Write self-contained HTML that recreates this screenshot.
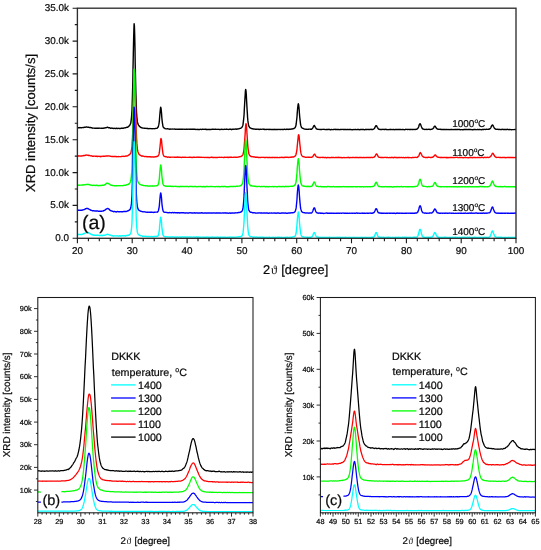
<!DOCTYPE html>
<html lang="en"><head><meta charset="utf-8"><title>XRD patterns</title>
<style>html,body{margin:0;padding:0;background:#fff}body{width:541px;height:550px;overflow:hidden}svg text{white-space:pre;text-rendering:geometricPrecision;stroke:#0a0a0a;stroke-width:0.22px}</style>
</head><body>
<svg width="541" height="550" viewBox="0 0 541 550" style="display:block">
<rect width="541" height="550" fill="#fff"/>
<clipPath id="ca"><rect x="77.4" y="8.2" width="438.6" height="230.90000000000003"/></clipPath>
<g fill="none" stroke-width="1.4" stroke-linejoin="round" clip-path="url(#ca)">
<path d="M77.4 127.6L77.7 127.7L77.9 127.8L78.2 127.7L78.5 127.7L78.8 127.8L79 127.8L79.3 127.9L79.6 127.6L79.9 127.6L80.1 127.5L80.4 127.7L80.7 127.8L81 127.8L81.2 127.8L81.5 127.7L81.8 127.7L82.1 127.6L82.3 127.6L82.6 127.6L82.9 127.5L83.2 127.5L83.4 127.5L83.7 127.5L84 127.5L84.3 127.3L84.5 127.3L84.8 127.3L85.1 127.3L85.3 127.2L85.6 127.2L85.9 127.1L86.2 127L86.4 127L86.7 127L87 127.1L87.3 127.1L87.5 127.2L87.8 127.2L88.1 127.2L88.4 127.2L88.6 127.2L88.9 127.3L89.2 127.4L89.5 127.5L89.7 127.4L90 127.4L90.3 127.5L90.6 127.5L90.8 127.7L91.1 127.8L91.4 127.8L91.7 127.8L91.9 127.8L92.2 128L92.5 128L92.8 128.2L93 128.1L93.3 128.1L93.6 128.1L93.8 128.1L94.1 128.2L94.4 128.1L94.7 128.2L94.9 128.3L95.2 128.3L95.5 128.1L95.8 128.2L96 128.3L96.3 128.3L96.6 128.2L96.9 128.1L97.1 128.2L97.4 128.2L97.7 128.3L98 128.2L98.2 128.2L98.5 128.2L98.8 128.4L99.1 128.3L99.3 128.2L99.6 128.1L99.9 128.1L100.2 128.1L100.4 128.2L100.7 128.3L101 128.4L101.2 128.3L101.5 128.3L101.8 128.3L102.1 128.4L102.3 128.3L102.6 128.2L102.9 128.2L103.2 128.3L103.4 128.3L103.7 128.2L104 128L104.3 127.9L104.5 128L104.8 128L105.1 127.9L105.4 127.8L105.6 127.8L105.9 127.7L106.2 127.7L106.5 127.5L106.7 127.5L107 127.3L107.3 127.2L107.6 127.1L107.8 127.4L108.1 127.5L108.4 127.7L108.7 127.6L108.9 127.8L109.2 127.8L109.5 127.8L109.7 127.8L110 128L110.3 128.2L110.6 128.2L110.8 128.2L111.1 128L111.4 128.1L111.7 128.1L111.9 128.3L112.2 128.2L112.5 128.2L112.8 128.2L113 128.3L113.3 128.4L113.6 128.5L113.9 128.4L114.1 128.3L114.4 128.3L114.7 128.4L115 128.4L115.2 128.5L115.5 128.5L115.8 128.5L116.1 128.3L116.3 128.3L116.6 128.3L116.9 128.5L117.1 128.6L117.4 128.5L117.7 128.4L118 128.3L118.2 128.3L118.5 128.4L118.8 128.4L119.1 128.5L119.3 128.5L119.6 128.5L119.9 128.4L120.2 128.4L120.4 128.5L120.7 128.4L121 128.3L121.3 128.3L121.5 128.3L121.8 128.3L122.1 128.2L122.4 128.1L122.6 128.2L122.9 128.2L123.2 128.3L123.5 128.1L123.7 128.1L124 128L124.3 127.9L124.5 127.9L124.8 127.8L125.1 127.8L125.4 127.8L125.6 127.8L125.9 127.7L126.2 127.5L126.5 127.4L126.7 127.2L127 127.2L127.3 127.2L127.6 127.2L127.8 127L128.1 126.8L128.4 126.6L128.7 126.5L128.9 126.1L129.2 125.9L129.5 125.5L129.8 125.2L130 124.7L130.3 124.2L130.6 123.5L130.9 122.3L131.1 120.7L131.4 118.3L131.7 114.9L132 110L132.2 103.2L132.5 94.1L132.8 82.7L133 69.3L133.3 54.5L133.6 40.3L133.9 28.9L134.1 23.7L134.4 25.8L134.7 35.1L135 48.5L135.2 63.4L135.5 77.6L135.8 90L136.1 100.1L136.3 107.7L136.6 113.3L136.9 117.3L137.2 120L137.4 121.9L137.7 123.1L138 124.1L138.3 124.6L138.5 125L138.8 125.5L139.1 125.9L139.4 126.3L139.6 126.5L139.9 126.7L140.2 127L140.4 127.2L140.7 127.4L141 127.5L141.3 127.5L141.5 127.7L141.8 127.7L142.1 127.8L142.4 127.9L142.6 128L142.9 128.1L143.2 128.1L143.5 128.1L143.7 128.1L144 128.2L144.3 128.4L144.6 128.4L144.8 128.3L145.1 128.3L145.4 128.3L145.7 128.4L145.9 128.4L146.2 128.3L146.5 128.4L146.8 128.4L147 128.5L147.3 128.5L147.6 128.6L147.9 128.5L148.1 128.6L148.4 128.6L148.7 128.7L148.9 128.8L149.2 128.7L149.5 128.6L149.8 128.6L150 128.5L150.3 128.6L150.6 128.6L150.9 128.6L151.1 128.6L151.4 128.7L151.7 128.7L152 128.6L152.2 128.6L152.5 128.7L152.8 128.7L153.1 128.6L153.3 128.6L153.6 128.6L153.9 128.7L154.2 128.6L154.4 128.7L154.7 128.6L155 128.6L155.3 128.5L155.5 128.4L155.8 128.4L156.1 128.4L156.3 128.4L156.6 128.4L156.9 128.3L157.2 128.1L157.4 127.9L157.7 127.5L158 127.3L158.3 126.6L158.5 125.9L158.8 124.7L159.1 123L159.4 120.6L159.6 117.5L159.9 114.1L160.2 110.8L160.5 108.2L160.7 107.2L161 108.2L161.3 110.8L161.6 114.1L161.8 117.4L162.1 120.4L162.4 122.8L162.7 124.7L162.9 126.1L163.2 127L163.5 127.4L163.7 127.7L164 127.9L164.3 128.2L164.6 128.3L164.8 128.5L165.1 128.5L165.4 128.7L165.7 128.8L165.9 128.9L166.2 128.9L166.5 128.9L166.8 128.9L167 128.9L167.3 128.7L167.6 128.7L167.9 128.8L168.1 128.9L168.4 128.9L168.7 129L169 129L169.2 129L169.5 129.2L169.8 129.2L170.1 129.2L170.3 129L170.6 129.1L170.9 129.1L171.2 129.1L171.4 129.1L171.7 129.1L172 129.1L172.2 129L172.5 129.1L172.8 129.1L173.1 129.1L173.3 129.1L173.6 129.1L173.9 129.1L174.2 129L174.4 129L174.7 129.1L175 129.2L175.3 129.2L175.5 129.2L175.8 129.2L176.1 129.1L176.4 129.2L176.6 129.2L176.9 129.4L177.2 129.4L177.5 129.3L177.7 129.2L178 129.2L178.3 129.4L178.6 129.3L178.8 129.3L179.1 129.3L179.4 129.3L179.6 129.3L179.9 129.2L180.2 129.2L180.5 129.2L180.7 129.2L181 129.1L181.3 129.3L181.6 129.3L181.8 129.3L182.1 129.2L182.4 129.2L182.7 129.2L182.9 129.1L183.2 129.1L183.5 129.2L183.8 129.3L184 129.4L184.3 129.3L184.6 129.2L184.9 129.2L185.1 129.3L185.4 129.3L185.7 129.4L186 129.3L186.2 129.3L186.5 129.2L186.8 129.4L187.1 129.4L187.3 129.3L187.6 129.2L187.9 129.2L188.1 129.2L188.4 129.2L188.7 129.1L189 129.1L189.2 129.2L189.5 129.2L189.8 129.2L190.1 129.3L190.3 129.2L190.6 129.3L190.9 129.1L191.2 129.3L191.4 129.3L191.7 129.3L192 129.3L192.3 129.3L192.5 129.3L192.8 129.2L193.1 129.3L193.4 129.3L193.6 129.3L193.9 129.2L194.2 129.2L194.5 129.3L194.7 129.3L195 129.3L195.3 129.3L195.5 129.4L195.8 129.5L196.1 129.5L196.4 129.4L196.6 129.4L196.9 129.4L197.2 129.4L197.5 129.3L197.7 129.5L198 129.4L198.3 129.5L198.6 129.5L198.8 129.5L199.1 129.4L199.4 129.4L199.7 129.5L199.9 129.4L200.2 129.4L200.5 129.3L200.8 129.3L201 129.3L201.3 129.4L201.6 129.5L201.9 129.4L202.1 129.3L202.4 129.2L202.7 129.2L202.9 129.3L203.2 129.3L203.5 129.4L203.8 129.3L204 129.3L204.3 129.3L204.6 129.4L204.9 129.4L205.1 129.3L205.4 129.1L205.7 129.1L206 129.2L206.2 129.5L206.5 129.5L206.8 129.5L207.1 129.4L207.3 129.4L207.6 129.5L207.9 129.4L208.2 129.5L208.4 129.5L208.7 129.4L209 129.3L209.3 129.4L209.5 129.5L209.8 129.5L210.1 129.4L210.4 129.4L210.6 129.5L210.9 129.5L211.2 129.4L211.4 129.4L211.7 129.3L212 129.2L212.3 129.2L212.5 129.2L212.8 129.2L213.1 129.2L213.4 129.2L213.6 129.3L213.9 129.4L214.2 129.4L214.5 129.3L214.7 129.3L215 129.3L215.3 129.3L215.6 129.3L215.8 129.3L216.1 129.3L216.4 129.4L216.7 129.4L216.9 129.4L217.2 129.4L217.5 129.4L217.8 129.3L218 129.3L218.3 129.3L218.6 129.4L218.8 129.4L219.1 129.4L219.4 129.5L219.7 129.5L219.9 129.4L220.2 129.4L220.5 129.4L220.8 129.5L221 129.4L221.3 129.3L221.6 129.3L221.9 129.3L222.1 129.3L222.4 129.4L222.7 129.4L223 129.5L223.2 129.4L223.5 129.4L223.8 129.4L224.1 129.4L224.3 129.3L224.6 129.2L224.9 129.3L225.2 129.4L225.4 129.3L225.7 129.4L226 129.3L226.2 129.4L226.5 129.2L226.8 129.3L227.1 129.3L227.3 129.4L227.6 129.3L227.9 129.4L228.2 129.4L228.4 129.4L228.7 129.5L229 129.4L229.3 129.3L229.5 129.2L229.8 129.2L230.1 129.3L230.4 129.3L230.6 129.3L230.9 129.2L231.2 129.3L231.5 129.6L231.7 129.7L232 129.5L232.3 129.3L232.6 129.3L232.8 129.3L233.1 129.3L233.4 129.3L233.7 129.2L233.9 129.1L234.2 129.1L234.5 129.2L234.7 129.2L235 129.2L235.3 129.1L235.6 129L235.8 129L236.1 129.1L236.4 129.3L236.7 129.2L236.9 129L237.2 128.9L237.5 128.9L237.8 129L238 128.9L238.3 128.9L238.6 128.8L238.9 128.8L239.1 128.6L239.4 128.6L239.7 128.5L240 128.4L240.2 128.4L240.5 128.3L240.8 128.2L241.1 128L241.3 127.8L241.6 127.6L241.9 127.3L242.1 127.1L242.4 126.5L242.7 125.7L243 124.6L243.2 122.9L243.5 120.7L243.8 117.7L244.1 114.2L244.3 109.7L244.6 104.6L244.9 99.3L245.2 94.5L245.4 90.9L245.7 89.5L246 90.9L246.3 94.3L246.5 99.1L246.8 104.4L247.1 109.6L247.4 114.1L247.6 117.8L247.9 120.9L248.2 123L248.5 124.7L248.7 125.6L249 126.5L249.3 126.9L249.6 127.3L249.8 127.7L250.1 127.9L250.4 128L250.6 128.1L250.9 128.2L251.2 128.4L251.5 128.5L251.7 128.5L252 128.7L252.3 128.7L252.6 128.8L252.8 128.8L253.1 129L253.4 129L253.7 129L253.9 129L254.2 129L254.5 129.1L254.8 129.1L255 129.2L255.3 129.2L255.6 129.3L255.9 129.3L256.1 129.3L256.4 129.3L256.7 129.3L257 129.3L257.2 129.2L257.5 129.1L257.8 129.1L258 129.2L258.3 129.2L258.6 129.4L258.9 129.4L259.1 129.5L259.4 129.5L259.7 129.4L260 129.2L260.2 129.2L260.5 129.2L260.8 129.3L261.1 129.4L261.3 129.3L261.6 129.4L261.9 129.3L262.2 129.2L262.4 129.1L262.7 129.1L263 129.2L263.3 129.3L263.5 129.3L263.8 129.2L264.1 129.3L264.4 129.3L264.6 129.5L264.9 129.5L265.2 129.4L265.4 129.4L265.7 129.4L266 129.5L266.3 129.5L266.5 129.4L266.8 129.3L267.1 129.3L267.4 129.4L267.6 129.4L267.9 129.4L268.2 129.3L268.5 129.4L268.7 129.5L269 129.5L269.3 129.6L269.6 129.4L269.8 129.3L270.1 129.3L270.4 129.4L270.7 129.5L270.9 129.5L271.2 129.4L271.5 129.5L271.8 129.6L272 129.6L272.3 129.5L272.6 129.4L272.9 129.5L273.1 129.4L273.4 129.6L273.7 129.5L273.9 129.5L274.2 129.4L274.5 129.3L274.8 129.5L275 129.4L275.3 129.5L275.6 129.4L275.9 129.5L276.1 129.5L276.4 129.4L276.7 129.5L277 129.5L277.2 129.6L277.5 129.5L277.8 129.4L278.1 129.4L278.3 129.4L278.6 129.4L278.9 129.5L279.2 129.5L279.4 129.4L279.7 129.4L280 129.4L280.3 129.4L280.5 129.5L280.8 129.4L281.1 129.5L281.3 129.4L281.6 129.4L281.9 129.4L282.2 129.4L282.4 129.6L282.7 129.5L283 129.6L283.3 129.5L283.5 129.5L283.8 129.4L284.1 129.3L284.4 129.3L284.6 129.3L284.9 129.3L285.2 129.4L285.5 129.4L285.7 129.5L286 129.5L286.3 129.4L286.6 129.2L286.8 129.3L287.1 129.3L287.4 129.3L287.7 129.3L287.9 129.4L288.2 129.5L288.5 129.4L288.8 129.2L289 129.2L289.3 129.2L289.6 129.3L289.8 129.3L290.1 129.3L290.4 129.3L290.7 129.2L290.9 129.1L291.2 129L291.5 129.1L291.8 129.2L292 129.1L292.3 128.9L292.6 128.8L292.9 128.8L293.1 128.8L293.4 128.6L293.7 128.5L294 128.5L294.2 128.3L294.5 128.2L294.8 127.9L295.1 127.6L295.3 127.3L295.6 126.6L295.9 125.6L296.2 124L296.4 122L296.7 119.5L297 116.7L297.2 113.4L297.5 110L297.8 106.9L298.1 104.6L298.3 103.8L298.6 104.6L298.9 106.8L299.2 110L299.4 113.3L299.7 116.7L300 119.6L300.3 122.1L300.5 124L300.8 125.4L301.1 126.3L301.4 127.2L301.6 127.5L301.9 127.8L302.2 128L302.5 128.1L302.7 128.3L303 128.3L303.3 128.5L303.6 128.7L303.8 128.8L304.1 128.9L304.4 128.9L304.6 129.1L304.9 129.2L305.2 129.2L305.5 129.2L305.7 129.1L306 129.1L306.3 129.1L306.6 129.3L306.8 129.4L307.1 129.4L307.4 129.4L307.7 129.3L307.9 129.3L308.2 129.3L308.5 129.3L308.8 129.2L309 129.1L309.3 129.1L309.6 129.1L309.9 129.2L310.1 129.2L310.4 129.3L310.7 129.2L311 129.2L311.2 129.2L311.5 129.2L311.8 128.9L312.1 128.8L312.3 128.6L312.6 128.3L312.9 127.7L313.1 127.2L313.4 126.6L313.7 126.1L314 125.6L314.2 125.4L314.5 125.6L314.8 126.2L315.1 126.8L315.3 127.3L315.6 127.7L315.9 128.1L316.2 128.5L316.4 128.9L316.7 129L317 129.1L317.3 129.1L317.5 129.3L317.8 129.3L318.1 129.4L318.4 129.3L318.6 129.4L318.9 129.4L319.2 129.5L319.5 129.4L319.7 129.4L320 129.4L320.3 129.5L320.5 129.6L320.8 129.5L321.1 129.5L321.4 129.5L321.6 129.6L321.9 129.4L322.2 129.4L322.5 129.4L322.7 129.4L323 129.3L323.3 129.4L323.6 129.3L323.8 129.4L324.1 129.3L324.4 129.4L324.7 129.4L324.9 129.6L325.2 129.6L325.5 129.6L325.8 129.6L326 129.5L326.3 129.6L326.6 129.4L326.9 129.5L327.1 129.5L327.4 129.5L327.7 129.5L328 129.5L328.2 129.5L328.5 129.4L328.8 129.3L329 129.3L329.3 129.5L329.6 129.5L329.9 129.6L330.1 129.7L330.4 129.8L330.7 129.8L331 129.5L331.2 129.5L331.5 129.5L331.8 129.6L332.1 129.6L332.3 129.6L332.6 129.6L332.9 129.6L333.2 129.5L333.4 129.5L333.7 129.5L334 129.4L334.3 129.3L334.5 129.4L334.8 129.4L335.1 129.5L335.4 129.3L335.6 129.5L335.9 129.5L336.2 129.5L336.4 129.5L336.7 129.4L337 129.4L337.3 129.5L337.5 129.5L337.8 129.5L338.1 129.4L338.4 129.5L338.6 129.5L338.9 129.6L339.2 129.6L339.5 129.7L339.7 129.6L340 129.5L340.3 129.4L340.6 129.6L340.8 129.5L341.1 129.4L341.4 129.4L341.7 129.4L341.9 129.5L342.2 129.4L342.5 129.4L342.8 129.4L343 129.4L343.3 129.5L343.6 129.4L343.8 129.5L344.1 129.5L344.4 129.6L344.7 129.6L344.9 129.5L345.2 129.5L345.5 129.5L345.8 129.5L346 129.5L346.3 129.6L346.6 129.6L346.9 129.5L347.1 129.4L347.4 129.4L347.7 129.5L348 129.6L348.2 129.6L348.5 129.6L348.8 129.5L349.1 129.6L349.3 129.4L349.6 129.5L349.9 129.4L350.2 129.5L350.4 129.4L350.7 129.4L351 129.6L351.3 129.7L351.5 129.7L351.8 129.6L352.1 129.6L352.3 129.8L352.6 129.6L352.9 129.6L353.2 129.5L353.4 129.6L353.7 129.6L354 129.6L354.3 129.6L354.5 129.6L354.8 129.5L355.1 129.4L355.4 129.4L355.6 129.5L355.9 129.5L356.2 129.6L356.5 129.6L356.7 129.6L357 129.6L357.3 129.5L357.6 129.5L357.8 129.5L358.1 129.5L358.4 129.5L358.7 129.5L358.9 129.5L359.2 129.6L359.5 129.7L359.7 129.7L360 129.7L360.3 129.5L360.6 129.5L360.8 129.5L361.1 129.5L361.4 129.5L361.7 129.4L361.9 129.4L362.2 129.4L362.5 129.5L362.8 129.5L363 129.5L363.3 129.5L363.6 129.5L363.9 129.6L364.1 129.7L364.4 129.8L364.7 129.7L365 129.6L365.2 129.4L365.5 129.4L365.8 129.6L366.1 129.6L366.3 129.5L366.6 129.5L366.9 129.5L367.2 129.5L367.4 129.4L367.7 129.4L368 129.4L368.2 129.4L368.5 129.5L368.8 129.5L369.1 129.6L369.3 129.5L369.6 129.5L369.9 129.6L370.2 129.6L370.4 129.4L370.7 129.3L371 129.2L371.3 129.4L371.5 129.5L371.8 129.6L372.1 129.5L372.4 129.5L372.6 129.5L372.9 129.4L373.2 129.3L373.5 129.2L373.7 129L374 128.8L374.3 128.5L374.6 128.2L374.8 127.7L375.1 127.2L375.4 126.7L375.6 126.1L375.9 125.7L376.2 125.6L376.5 125.8L376.7 126.2L377 126.7L377.3 127.3L377.6 127.7L377.8 128.2L378.1 128.6L378.4 128.8L378.7 129L378.9 129.3L379.2 129.3L379.5 129.3L379.8 129.4L380 129.5L380.3 129.6L380.6 129.5L380.9 129.5L381.1 129.5L381.4 129.4L381.7 129.5L382 129.5L382.2 129.4L382.5 129.4L382.8 129.3L383 129.4L383.3 129.3L383.6 129.4L383.9 129.5L384.1 129.6L384.4 129.6L384.7 129.5L385 129.3L385.2 129.3L385.5 129.3L385.8 129.4L386.1 129.6L386.3 129.6L386.6 129.5L386.9 129.5L387.2 129.6L387.4 129.6L387.7 129.7L388 129.6L388.3 129.7L388.5 129.6L388.8 129.6L389.1 129.5L389.4 129.4L389.6 129.5L389.9 129.6L390.2 129.7L390.5 129.5L390.7 129.3L391 129.4L391.3 129.4L391.5 129.5L391.8 129.6L392.1 129.6L392.4 129.6L392.6 129.6L392.9 129.4L393.2 129.5L393.5 129.5L393.7 129.6L394 129.5L394.3 129.6L394.6 129.7L394.8 129.7L395.1 129.6L395.4 129.5L395.7 129.4L395.9 129.5L396.2 129.5L396.5 129.5L396.8 129.5L397 129.6L397.3 129.6L397.6 129.5L397.9 129.5L398.1 129.4L398.4 129.4L398.7 129.4L398.9 129.5L399.2 129.6L399.5 129.5L399.8 129.5L400 129.5L400.3 129.5L400.6 129.5L400.9 129.5L401.1 129.5L401.4 129.6L401.7 129.6L402 129.6L402.2 129.6L402.5 129.5L402.8 129.5L403.1 129.5L403.3 129.5L403.6 129.6L403.9 129.6L404.2 129.7L404.4 129.7L404.7 129.7L405 129.6L405.3 129.5L405.5 129.4L405.8 129.3L406.1 129.3L406.4 129.4L406.6 129.4L406.9 129.4L407.2 129.4L407.4 129.5L407.7 129.5L408 129.4L408.3 129.4L408.5 129.4L408.8 129.4L409.1 129.5L409.4 129.5L409.6 129.5L409.9 129.5L410.2 129.6L410.5 129.5L410.7 129.5L411 129.4L411.3 129.4L411.6 129.4L411.8 129.5L412.1 129.5L412.4 129.6L412.7 129.5L412.9 129.4L413.2 129.4L413.5 129.4L413.8 129.5L414 129.5L414.3 129.5L414.6 129.4L414.8 129.4L415.1 129.4L415.4 129.5L415.7 129.4L415.9 129.3L416.2 129.4L416.5 129.4L416.8 129.2L417 129L417.3 128.9L417.6 128.6L417.9 128.3L418.1 127.8L418.4 127.4L418.7 126.7L419 125.8L419.2 124.9L419.5 124.2L419.8 123.8L420.1 123.7L420.3 123.9L420.6 124.4L420.9 125.2L421.2 125.9L421.4 126.7L421.7 127.3L422 127.9L422.2 128.4L422.5 128.8L422.8 129L423.1 129L423.3 129.1L423.6 129.2L423.9 129.2L424.2 129.3L424.4 129.4L424.7 129.5L425 129.5L425.3 129.4L425.5 129.4L425.8 129.4L426.1 129.3L426.4 129.3L426.6 129.4L426.9 129.5L427.2 129.5L427.5 129.4L427.7 129.4L428 129.4L428.3 129.4L428.6 129.3L428.8 129.2L429.1 129.2L429.4 129.3L429.7 129.4L429.9 129.5L430.2 129.5L430.5 129.5L430.7 129.4L431 129.4L431.3 129.3L431.6 129.3L431.8 129.3L432.1 129.2L432.4 129L432.7 128.8L432.9 128.6L433.2 128.4L433.5 128.1L433.8 127.5L434 126.9L434.3 126.5L434.6 126.2L434.9 126.1L435.1 126.3L435.4 126.6L435.7 127.1L436 127.6L436.2 128L436.5 128.4L436.8 128.6L437.1 128.9L437.3 128.9L437.6 129.1L437.9 129.2L438.1 129.3L438.4 129.2L438.7 129.3L439 129.4L439.2 129.4L439.5 129.3L439.8 129.3L440.1 129.3L440.3 129.3L440.6 129.3L440.9 129.5L441.2 129.6L441.4 129.5L441.7 129.4L442 129.5L442.3 129.6L442.5 129.6L442.8 129.5L443.1 129.5L443.4 129.5L443.6 129.5L443.9 129.5L444.2 129.5L444.5 129.4L444.7 129.5L445 129.5L445.3 129.5L445.5 129.6L445.8 129.6L446.1 129.6L446.4 129.4L446.6 129.4L446.9 129.5L447.2 129.5L447.5 129.6L447.7 129.6L448 129.6L448.3 129.5L448.6 129.6L448.8 129.6L449.1 129.7L449.4 129.6L449.7 129.6L449.9 129.5L450.2 129.6L450.5 129.6L450.8 129.6L451 129.5L451.3 129.5L451.6 129.5L451.9 129.6L452.1 129.5L452.4 129.6L452.7 129.6L453 129.6L453.2 129.6L453.5 129.6L453.8 129.6L454 129.5L454.3 129.6L454.6 129.6L454.9 129.6L455.1 129.5L455.4 129.5L455.7 129.4L456 129.5L456.2 129.5L456.5 129.6L456.8 129.6L457.1 129.5L457.3 129.5L457.6 129.5L457.9 129.5L458.2 129.4L458.4 129.4L458.7 129.4L459 129.5L459.3 129.5L459.5 129.5L459.8 129.5L460.1 129.7L460.4 129.6L460.6 129.7L460.9 129.6L461.2 129.6L461.4 129.6L461.7 129.6L462 129.6L462.3 129.7L462.5 129.6L462.8 129.7L463.1 129.7L463.4 129.7L463.6 129.6L463.9 129.5L464.2 129.5L464.5 129.5L464.7 129.5L465 129.6L465.3 129.5L465.6 129.5L465.8 129.4L466.1 129.5L466.4 129.5L466.7 129.5L466.9 129.5L467.2 129.5L467.5 129.6L467.8 129.6L468 129.6L468.3 129.5L468.6 129.4L468.9 129.5L469.1 129.5L469.4 129.6L469.7 129.5L469.9 129.6L470.2 129.6L470.5 129.6L470.8 129.4L471 129.5L471.3 129.6L471.6 129.6L471.9 129.7L472.1 129.6L472.4 129.7L472.7 129.7L473 129.8L473.2 129.7L473.5 129.6L473.8 129.5L474.1 129.4L474.3 129.5L474.6 129.5L474.9 129.5L475.2 129.4L475.4 129.5L475.7 129.6L476 129.7L476.3 129.6L476.5 129.6L476.8 129.6L477.1 129.6L477.3 129.5L477.6 129.4L477.9 129.4L478.2 129.5L478.4 129.6L478.7 129.7L479 129.6L479.3 129.5L479.5 129.4L479.8 129.4L480.1 129.6L480.4 129.6L480.6 129.6L480.9 129.6L481.2 129.7L481.5 129.7L481.7 129.7L482 129.5L482.3 129.5L482.6 129.5L482.8 129.6L483.1 129.5L483.4 129.5L483.7 129.4L483.9 129.5L484.2 129.3L484.5 129.4L484.7 129.4L485 129.4L485.3 129.5L485.6 129.4L485.8 129.4L486.1 129.3L486.4 129.3L486.7 129.3L486.9 129.4L487.2 129.4L487.5 129.4L487.8 129.4L488 129.3L488.3 129.3L488.6 129.3L488.9 129.3L489.1 129.2L489.4 129.1L489.7 128.9L490 128.7L490.2 128.5L490.5 128.2L490.8 127.8L491.1 127.1L491.3 126.5L491.6 125.9L491.9 125.5L492.2 125.1L492.4 125L492.7 125.1L493 125.4L493.2 125.9L493.5 126.5L493.8 127L494.1 127.6L494.3 128.1L494.6 128.4L494.9 128.6L495.2 128.8L495.4 129L495.7 129.1L496 129.3L496.3 129.3L496.5 129.3L496.8 129.4L497.1 129.4L497.4 129.3L497.6 129.3L497.9 129.3L498.2 129.3L498.5 129.4L498.7 129.5L499 129.5L499.3 129.4L499.6 129.3L499.8 129.4L500.1 129.5L500.4 129.6L500.6 129.6L500.9 129.6L501.2 129.5L501.5 129.6L501.7 129.5L502 129.4L502.3 129.3L502.6 129.3L502.8 129.4L503.1 129.5L503.4 129.5L503.7 129.6L503.9 129.5L504.2 129.5L504.5 129.5L504.8 129.5L505 129.6L505.3 129.6L505.6 129.5L505.9 129.5L506.1 129.4L506.4 129.5L506.7 129.5L507 129.5L507.2 129.4L507.5 129.3L507.8 129.3L508.1 129.4L508.3 129.5L508.6 129.6L508.9 129.7L509.1 129.7L509.4 129.6L509.7 129.4L510 129.4L510.2 129.5L510.5 129.6L510.8 129.6L511.1 129.7L511.3 129.7L511.6 129.7L511.9 129.6L512.2 129.6L512.4 129.6L512.7 129.6L513 129.6L513.3 129.6L513.5 129.6L513.8 129.6L514.1 129.6L514.4 129.6L514.6 129.4L514.9 129.4L515.2 129.4L515.5 129.5L515.7 129.7L516 129.8" stroke="#000000"/>
<path d="M77.4 155.8L77.7 155.7L77.9 155.8L78.2 156L78.5 156.1L78.8 156L79 156L79.3 155.9L79.6 155.9L79.9 155.9L80.1 156L80.4 156.1L80.7 156.1L81 156L81.2 156L81.5 156L81.8 156L82.1 155.9L82.3 155.8L82.6 155.9L82.9 155.8L83.2 155.8L83.4 155.6L83.7 155.5L84 155.5L84.3 155.6L84.5 155.5L84.8 155.5L85.1 155.4L85.3 155.3L85.6 155.3L85.9 155.1L86.2 155L86.4 155.1L86.7 155.1L87 155.1L87.3 155.1L87.5 155.2L87.8 155.2L88.1 155.3L88.4 155.3L88.6 155.5L88.9 155.4L89.2 155.4L89.5 155.4L89.7 155.5L90 155.6L90.3 155.8L90.6 155.9L90.8 155.9L91.1 155.8L91.4 155.8L91.7 155.9L91.9 156L92.2 156.2L92.5 156.2L92.8 156.2L93 156.2L93.3 156.2L93.6 156.3L93.8 156.3L94.1 156.2L94.4 156.1L94.7 156.1L94.9 156.1L95.2 156.2L95.5 156.2L95.8 156.1L96 156.2L96.3 156.2L96.6 156.3L96.9 156.3L97.1 156.5L97.4 156.6L97.7 156.5L98 156.3L98.2 156.2L98.5 156.3L98.8 156.4L99.1 156.4L99.3 156.3L99.6 156.4L99.9 156.4L100.2 156.7L100.4 156.5L100.7 156.5L101 156.2L101.2 156.4L101.5 156.4L101.8 156.5L102.1 156.4L102.3 156.3L102.6 156.2L102.9 156.1L103.2 156.2L103.4 156.3L103.7 156.3L104 156.2L104.3 156.2L104.5 156.2L104.8 156.2L105.1 156.2L105.4 156.1L105.6 156.1L105.9 156L106.2 156L106.5 156L106.7 155.9L107 156L107.3 155.9L107.6 156L107.8 155.9L108.1 155.9L108.4 155.9L108.7 155.9L108.9 156.1L109.2 156L109.5 156.1L109.7 156.1L110 156.2L110.3 156.3L110.6 156.3L110.8 156.4L111.1 156.4L111.4 156.4L111.7 156.5L111.9 156.4L112.2 156.5L112.5 156.5L112.8 156.4L113 156.5L113.3 156.5L113.6 156.6L113.9 156.6L114.1 156.5L114.4 156.6L114.7 156.4L115 156.4L115.2 156.4L115.5 156.6L115.8 156.5L116.1 156.5L116.3 156.6L116.6 156.7L116.9 156.7L117.1 156.6L117.4 156.6L117.7 156.7L118 156.7L118.2 156.5L118.5 156.6L118.8 156.6L119.1 156.6L119.3 156.6L119.6 156.6L119.9 156.6L120.2 156.7L120.4 156.6L120.7 156.6L121 156.6L121.3 156.6L121.5 156.5L121.8 156.4L122.1 156.3L122.4 156.4L122.6 156.3L122.9 156.4L123.2 156.3L123.5 156.4L123.7 156.3L124 156.5L124.3 156.4L124.5 156.4L124.8 156.3L125.1 156.3L125.4 156.2L125.6 156.1L125.9 156L126.2 155.9L126.5 156L126.7 156L127 156L127.3 155.9L127.6 155.8L127.8 155.7L128.1 155.6L128.4 155.3L128.7 155L128.9 154.9L129.2 154.8L129.5 154.7L129.8 154.3L130 154.1L130.3 153.8L130.6 153.4L130.9 152.8L131.1 151.8L131.4 150.5L131.7 148.8L132 146.5L132.2 142.8L132.5 137.6L132.8 130.5L133 121.6L133.3 110.9L133.6 99.1L133.9 87.3L134.1 77.6L134.4 72.3L134.7 72.9L135 79.3L135.2 89.6L135.5 101.5L135.8 113.2L136.1 123.6L136.3 132.1L136.6 138.6L136.9 143.4L137.2 146.9L137.4 149.3L137.7 150.8L138 151.9L138.3 152.8L138.5 153.4L138.8 154L139.1 154.3L139.4 154.5L139.6 154.7L139.9 155L140.2 155.2L140.4 155.4L140.7 155.5L141 155.7L141.3 155.9L141.5 156L141.8 156.1L142.1 155.9L142.4 155.9L142.6 156L142.9 156.2L143.2 156.2L143.5 156.1L143.7 156.2L144 156.3L144.3 156.5L144.6 156.6L144.8 156.6L145.1 156.6L145.4 156.5L145.7 156.6L145.9 156.6L146.2 156.7L146.5 156.6L146.8 156.5L147 156.7L147.3 156.7L147.6 156.8L147.9 156.8L148.1 156.8L148.4 156.8L148.7 156.8L148.9 156.8L149.2 156.8L149.5 156.8L149.8 156.7L150 156.6L150.3 156.7L150.6 156.9L150.9 157L151.1 157L151.4 157L151.7 156.9L152 156.8L152.2 156.8L152.5 156.9L152.8 157L153.1 156.9L153.3 157L153.6 156.9L153.9 157L154.2 156.9L154.4 157L154.7 156.9L155 156.8L155.3 156.6L155.5 156.6L155.8 156.7L156.1 156.8L156.3 156.6L156.6 156.5L156.9 156.6L157.2 156.5L157.4 156.3L157.7 156.1L158 156L158.3 155.7L158.5 155.3L158.8 154.7L159.1 153.7L159.4 152.2L159.6 150.2L159.9 147.8L160.2 144.9L160.5 142L160.7 139.6L161 138.5L161.3 139L161.6 141L161.8 143.7L162.1 146.6L162.4 149.2L162.7 151.5L162.9 153.3L163.2 154.5L163.5 155.3L163.7 155.8L164 156.2L164.3 156.4L164.6 156.4L164.8 156.6L165.1 156.5L165.4 156.7L165.7 156.7L165.9 156.8L166.2 156.8L166.5 156.8L166.8 156.9L167 157.1L167.3 157.2L167.6 157.2L167.9 157.2L168.1 157.1L168.4 157L168.7 157.1L169 157.2L169.2 157.2L169.5 157.2L169.8 157.2L170.1 157.2L170.3 157.3L170.6 157.2L170.9 157.2L171.2 157.1L171.4 157.1L171.7 157.1L172 157.2L172.2 157.2L172.5 157.1L172.8 157.1L173.1 157.1L173.3 157.1L173.6 157.1L173.9 157.2L174.2 157.2L174.4 157.3L174.7 157.2L175 157.2L175.3 157.2L175.5 157.3L175.8 157.3L176.1 157.3L176.4 157.1L176.6 157.2L176.9 157.3L177.2 157.1L177.5 157L177.7 157L178 157.2L178.3 157.4L178.6 157.3L178.8 157.3L179.1 157.3L179.4 157.3L179.6 157.3L179.9 157.3L180.2 157.4L180.5 157.3L180.7 157.3L181 157.3L181.3 157.4L181.6 157.5L181.8 157.4L182.1 157.3L182.4 157.2L182.7 157.2L182.9 157.3L183.2 157.3L183.5 157.4L183.8 157.3L184 157.3L184.3 157.2L184.6 157.3L184.9 157.4L185.1 157.3L185.4 157.3L185.7 157.3L186 157.4L186.2 157.4L186.5 157.4L186.8 157.4L187.1 157.4L187.3 157.4L187.6 157.4L187.9 157.4L188.1 157.4L188.4 157.3L188.7 157.4L189 157.4L189.2 157.2L189.5 157.3L189.8 157.3L190.1 157.4L190.3 157.3L190.6 157.3L190.9 157.3L191.2 157.3L191.4 157.4L191.7 157.5L192 157.5L192.3 157.5L192.5 157.4L192.8 157.3L193.1 157.3L193.4 157.3L193.6 157.3L193.9 157.3L194.2 157.3L194.5 157.3L194.7 157.3L195 157.3L195.3 157.4L195.5 157.4L195.8 157.4L196.1 157.4L196.4 157.3L196.6 157.3L196.9 157.2L197.2 157.1L197.5 157.2L197.7 157.2L198 157.3L198.3 157.2L198.6 157.3L198.8 157.3L199.1 157.3L199.4 157.3L199.7 157.3L199.9 157.4L200.2 157.4L200.5 157.3L200.8 157.3L201 157.3L201.3 157.2L201.6 157.3L201.9 157.4L202.1 157.4L202.4 157.4L202.7 157.4L202.9 157.4L203.2 157.4L203.5 157.4L203.8 157.3L204 157.4L204.3 157.4L204.6 157.5L204.9 157.4L205.1 157.4L205.4 157.4L205.7 157.4L206 157.5L206.2 157.5L206.5 157.4L206.8 157.4L207.1 157.3L207.3 157.4L207.6 157.5L207.9 157.5L208.2 157.4L208.4 157.4L208.7 157.5L209 157.6L209.3 157.7L209.5 157.6L209.8 157.5L210.1 157.5L210.4 157.4L210.6 157.4L210.9 157.3L211.2 157.3L211.4 157.2L211.7 157.3L212 157.3L212.3 157.3L212.5 157.4L212.8 157.5L213.1 157.6L213.4 157.5L213.6 157.6L213.9 157.5L214.2 157.6L214.5 157.4L214.7 157.4L215 157.4L215.3 157.4L215.6 157.6L215.8 157.5L216.1 157.5L216.4 157.5L216.7 157.4L216.9 157.5L217.2 157.4L217.5 157.5L217.8 157.4L218 157.4L218.3 157.3L218.6 157.4L218.8 157.4L219.1 157.4L219.4 157.3L219.7 157.3L219.9 157.4L220.2 157.4L220.5 157.4L220.8 157.4L221 157.2L221.3 157.2L221.6 157.3L221.9 157.4L222.1 157.4L222.4 157.4L222.7 157.4L223 157.4L223.2 157.4L223.5 157.5L223.8 157.5L224.1 157.5L224.3 157.3L224.6 157.3L224.9 157.3L225.2 157.4L225.4 157.4L225.7 157.3L226 157.2L226.2 157.3L226.5 157.3L226.8 157.4L227.1 157.3L227.3 157.3L227.6 157.3L227.9 157.5L228.2 157.6L228.4 157.5L228.7 157.4L229 157.2L229.3 157.1L229.5 157.2L229.8 157.3L230.1 157.3L230.4 157.2L230.6 157.3L230.9 157.3L231.2 157.3L231.5 157.2L231.7 157.2L232 157.3L232.3 157.4L232.6 157.4L232.8 157.4L233.1 157.4L233.4 157.3L233.7 157.3L233.9 157.2L234.2 157.1L234.5 157.1L234.7 157.2L235 157.2L235.3 157.2L235.6 157.2L235.8 157.3L236.1 157.4L236.4 157.3L236.7 157.3L236.9 157.3L237.2 157.2L237.5 157.2L237.8 157.1L238 157.1L238.3 157.1L238.6 157L238.9 156.9L239.1 156.8L239.4 156.8L239.7 156.8L240 156.7L240.2 156.6L240.5 156.7L240.8 156.6L241.1 156.4L241.3 156.2L241.6 156.1L241.9 155.9L242.1 155.7L242.4 155.5L242.7 155L243 154.4L243.2 153.5L243.5 152.3L243.8 150.5L244.1 148L244.3 145L244.6 141.4L244.9 137.3L245.2 132.9L245.4 128.7L245.7 125.2L246 123.7L246.3 124.4L246.5 127L246.8 130.8L247.1 135.2L247.4 139.6L247.6 143.6L247.9 146.9L248.2 149.6L248.5 151.5L248.7 153L249 154L249.3 154.9L249.6 155.3L249.8 155.6L250.1 155.8L250.4 155.9L250.6 156.3L250.9 156.4L251.2 156.6L251.5 156.7L251.7 156.7L252 156.6L252.3 156.6L252.6 156.6L252.8 156.8L253.1 156.8L253.4 156.9L253.7 156.8L253.9 157L254.2 157L254.5 157.1L254.8 157L255 157L255.3 157.2L255.6 157.2L255.9 157.2L256.1 157.2L256.4 157.2L256.7 157.3L257 157.3L257.2 157.3L257.5 157.3L257.8 157.3L258 157.3L258.3 157.5L258.6 157.6L258.9 157.6L259.1 157.5L259.4 157.5L259.7 157.4L260 157.4L260.2 157.4L260.5 157.5L260.8 157.4L261.1 157.4L261.3 157.3L261.6 157.4L261.9 157.4L262.2 157.4L262.4 157.4L262.7 157.3L263 157.4L263.3 157.3L263.5 157.4L263.8 157.4L264.1 157.5L264.4 157.4L264.6 157.4L264.9 157.6L265.2 157.5L265.4 157.6L265.7 157.4L266 157.5L266.3 157.4L266.5 157.3L266.8 157.4L267.1 157.4L267.4 157.5L267.6 157.6L267.9 157.5L268.2 157.5L268.5 157.4L268.7 157.5L269 157.5L269.3 157.6L269.6 157.5L269.8 157.6L270.1 157.5L270.4 157.5L270.7 157.6L270.9 157.6L271.2 157.6L271.5 157.5L271.8 157.4L272 157.4L272.3 157.4L272.6 157.6L272.9 157.6L273.1 157.5L273.4 157.4L273.7 157.4L273.9 157.4L274.2 157.5L274.5 157.5L274.8 157.5L275 157.5L275.3 157.5L275.6 157.4L275.9 157.5L276.1 157.6L276.4 157.6L276.7 157.5L277 157.5L277.2 157.4L277.5 157.5L277.8 157.5L278.1 157.6L278.3 157.6L278.6 157.6L278.9 157.6L279.2 157.6L279.4 157.5L279.7 157.5L280 157.4L280.3 157.4L280.5 157.4L280.8 157.5L281.1 157.5L281.3 157.5L281.6 157.3L281.9 157.3L282.2 157.3L282.4 157.4L282.7 157.5L283 157.5L283.3 157.6L283.5 157.5L283.8 157.5L284.1 157.5L284.4 157.5L284.6 157.3L284.9 157.3L285.2 157.3L285.5 157.4L285.7 157.3L286 157.3L286.3 157.3L286.6 157.3L286.8 157.3L287.1 157.4L287.4 157.3L287.7 157.3L287.9 157.2L288.2 157.3L288.5 157.4L288.8 157.5L289 157.5L289.3 157.3L289.6 157.2L289.8 157.1L290.1 157.2L290.4 157.3L290.7 157.3L290.9 157.3L291.2 157.3L291.5 157.2L291.8 157.1L292 156.8L292.3 156.9L292.6 157L292.9 157L293.1 157L293.4 157L293.7 157L294 156.8L294.2 156.6L294.5 156.4L294.8 156.3L295.1 156.2L295.3 155.9L295.6 155.5L295.9 154.7L296.2 153.8L296.4 152.7L296.7 151.1L297 149.1L297.2 146.6L297.5 143.7L297.8 140.6L298.1 137.7L298.3 135.6L298.6 134.7L298.9 135.1L299.2 136.9L299.4 139.6L299.7 142.5L300 145.4L300.3 148L300.5 150.5L300.8 152.2L301.1 153.7L301.4 154.6L301.6 155.3L301.9 155.7L302.2 156L302.5 156.3L302.7 156.5L303 156.6L303.3 156.7L303.6 156.8L303.8 156.8L304.1 156.8L304.4 156.9L304.6 157L304.9 157.1L305.2 157.2L305.5 157.2L305.7 157.4L306 157.4L306.3 157.4L306.6 157.3L306.8 157.3L307.1 157.2L307.4 157.1L307.7 157.1L307.9 157.3L308.2 157.3L308.5 157.3L308.8 157.2L309 157.3L309.3 157.1L309.6 157.2L309.9 157.2L310.1 157.4L310.4 157.4L310.7 157.3L311 157.2L311.2 157.3L311.5 157.2L311.8 157.2L312.1 157L312.3 157L312.6 156.8L312.9 156.6L313.1 156.1L313.4 155.7L313.7 155.1L314 154.6L314.2 154.4L314.5 154.2L314.8 154.2L315.1 154.5L315.3 155L315.6 155.6L315.9 156.1L316.2 156.5L316.4 156.7L316.7 156.8L317 157L317.3 157.1L317.5 157.3L317.8 157.3L318.1 157.4L318.4 157.3L318.6 157.4L318.9 157.5L319.2 157.4L319.5 157.5L319.7 157.5L320 157.6L320.3 157.6L320.5 157.5L320.8 157.4L321.1 157.4L321.4 157.4L321.6 157.4L321.9 157.4L322.2 157.4L322.5 157.5L322.7 157.3L323 157.2L323.3 157.3L323.6 157.4L323.8 157.5L324.1 157.5L324.4 157.6L324.7 157.7L324.9 157.6L325.2 157.5L325.5 157.5L325.8 157.5L326 157.6L326.3 157.6L326.6 157.8L326.9 157.7L327.1 157.6L327.4 157.5L327.7 157.5L328 157.6L328.2 157.6L328.5 157.6L328.8 157.5L329 157.5L329.3 157.6L329.6 157.7L329.9 157.7L330.1 157.7L330.4 157.6L330.7 157.6L331 157.5L331.2 157.5L331.5 157.6L331.8 157.5L332.1 157.5L332.3 157.5L332.6 157.6L332.9 157.4L333.2 157.4L333.4 157.4L333.7 157.5L334 157.6L334.3 157.6L334.5 157.6L334.8 157.6L335.1 157.5L335.4 157.4L335.6 157.4L335.9 157.5L336.2 157.5L336.4 157.5L336.7 157.5L337 157.5L337.3 157.5L337.5 157.4L337.8 157.5L338.1 157.3L338.4 157.3L338.6 157.5L338.9 157.6L339.2 157.6L339.5 157.5L339.7 157.5L340 157.4L340.3 157.4L340.6 157.4L340.8 157.6L341.1 157.8L341.4 157.6L341.7 157.6L341.9 157.5L342.2 157.7L342.5 157.7L342.8 157.6L343 157.6L343.3 157.6L343.6 157.6L343.8 157.5L344.1 157.5L344.4 157.6L344.7 157.7L344.9 157.7L345.2 157.6L345.5 157.6L345.8 157.6L346 157.7L346.3 157.6L346.6 157.6L346.9 157.5L347.1 157.4L347.4 157.5L347.7 157.6L348 157.6L348.2 157.5L348.5 157.3L348.8 157.5L349.1 157.6L349.3 157.8L349.6 157.6L349.9 157.6L350.2 157.6L350.4 157.6L350.7 157.5L351 157.6L351.3 157.6L351.5 157.6L351.8 157.6L352.1 157.5L352.3 157.5L352.6 157.4L352.9 157.5L353.2 157.4L353.4 157.4L353.7 157.4L354 157.5L354.3 157.6L354.5 157.6L354.8 157.6L355.1 157.5L355.4 157.5L355.6 157.6L355.9 157.6L356.2 157.5L356.5 157.6L356.7 157.5L357 157.6L357.3 157.5L357.6 157.5L357.8 157.4L358.1 157.6L358.4 157.6L358.7 157.7L358.9 157.6L359.2 157.5L359.5 157.5L359.7 157.5L360 157.5L360.3 157.5L360.6 157.4L360.8 157.5L361.1 157.5L361.4 157.6L361.7 157.4L361.9 157.6L362.2 157.6L362.5 157.7L362.8 157.6L363 157.5L363.3 157.4L363.6 157.5L363.9 157.5L364.1 157.6L364.4 157.6L364.7 157.7L365 157.6L365.2 157.5L365.5 157.6L365.8 157.6L366.1 157.6L366.3 157.4L366.6 157.5L366.9 157.5L367.2 157.4L367.4 157.4L367.7 157.4L368 157.5L368.2 157.5L368.5 157.5L368.8 157.6L369.1 157.6L369.3 157.5L369.6 157.5L369.9 157.5L370.2 157.6L370.4 157.6L370.7 157.5L371 157.4L371.3 157.3L371.5 157.4L371.8 157.4L372.1 157.6L372.4 157.5L372.6 157.5L372.9 157.4L373.2 157.4L373.5 157.4L373.7 157.4L374 157.2L374.3 156.9L374.6 156.7L374.8 156.3L375.1 156.1L375.4 155.6L375.6 155.1L375.9 154.6L376.2 154.1L376.5 153.9L376.7 153.9L377 154.3L377.3 154.8L377.6 155.3L377.8 155.9L378.1 156.4L378.4 156.9L378.7 157.1L378.9 157.2L379.2 157.3L379.5 157.4L379.8 157.4L380 157.4L380.3 157.4L380.6 157.5L380.9 157.4L381.1 157.5L381.4 157.5L381.7 157.6L382 157.5L382.2 157.5L382.5 157.5L382.8 157.6L383 157.5L383.3 157.6L383.6 157.6L383.9 157.6L384.1 157.5L384.4 157.4L384.7 157.4L385 157.4L385.2 157.4L385.5 157.4L385.8 157.4L386.1 157.5L386.3 157.6L386.6 157.5L386.9 157.5L387.2 157.5L387.4 157.5L387.7 157.5L388 157.6L388.3 157.6L388.5 157.7L388.8 157.6L389.1 157.6L389.4 157.5L389.6 157.6L389.9 157.6L390.2 157.6L390.5 157.7L390.7 157.6L391 157.4L391.3 157.3L391.5 157.5L391.8 157.5L392.1 157.5L392.4 157.4L392.6 157.4L392.9 157.5L393.2 157.7L393.5 157.6L393.7 157.7L394 157.5L394.3 157.6L394.6 157.3L394.8 157.3L395.1 157.4L395.4 157.5L395.7 157.5L395.9 157.4L396.2 157.4L396.5 157.5L396.8 157.7L397 157.7L397.3 157.7L397.6 157.5L397.9 157.6L398.1 157.5L398.4 157.7L398.7 157.6L398.9 157.5L399.2 157.5L399.5 157.5L399.8 157.5L400 157.6L400.3 157.6L400.6 157.6L400.9 157.5L401.1 157.4L401.4 157.4L401.7 157.4L402 157.5L402.2 157.5L402.5 157.7L402.8 157.6L403.1 157.6L403.3 157.5L403.6 157.5L403.9 157.6L404.2 157.6L404.4 157.7L404.7 157.7L405 157.7L405.3 157.5L405.5 157.5L405.8 157.6L406.1 157.7L406.4 157.5L406.6 157.5L406.9 157.4L407.2 157.4L407.4 157.4L407.7 157.5L408 157.7L408.3 157.7L408.5 157.5L408.8 157.6L409.1 157.5L409.4 157.6L409.6 157.6L409.9 157.6L410.2 157.6L410.5 157.6L410.7 157.6L411 157.7L411.3 157.7L411.6 157.7L411.8 157.6L412.1 157.6L412.4 157.5L412.7 157.5L412.9 157.4L413.2 157.4L413.5 157.5L413.8 157.5L414 157.5L414.3 157.4L414.6 157.4L414.8 157.4L415.1 157.4L415.4 157.4L415.7 157.3L415.9 157.3L416.2 157.4L416.5 157.4L416.8 157.5L417 157.4L417.3 157.4L417.6 157.1L417.9 156.9L418.1 156.6L418.4 156.3L418.7 156L419 155.5L419.2 154.9L419.5 154.1L419.8 153.3L420.1 152.8L420.3 152.6L420.6 152.9L420.9 153.3L421.2 153.8L421.4 154.3L421.7 154.9L422 155.5L422.2 155.9L422.5 156.3L422.8 156.5L423.1 156.8L423.3 156.9L423.6 157.1L423.9 157.2L424.2 157.4L424.4 157.4L424.7 157.4L425 157.4L425.3 157.5L425.5 157.6L425.8 157.4L426.1 157.4L426.4 157.4L426.6 157.5L426.9 157.6L427.2 157.5L427.5 157.5L427.7 157.4L428 157.4L428.3 157.2L428.6 157.2L428.8 157.3L429.1 157.4L429.4 157.4L429.7 157.3L429.9 157.4L430.2 157.4L430.5 157.6L430.7 157.6L431 157.6L431.3 157.4L431.6 157.3L431.8 157.3L432.1 157.4L432.4 157.3L432.7 157.3L432.9 157L433.2 156.7L433.5 156.5L433.8 156.3L434 156.1L434.3 155.7L434.6 155.4L434.9 155.1L435.1 155L435.4 155L435.7 155.1L436 155.6L436.2 156L436.5 156.3L436.8 156.6L437.1 156.8L437.3 157L437.6 157L437.9 157.1L438.1 157.2L438.4 157.4L438.7 157.4L439 157.3L439.2 157.4L439.5 157.4L439.8 157.5L440.1 157.5L440.3 157.6L440.6 157.6L440.9 157.4L441.2 157.3L441.4 157.4L441.7 157.5L442 157.5L442.3 157.5L442.5 157.6L442.8 157.6L443.1 157.6L443.4 157.5L443.6 157.5L443.9 157.4L444.2 157.4L444.5 157.4L444.7 157.5L445 157.6L445.3 157.6L445.5 157.5L445.8 157.5L446.1 157.7L446.4 157.7L446.6 157.5L446.9 157.3L447.2 157.4L447.5 157.5L447.7 157.7L448 157.7L448.3 157.7L448.6 157.5L448.8 157.6L449.1 157.6L449.4 157.6L449.7 157.4L449.9 157.5L450.2 157.5L450.5 157.6L450.8 157.6L451 157.5L451.3 157.5L451.6 157.5L451.9 157.6L452.1 157.5L452.4 157.5L452.7 157.6L453 157.6L453.2 157.6L453.5 157.5L453.8 157.5L454 157.6L454.3 157.6L454.6 157.6L454.9 157.5L455.1 157.4L455.4 157.4L455.7 157.4L456 157.3L456.2 157.4L456.5 157.4L456.8 157.4L457.1 157.3L457.3 157.3L457.6 157.5L457.9 157.6L458.2 157.6L458.4 157.6L458.7 157.6L459 157.6L459.3 157.6L459.5 157.5L459.8 157.5L460.1 157.4L460.4 157.4L460.6 157.5L460.9 157.6L461.2 157.6L461.4 157.5L461.7 157.5L462 157.5L462.3 157.6L462.5 157.6L462.8 157.7L463.1 157.6L463.4 157.7L463.6 157.7L463.9 157.7L464.2 157.6L464.5 157.6L464.7 157.6L465 157.5L465.3 157.4L465.6 157.5L465.8 157.6L466.1 157.6L466.4 157.6L466.7 157.6L466.9 157.6L467.2 157.6L467.5 157.7L467.8 157.8L468 157.7L468.3 157.7L468.6 157.8L468.9 157.7L469.1 157.6L469.4 157.5L469.7 157.6L469.9 157.6L470.2 157.5L470.5 157.5L470.8 157.5L471 157.6L471.3 157.6L471.6 157.6L471.9 157.7L472.1 157.7L472.4 157.7L472.7 157.5L473 157.6L473.2 157.5L473.5 157.5L473.8 157.4L474.1 157.5L474.3 157.4L474.6 157.5L474.9 157.5L475.2 157.5L475.4 157.6L475.7 157.7L476 157.6L476.3 157.6L476.5 157.6L476.8 157.6L477.1 157.5L477.3 157.5L477.6 157.5L477.9 157.6L478.2 157.6L478.4 157.6L478.7 157.5L479 157.5L479.3 157.5L479.5 157.5L479.8 157.5L480.1 157.6L480.4 157.6L480.6 157.6L480.9 157.6L481.2 157.5L481.5 157.4L481.7 157.3L482 157.2L482.3 157.4L482.6 157.4L482.8 157.6L483.1 157.6L483.4 157.7L483.7 157.7L483.9 157.6L484.2 157.5L484.5 157.4L484.7 157.3L485 157.3L485.3 157.4L485.6 157.5L485.8 157.5L486.1 157.4L486.4 157.4L486.7 157.4L486.9 157.5L487.2 157.4L487.5 157.3L487.8 157.3L488 157.4L488.3 157.4L488.6 157.5L488.9 157.4L489.1 157.4L489.4 157.3L489.7 157.2L490 157L490.2 156.6L490.5 156.4L490.8 156.1L491.1 155.9L491.3 155.5L491.6 155L491.9 154.3L492.2 153.7L492.4 153.4L492.7 153.3L493 153.3L493.2 153.7L493.5 154.2L493.8 154.8L494.1 155.1L494.3 155.7L494.6 156.1L494.9 156.4L495.2 156.7L495.4 156.9L495.7 157.1L496 157.2L496.3 157.4L496.5 157.4L496.8 157.5L497.1 157.4L497.4 157.4L497.6 157.4L497.9 157.4L498.2 157.4L498.5 157.3L498.7 157.4L499 157.4L499.3 157.4L499.6 157.5L499.8 157.5L500.1 157.5L500.4 157.5L500.6 157.4L500.9 157.5L501.2 157.5L501.5 157.6L501.7 157.6L502 157.6L502.3 157.5L502.6 157.5L502.8 157.5L503.1 157.5L503.4 157.4L503.7 157.4L503.9 157.4L504.2 157.5L504.5 157.6L504.8 157.5L505 157.5L505.3 157.5L505.6 157.7L505.9 157.7L506.1 157.7L506.4 157.6L506.7 157.6L507 157.4L507.2 157.5L507.5 157.4L507.8 157.4L508.1 157.4L508.3 157.5L508.6 157.5L508.9 157.5L509.1 157.4L509.4 157.4L509.7 157.5L510 157.5L510.2 157.5L510.5 157.4L510.8 157.4L511.1 157.5L511.3 157.6L511.6 157.6L511.9 157.5L512.2 157.4L512.4 157.4L512.7 157.6L513 157.7L513.3 157.5L513.5 157.5L513.8 157.4L514.1 157.6L514.4 157.6L514.6 157.6L514.9 157.6L515.2 157.5L515.5 157.5L515.7 157.5L516 157.5" stroke="#ff0000"/>
<path d="M77.4 185L77.7 185.1L77.9 185L78.2 185.1L78.5 185.2L78.8 185.3L79 185.3L79.3 185.3L79.6 185.2L79.9 185.1L80.1 185.1L80.4 185.1L80.7 185.1L81 185.1L81.2 185.2L81.5 185.1L81.8 185.1L82.1 185L82.3 185L82.6 185L82.9 185.1L83.2 185L83.4 185L83.7 184.8L84 184.8L84.3 184.8L84.5 184.9L84.8 184.8L85.1 184.7L85.3 184.6L85.6 184.6L85.9 184.5L86.2 184.4L86.4 184.5L86.7 184.4L87 184.6L87.3 184.4L87.5 184.4L87.8 184.3L88.1 184.4L88.4 184.5L88.6 184.5L88.9 184.6L89.2 184.6L89.5 184.7L89.7 184.8L90 184.9L90.3 184.9L90.6 185.1L90.8 185.2L91.1 185.2L91.4 185.1L91.7 185.1L91.9 185.3L92.2 185.3L92.5 185.4L92.8 185.5L93 185.5L93.3 185.3L93.6 185.3L93.8 185.2L94.1 185.3L94.4 185.3L94.7 185.4L94.9 185.4L95.2 185.5L95.5 185.5L95.8 185.5L96 185.5L96.3 185.3L96.6 185.2L96.9 185.4L97.1 185.5L97.4 185.6L97.7 185.5L98 185.5L98.2 185.6L98.5 185.7L98.8 185.7L99.1 185.6L99.3 185.5L99.6 185.6L99.9 185.6L100.2 185.5L100.4 185.5L100.7 185.5L101 185.6L101.2 185.5L101.5 185.4L101.8 185.3L102.1 185.3L102.3 185.3L102.6 185.2L102.9 185.2L103.2 185.2L103.4 185.2L103.7 185.2L104 185.1L104.3 185L104.5 184.9L104.8 184.7L105.1 184.6L105.4 184.4L105.6 184.1L105.9 183.9L106.2 183.6L106.5 183.4L106.7 183.2L107 183.1L107.3 183.3L107.6 183.3L107.8 183.3L108.1 183.4L108.4 183.6L108.7 183.8L108.9 183.9L109.2 183.9L109.5 183.9L109.7 184.2L110 184.5L110.3 184.8L110.6 185L110.8 185.1L111.1 185.2L111.4 185.2L111.7 185.3L111.9 185.4L112.2 185.4L112.5 185.5L112.8 185.5L113 185.6L113.3 185.6L113.6 185.6L113.9 185.7L114.1 185.8L114.4 185.8L114.7 185.8L115 185.7L115.2 185.8L115.5 185.8L115.8 185.9L116.1 185.8L116.3 185.8L116.6 185.7L116.9 185.7L117.1 185.6L117.4 185.6L117.7 185.7L118 185.6L118.2 185.7L118.5 185.6L118.8 185.7L119.1 185.6L119.3 185.6L119.6 185.7L119.9 185.7L120.2 185.7L120.4 185.6L120.7 185.6L121 185.6L121.3 185.6L121.5 185.6L121.8 185.6L122.1 185.6L122.4 185.7L122.6 185.7L122.9 185.6L123.2 185.5L123.5 185.5L123.7 185.4L124 185.4L124.3 185.4L124.5 185.4L124.8 185.2L125.1 185.2L125.4 185.2L125.6 185.3L125.9 185.2L126.2 185L126.5 184.9L126.7 184.9L127 184.7L127.3 184.6L127.6 184.5L127.8 184.5L128.1 184.5L128.4 184.3L128.7 184L128.9 183.8L129.2 183.6L129.5 183.4L129.8 183.1L130 182.6L130.3 182.1L130.6 181.3L130.9 180.3L131.1 178.5L131.4 176L131.7 172.3L132 166.9L132.2 159.1L132.5 148.6L132.8 135.2L133 119.7L133.3 102.8L133.6 86.9L133.9 74.8L134.1 69.1L134.4 71.6L134.7 81.5L135 96.3L135.2 113L135.5 129.2L135.8 143.5L136.1 155L136.3 163.8L136.6 170.3L136.9 174.8L137.2 177.7L137.4 179.8L137.7 181.1L138 182L138.3 182.3L138.5 182.8L138.8 183.2L139.1 183.7L139.4 183.9L139.6 184.1L139.9 184.3L140.2 184.5L140.4 184.6L140.7 184.7L141 184.8L141.3 185L141.5 185.1L141.8 185.1L142.1 185.2L142.4 185.2L142.6 185.3L142.9 185.3L143.2 185.5L143.5 185.5L143.7 185.6L144 185.6L144.3 185.6L144.6 185.6L144.8 185.7L145.1 185.8L145.4 185.7L145.7 185.7L145.9 185.7L146.2 185.8L146.5 185.9L146.8 185.8L147 185.8L147.3 185.8L147.6 186L147.9 186.1L148.1 186.2L148.4 186L148.7 186L148.9 185.9L149.2 186L149.5 186L149.8 186L150 186L150.3 186L150.6 186L150.9 185.9L151.1 185.9L151.4 186L151.7 186.1L152 186.2L152.2 186.1L152.5 186L152.8 185.8L153.1 185.9L153.3 186.1L153.6 186.1L153.9 186L154.2 186L154.4 185.9L154.7 185.9L155 185.9L155.3 185.9L155.5 185.8L155.8 185.9L156.1 185.9L156.3 185.9L156.6 185.7L156.9 185.6L157.2 185.6L157.4 185.6L157.7 185.3L158 185L158.3 184.3L158.5 183.5L158.8 182.2L159.1 180.4L159.4 178L159.6 174.9L159.9 171.6L160.2 168.3L160.5 165.9L160.7 164.9L161 165.8L161.3 168.3L161.6 171.6L161.8 175.1L162.1 178L162.4 180.3L162.7 182.3L162.9 183.6L163.2 184.6L163.5 185L163.7 185.4L164 185.6L164.3 185.7L164.6 185.8L164.8 185.9L165.1 186L165.4 186.1L165.7 186.2L165.9 186.3L166.2 186.2L166.5 186.2L166.8 186.2L167 186.2L167.3 186.2L167.6 186.2L167.9 186.1L168.1 186.2L168.4 186.2L168.7 186.2L169 186.3L169.2 186.3L169.5 186.3L169.8 186.2L170.1 186.3L170.3 186.2L170.6 186.3L170.9 186.2L171.2 186.4L171.4 186.4L171.7 186.5L172 186.4L172.2 186.3L172.5 186.3L172.8 186.4L173.1 186.6L173.3 186.5L173.6 186.4L173.9 186.3L174.2 186.4L174.4 186.4L174.7 186.4L175 186.3L175.3 186.2L175.5 186.3L175.8 186.4L176.1 186.5L176.4 186.4L176.6 186.4L176.9 186.4L177.2 186.5L177.5 186.6L177.7 186.6L178 186.7L178.3 186.6L178.6 186.5L178.8 186.4L179.1 186.4L179.4 186.5L179.6 186.7L179.9 186.7L180.2 186.6L180.5 186.4L180.7 186.3L181 186.4L181.3 186.5L181.6 186.5L181.8 186.5L182.1 186.5L182.4 186.5L182.7 186.5L182.9 186.5L183.2 186.5L183.5 186.5L183.8 186.5L184 186.5L184.3 186.6L184.6 186.6L184.9 186.6L185.1 186.5L185.4 186.5L185.7 186.5L186 186.4L186.2 186.5L186.5 186.5L186.8 186.5L187.1 186.4L187.3 186.4L187.6 186.4L187.9 186.5L188.1 186.6L188.4 186.7L188.7 186.7L189 186.6L189.2 186.6L189.5 186.5L189.8 186.5L190.1 186.4L190.3 186.4L190.6 186.3L190.9 186.5L191.2 186.6L191.4 186.6L191.7 186.5L192 186.4L192.3 186.5L192.5 186.6L192.8 186.7L193.1 186.6L193.4 186.7L193.6 186.6L193.9 186.6L194.2 186.4L194.5 186.5L194.7 186.6L195 186.7L195.3 186.6L195.5 186.5L195.8 186.5L196.1 186.5L196.4 186.7L196.6 186.7L196.9 186.6L197.2 186.6L197.5 186.7L197.7 186.8L198 186.7L198.3 186.6L198.6 186.6L198.8 186.5L199.1 186.5L199.4 186.6L199.7 186.6L199.9 186.6L200.2 186.6L200.5 186.5L200.8 186.6L201 186.6L201.3 186.6L201.6 186.7L201.9 186.7L202.1 186.7L202.4 186.6L202.7 186.8L202.9 186.7L203.2 186.6L203.5 186.5L203.8 186.5L204 186.7L204.3 186.7L204.6 186.8L204.9 186.5L205.1 186.7L205.4 186.7L205.7 186.9L206 186.7L206.2 186.6L206.5 186.5L206.8 186.6L207.1 186.5L207.3 186.5L207.6 186.5L207.9 186.5L208.2 186.6L208.4 186.6L208.7 186.7L209 186.6L209.3 186.6L209.5 186.7L209.8 186.6L210.1 186.5L210.4 186.5L210.6 186.6L210.9 186.6L211.2 186.6L211.4 186.5L211.7 186.4L212 186.5L212.3 186.6L212.5 186.6L212.8 186.6L213.1 186.6L213.4 186.6L213.6 186.6L213.9 186.6L214.2 186.6L214.5 186.7L214.7 186.7L215 186.7L215.3 186.8L215.6 186.7L215.8 186.6L216.1 186.6L216.4 186.6L216.7 186.6L216.9 186.5L217.2 186.6L217.5 186.6L217.8 186.7L218 186.7L218.3 186.6L218.6 186.5L218.8 186.5L219.1 186.6L219.4 186.8L219.7 186.8L219.9 186.8L220.2 186.7L220.5 186.7L220.8 186.6L221 186.6L221.3 186.5L221.6 186.5L221.9 186.6L222.1 186.5L222.4 186.5L222.7 186.4L223 186.4L223.2 186.5L223.5 186.7L223.8 186.7L224.1 186.6L224.3 186.5L224.6 186.5L224.9 186.6L225.2 186.5L225.4 186.6L225.7 186.7L226 186.7L226.2 186.8L226.5 186.8L226.8 186.7L227.1 186.7L227.3 186.7L227.6 186.8L227.9 186.7L228.2 186.7L228.4 186.7L228.7 186.8L229 186.8L229.3 186.7L229.5 186.6L229.8 186.5L230.1 186.6L230.4 186.5L230.6 186.4L230.9 186.4L231.2 186.4L231.5 186.5L231.7 186.5L232 186.5L232.3 186.5L232.6 186.5L232.8 186.5L233.1 186.5L233.4 186.6L233.7 186.5L233.9 186.4L234.2 186.4L234.5 186.4L234.7 186.4L235 186.5L235.3 186.5L235.6 186.5L235.8 186.4L236.1 186.3L236.4 186.2L236.7 186.2L236.9 186.2L237.2 186.2L237.5 186.2L237.8 186.2L238 186.1L238.3 186.1L238.6 186.1L238.9 186.1L239.1 186.1L239.4 186.1L239.7 185.9L240 185.9L240.2 185.8L240.5 185.8L240.8 185.6L241.1 185.4L241.3 185.1L241.6 184.9L241.9 184.6L242.1 184.2L242.4 183.6L242.7 182.7L243 181.5L243.2 179.5L243.5 176.8L243.8 173.2L244.1 168.6L244.3 163.2L244.6 157.1L244.9 150.7L245.2 145.1L245.4 141.2L245.7 139.8L246 141.2L246.3 145.2L246.5 150.7L246.8 157.1L247.1 163.1L247.4 168.7L247.6 173.3L247.9 176.9L248.2 179.6L248.5 181.5L248.7 182.8L249 183.7L249.3 184.2L249.6 184.5L249.8 184.8L250.1 185.1L250.4 185.5L250.6 185.7L250.9 185.7L251.2 185.7L251.5 185.8L251.7 185.8L252 186L252.3 186.1L252.6 186.1L252.8 186.1L253.1 186L253.4 186.1L253.7 186.1L253.9 186.2L254.2 186.3L254.5 186.3L254.8 186.3L255 186.3L255.3 186.2L255.6 186.4L255.9 186.5L256.1 186.6L256.4 186.4L256.7 186.4L257 186.4L257.2 186.5L257.5 186.6L257.8 186.6L258 186.5L258.3 186.4L258.6 186.4L258.9 186.4L259.1 186.4L259.4 186.4L259.7 186.4L260 186.6L260.2 186.6L260.5 186.7L260.8 186.7L261.1 186.6L261.3 186.6L261.6 186.5L261.9 186.6L262.2 186.5L262.4 186.6L262.7 186.6L263 186.6L263.3 186.5L263.5 186.4L263.8 186.4L264.1 186.4L264.4 186.5L264.6 186.6L264.9 186.7L265.2 186.7L265.4 186.7L265.7 186.7L266 186.8L266.3 186.8L266.5 186.6L266.8 186.5L267.1 186.6L267.4 186.7L267.6 186.8L267.9 186.8L268.2 186.8L268.5 186.8L268.7 186.6L269 186.5L269.3 186.6L269.6 186.6L269.8 186.7L270.1 186.6L270.4 186.6L270.7 186.6L270.9 186.6L271.2 186.6L271.5 186.7L271.8 186.7L272 186.6L272.3 186.5L272.6 186.6L272.9 186.6L273.1 186.7L273.4 186.7L273.7 186.7L273.9 186.7L274.2 186.7L274.5 186.6L274.8 186.6L275 186.5L275.3 186.6L275.6 186.6L275.9 186.6L276.1 186.6L276.4 186.7L276.7 186.7L277 186.8L277.2 186.6L277.5 186.7L277.8 186.7L278.1 186.6L278.3 186.6L278.6 186.5L278.9 186.5L279.2 186.5L279.4 186.6L279.7 186.7L280 186.8L280.3 186.7L280.5 186.6L280.8 186.5L281.1 186.5L281.3 186.5L281.6 186.7L281.9 186.7L282.2 186.6L282.4 186.5L282.7 186.6L283 186.7L283.3 186.6L283.5 186.5L283.8 186.6L284.1 186.7L284.4 186.7L284.6 186.6L284.9 186.5L285.2 186.4L285.5 186.3L285.7 186.3L286 186.5L286.3 186.6L286.6 186.6L286.8 186.5L287.1 186.4L287.4 186.4L287.7 186.5L287.9 186.5L288.2 186.5L288.5 186.5L288.8 186.5L289 186.5L289.3 186.4L289.6 186.4L289.8 186.4L290.1 186.4L290.4 186.3L290.7 186.2L290.9 186.3L291.2 186.3L291.5 186.3L291.8 186.3L292 186.3L292.3 186.3L292.6 186.3L292.9 186.3L293.1 186.1L293.4 186L293.7 185.9L294 185.9L294.2 185.6L294.5 185.4L294.8 185.1L295.1 184.8L295.3 184.3L295.6 183.6L295.9 182.6L296.2 181L296.4 178.7L296.7 175.9L297 172.5L297.2 168.9L297.5 165.2L297.8 161.8L298.1 159.4L298.3 158.6L298.6 159.5L298.9 161.9L299.2 165.2L299.4 168.9L299.7 172.6L300 176.1L300.3 178.9L300.5 181L300.8 182.6L301.1 183.6L301.4 184.4L301.6 184.9L301.9 185.3L302.2 185.6L302.5 185.8L302.7 185.9L303 185.9L303.3 186L303.6 186.1L303.8 186.2L304.1 186.2L304.4 186.2L304.6 186.3L304.9 186.3L305.2 186.3L305.5 186.4L305.7 186.4L306 186.5L306.3 186.5L306.6 186.5L306.8 186.3L307.1 186.4L307.4 186.5L307.7 186.4L307.9 186.2L308.2 186.4L308.5 186.6L308.8 186.6L309 186.5L309.3 186.4L309.6 186.4L309.9 186.5L310.1 186.6L310.4 186.6L310.7 186.4L311 186.3L311.2 186.4L311.5 186.4L311.8 186.2L312.1 186L312.3 185.6L312.6 185.2L312.9 184.6L313.1 184L313.4 183.2L313.7 182.6L314 182L314.2 181.9L314.5 182.2L314.8 182.7L315.1 183.3L315.3 184L315.6 184.7L315.9 185.3L316.2 185.7L316.4 186.2L316.7 186.4L317 186.4L317.3 186.3L317.5 186.3L317.8 186.4L318.1 186.5L318.4 186.6L318.6 186.6L318.9 186.6L319.2 186.6L319.5 186.6L319.7 186.6L320 186.6L320.3 186.5L320.5 186.5L320.8 186.5L321.1 186.6L321.4 186.7L321.6 186.9L321.9 186.9L322.2 186.8L322.5 186.7L322.7 186.8L323 186.7L323.3 186.8L323.6 186.8L323.8 186.8L324.1 186.8L324.4 186.7L324.7 186.7L324.9 186.7L325.2 186.7L325.5 186.7L325.8 186.7L326 186.8L326.3 186.8L326.6 186.8L326.9 186.8L327.1 186.6L327.4 186.5L327.7 186.5L328 186.6L328.2 186.6L328.5 186.6L328.8 186.5L329 186.6L329.3 186.6L329.6 186.7L329.9 186.6L330.1 186.8L330.4 186.8L330.7 186.9L331 186.8L331.2 186.6L331.5 186.6L331.8 186.7L332.1 186.7L332.3 186.7L332.6 186.7L332.9 186.6L333.2 186.5L333.4 186.5L333.7 186.6L334 186.7L334.3 186.8L334.5 186.9L334.8 186.8L335.1 186.9L335.4 186.8L335.6 186.8L335.9 186.8L336.2 186.8L336.4 186.8L336.7 186.8L337 186.7L337.3 186.7L337.5 186.7L337.8 186.7L338.1 186.8L338.4 186.7L338.6 186.8L338.9 186.7L339.2 186.8L339.5 186.8L339.7 186.8L340 186.8L340.3 186.8L340.6 186.8L340.8 186.8L341.1 186.7L341.4 186.7L341.7 186.8L341.9 186.9L342.2 186.8L342.5 186.7L342.8 186.6L343 186.6L343.3 186.6L343.6 186.6L343.8 186.5L344.1 186.6L344.4 186.7L344.7 186.8L344.9 186.7L345.2 186.7L345.5 186.6L345.8 186.7L346 186.7L346.3 186.7L346.6 186.6L346.9 186.8L347.1 186.8L347.4 186.9L347.7 186.7L348 186.8L348.2 186.7L348.5 186.8L348.8 186.7L349.1 186.8L349.3 186.7L349.6 186.7L349.9 186.6L350.2 186.6L350.4 186.6L350.7 186.8L351 186.9L351.3 186.8L351.5 186.7L351.8 186.7L352.1 186.8L352.3 186.7L352.6 186.8L352.9 186.7L353.2 186.7L353.4 186.6L353.7 186.7L354 186.6L354.3 186.6L354.5 186.6L354.8 186.7L355.1 186.7L355.4 186.8L355.6 186.8L355.9 186.7L356.2 186.7L356.5 186.8L356.7 186.8L357 186.8L357.3 186.8L357.6 186.8L357.8 186.7L358.1 186.7L358.4 186.6L358.7 186.6L358.9 186.6L359.2 186.7L359.5 186.8L359.7 186.7L360 186.8L360.3 186.7L360.6 186.7L360.8 186.7L361.1 186.8L361.4 186.7L361.7 186.7L361.9 186.7L362.2 186.6L362.5 186.6L362.8 186.7L363 186.8L363.3 186.9L363.6 187L363.9 186.9L364.1 186.9L364.4 186.8L364.7 186.9L365 186.8L365.2 186.7L365.5 186.7L365.8 186.6L366.1 186.7L366.3 186.7L366.6 186.6L366.9 186.7L367.2 186.7L367.4 186.8L367.7 186.7L368 186.7L368.2 186.7L368.5 186.7L368.8 186.6L369.1 186.6L369.3 186.7L369.6 186.7L369.9 186.6L370.2 186.6L370.4 186.8L370.7 186.9L371 186.7L371.3 186.6L371.5 186.6L371.8 186.6L372.1 186.6L372.4 186.5L372.6 186.6L372.9 186.4L373.2 186.4L373.5 186.3L373.7 186.2L374 186L374.3 185.7L374.6 185.4L374.8 184.8L375.1 184.1L375.4 183.4L375.6 182.7L375.9 182.3L376.2 182.2L376.5 182.3L376.7 182.7L377 183.4L377.3 184.1L377.6 184.7L377.8 185.3L378.1 185.7L378.4 186.2L378.7 186.4L378.9 186.5L379.2 186.5L379.5 186.5L379.8 186.6L380 186.6L380.3 186.6L380.6 186.7L380.9 186.8L381.1 186.8L381.4 186.7L381.7 186.7L382 186.7L382.2 186.9L382.5 186.8L382.8 186.9L383 186.8L383.3 186.8L383.6 186.7L383.9 186.7L384.1 186.8L384.4 186.9L384.7 186.9L385 186.7L385.2 186.7L385.5 186.5L385.8 186.6L386.1 186.6L386.3 186.8L386.6 186.9L386.9 186.8L387.2 186.7L387.4 186.7L387.7 186.7L388 186.8L388.3 186.8L388.5 186.8L388.8 186.8L389.1 186.7L389.4 186.8L389.6 186.8L389.9 186.8L390.2 186.7L390.5 186.7L390.7 186.7L391 186.7L391.3 186.7L391.5 186.8L391.8 186.8L392.1 186.9L392.4 187L392.6 187L392.9 187L393.2 187L393.5 186.8L393.7 186.8L394 186.7L394.3 186.8L394.6 186.6L394.8 186.6L395.1 186.6L395.4 186.7L395.7 186.7L395.9 186.8L396.2 186.8L396.5 186.8L396.8 186.7L397 186.5L397.3 186.5L397.6 186.6L397.9 186.8L398.1 186.8L398.4 186.7L398.7 186.6L398.9 186.7L399.2 186.8L399.5 186.8L399.8 186.8L400 186.6L400.3 186.7L400.6 186.6L400.9 186.7L401.1 186.5L401.4 186.4L401.7 186.6L402 186.7L402.2 186.8L402.5 186.8L402.8 186.9L403.1 186.8L403.3 186.8L403.6 186.6L403.9 186.6L404.2 186.6L404.4 186.6L404.7 186.6L405 186.6L405.3 186.7L405.5 186.7L405.8 186.8L406.1 186.7L406.4 186.7L406.6 186.7L406.9 186.9L407.2 186.9L407.4 186.7L407.7 186.6L408 186.7L408.3 186.9L408.5 186.8L408.8 186.7L409.1 186.7L409.4 186.8L409.6 186.7L409.9 186.6L410.2 186.6L410.5 186.7L410.7 186.7L411 186.7L411.3 186.7L411.6 186.7L411.8 186.6L412.1 186.7L412.4 186.7L412.7 186.7L412.9 186.7L413.2 186.7L413.5 186.7L413.8 186.8L414 186.7L414.3 186.5L414.6 186.5L414.8 186.4L415.1 186.5L415.4 186.5L415.7 186.5L415.9 186.4L416.2 186.4L416.5 186.3L416.8 186.3L417 186.1L417.3 186L417.6 185.7L417.9 185.2L418.1 184.7L418.4 183.9L418.7 183.2L419 182.2L419.2 181.1L419.5 180.1L419.8 179.5L420.1 179.2L420.3 179.5L420.6 180.2L420.9 181.1L421.2 182L421.4 183L421.7 184L422 184.9L422.2 185.4L422.5 185.7L422.8 186L423.1 186.2L423.3 186.4L423.6 186.4L423.9 186.4L424.2 186.4L424.4 186.4L424.7 186.4L425 186.4L425.3 186.4L425.5 186.4L425.8 186.5L426.1 186.6L426.4 186.6L426.6 186.6L426.9 186.6L427.2 186.8L427.5 186.7L427.7 186.8L428 186.8L428.3 186.7L428.6 186.5L428.8 186.6L429.1 186.6L429.4 186.7L429.7 186.7L429.9 186.7L430.2 186.6L430.5 186.6L430.7 186.6L431 186.4L431.3 186.4L431.6 186.3L431.8 186.4L432.1 186.3L432.4 186.2L432.7 185.9L432.9 185.7L433.2 185.3L433.5 184.8L433.8 184.3L434 183.7L434.3 183.2L434.6 182.7L434.9 182.4L435.1 182.5L435.4 182.8L435.7 183.4L436 184.1L436.2 184.7L436.5 185.3L436.8 185.6L437.1 185.9L437.3 186.1L437.6 186.3L437.9 186.4L438.1 186.3L438.4 186.4L438.7 186.6L439 186.6L439.2 186.6L439.5 186.6L439.8 186.7L440.1 186.7L440.3 186.8L440.6 186.7L440.9 186.7L441.2 186.7L441.4 186.8L441.7 186.8L442 186.8L442.3 186.7L442.5 186.6L442.8 186.6L443.1 186.6L443.4 186.7L443.6 186.7L443.9 186.8L444.2 186.9L444.5 186.8L444.7 186.7L445 186.6L445.3 186.6L445.5 186.6L445.8 186.7L446.1 186.7L446.4 186.7L446.6 186.7L446.9 186.7L447.2 186.8L447.5 186.8L447.7 186.9L448 186.7L448.3 186.6L448.6 186.6L448.8 186.7L449.1 186.8L449.4 186.9L449.7 186.7L449.9 186.7L450.2 186.7L450.5 186.7L450.8 186.6L451 186.6L451.3 186.6L451.6 186.8L451.9 186.8L452.1 186.9L452.4 186.9L452.7 186.8L453 186.6L453.2 186.6L453.5 186.7L453.8 186.8L454 186.7L454.3 186.7L454.6 186.8L454.9 186.8L455.1 186.8L455.4 186.7L455.7 186.7L456 186.7L456.2 186.7L456.5 186.8L456.8 186.8L457.1 186.8L457.3 186.8L457.6 187L457.9 186.9L458.2 186.9L458.4 186.7L458.7 186.8L459 186.8L459.3 186.8L459.5 186.7L459.8 186.7L460.1 186.8L460.4 186.9L460.6 186.9L460.9 186.8L461.2 186.6L461.4 186.7L461.7 186.7L462 186.8L462.3 186.8L462.5 186.8L462.8 186.7L463.1 186.7L463.4 186.6L463.6 186.6L463.9 186.7L464.2 186.7L464.5 186.7L464.7 186.7L465 186.8L465.3 186.7L465.6 186.7L465.8 186.6L466.1 186.7L466.4 186.8L466.7 186.9L466.9 186.8L467.2 186.8L467.5 186.8L467.8 186.8L468 186.8L468.3 186.7L468.6 186.7L468.9 186.8L469.1 186.8L469.4 186.6L469.7 186.6L469.9 186.5L470.2 186.7L470.5 186.8L470.8 186.7L471 186.7L471.3 186.7L471.6 186.7L471.9 186.8L472.1 186.7L472.4 186.8L472.7 186.8L473 186.8L473.2 186.7L473.5 186.8L473.8 186.9L474.1 186.8L474.3 186.8L474.6 186.9L474.9 186.9L475.2 186.8L475.4 186.7L475.7 186.8L476 186.7L476.3 186.7L476.5 186.6L476.8 186.8L477.1 186.8L477.3 186.9L477.6 186.7L477.9 186.8L478.2 186.6L478.4 186.7L478.7 186.7L479 186.7L479.3 186.7L479.5 186.5L479.8 186.6L480.1 186.6L480.4 186.5L480.6 186.5L480.9 186.5L481.2 186.7L481.5 186.7L481.7 186.6L482 186.5L482.3 186.6L482.6 186.7L482.8 186.8L483.1 186.7L483.4 186.7L483.7 186.6L483.9 186.8L484.2 186.7L484.5 186.8L484.7 186.8L485 186.9L485.3 186.9L485.6 186.6L485.8 186.7L486.1 186.8L486.4 186.9L486.7 186.8L486.9 186.7L487.2 186.8L487.5 186.7L487.8 186.7L488 186.7L488.3 186.7L488.6 186.6L488.9 186.5L489.1 186.3L489.4 186.2L489.7 185.9L490 185.8L490.2 185.5L490.5 185.1L490.8 184.4L491.1 183.9L491.3 183.2L491.6 182.6L491.9 181.6L492.2 181.2L492.4 181L492.7 181.3L493 181.8L493.2 182.6L493.5 183.3L493.8 184.1L494.1 184.6L494.3 185.1L494.6 185.5L494.9 185.7L495.2 186L495.4 186.3L495.7 186.4L496 186.5L496.3 186.4L496.5 186.5L496.8 186.5L497.1 186.6L497.4 186.6L497.6 186.6L497.9 186.6L498.2 186.7L498.5 186.7L498.7 186.6L499 186.5L499.3 186.6L499.6 186.7L499.8 186.8L500.1 186.7L500.4 186.7L500.6 186.5L500.9 186.5L501.2 186.6L501.5 186.7L501.7 186.8L502 186.7L502.3 186.8L502.6 186.8L502.8 186.8L503.1 186.7L503.4 186.6L503.7 186.7L503.9 186.6L504.2 186.6L504.5 186.4L504.8 186.5L505 186.6L505.3 186.7L505.6 186.7L505.9 186.9L506.1 186.8L506.4 186.9L506.7 186.8L507 186.9L507.2 186.7L507.5 186.8L507.8 186.8L508.1 186.9L508.3 186.9L508.6 186.7L508.9 186.7L509.1 186.6L509.4 186.7L509.7 186.8L510 186.8L510.2 186.9L510.5 186.8L510.8 186.7L511.1 186.7L511.3 186.7L511.6 186.7L511.9 186.7L512.2 186.7L512.4 186.7L512.7 186.8L513 186.8L513.3 186.9L513.5 186.8L513.8 186.8L514.1 186.7L514.4 186.7L514.6 186.8L514.9 186.8L515.2 186.9L515.5 186.8L515.7 186.8L516 186.8" stroke="#00ff00"/>
<path d="M77.4 210.2L77.7 210.2L77.9 210.2L78.2 210.3L78.5 210.2L78.8 210.3L79 210.2L79.3 210.4L79.6 210.3L79.9 210.4L80.1 210.2L80.4 210.2L80.7 210.2L81 210.2L81.2 210.3L81.5 210.3L81.8 210.3L82.1 210.1L82.3 210L82.6 210L82.9 209.9L83.2 209.9L83.4 209.8L83.7 209.7L84 209.6L84.3 209.5L84.5 209.4L84.8 209.4L85.1 209.1L85.3 208.8L85.6 208.7L85.9 208.7L86.2 208.6L86.4 208.5L86.7 208.4L87 208.5L87.3 208.5L87.5 208.5L87.8 208.5L88.1 208.6L88.4 208.8L88.6 209L88.9 209.2L89.2 209.3L89.5 209.4L89.7 209.6L90 209.6L90.3 209.8L90.6 210L90.8 210.3L91.1 210.2L91.4 210.4L91.7 210.4L91.9 210.6L92.2 210.7L92.5 210.7L92.8 210.7L93 210.6L93.3 210.8L93.6 210.8L93.8 210.8L94.1 210.8L94.4 210.9L94.7 210.9L94.9 211L95.2 211L95.5 210.9L95.8 210.9L96 211L96.3 211L96.6 211.1L96.9 211L97.1 211.1L97.4 210.9L97.7 211.1L98 211.1L98.2 211.2L98.5 211.2L98.8 211.2L99.1 211.2L99.3 211.2L99.6 211.2L99.9 211.2L100.2 211.2L100.4 211.2L100.7 211.2L101 211.3L101.2 211.3L101.5 211.3L101.8 211.2L102.1 211.1L102.3 211.1L102.6 211.1L102.9 211L103.2 211L103.4 210.9L103.7 210.7L104 210.6L104.3 210.4L104.5 210.4L104.8 210.2L105.1 210L105.4 209.8L105.6 209.5L105.9 209.4L106.2 209.2L106.5 209L106.7 208.8L107 208.7L107.3 208.6L107.6 208.5L107.8 208.5L108.1 208.6L108.4 208.8L108.7 208.9L108.9 209.2L109.2 209.4L109.5 209.8L109.7 210L110 210.3L110.3 210.4L110.6 210.5L110.8 210.7L111.1 210.7L111.4 210.8L111.7 211L111.9 211.1L112.2 211.2L112.5 211.2L112.8 211.3L113 211.4L113.3 211.5L113.6 211.7L113.9 211.7L114.1 211.6L114.4 211.5L114.7 211.5L115 211.6L115.2 211.7L115.5 211.7L115.8 211.7L116.1 211.8L116.3 212L116.6 211.9L116.9 211.7L117.1 211.6L117.4 211.5L117.7 211.6L118 211.6L118.2 211.7L118.5 211.8L118.8 211.7L119.1 211.7L119.3 211.8L119.6 211.7L119.9 211.7L120.2 211.6L120.4 211.7L120.7 211.6L121 211.7L121.3 211.7L121.5 211.8L121.8 211.8L122.1 211.8L122.4 211.8L122.6 211.8L122.9 211.6L123.2 211.6L123.5 211.6L123.7 211.5L124 211.5L124.3 211.5L124.5 211.6L124.8 211.5L125.1 211.6L125.4 211.5L125.6 211.5L125.9 211.5L126.2 211.5L126.5 211.4L126.7 211.2L127 211.2L127.3 211L127.6 211L127.8 210.8L128.1 210.7L128.4 210.7L128.7 210.5L128.9 210.4L129.2 210.1L129.5 210L129.8 209.8L130 209.5L130.3 208.9L130.6 208.4L130.9 207.3L131.1 206L131.4 203.9L131.7 200.6L132 195.6L132.2 188.3L132.5 178.7L132.8 166.5L133 152.3L133.3 137.2L133.6 123L133.9 112.1L134.1 107.2L134.4 109.5L134.7 118.4L135 131.5L135.2 146.4L135.5 161.1L135.8 174.1L136.1 184.7L136.3 193L136.6 198.8L136.9 202.8L137.2 205.3L137.4 207L137.7 208.1L138 208.9L138.3 209.4L138.5 209.8L138.8 210.1L139.1 210.3L139.4 210.4L139.6 210.6L139.9 210.8L140.2 211L140.4 211L140.7 211.1L141 211.3L141.3 211.4L141.5 211.4L141.8 211.5L142.1 211.6L142.4 211.7L142.6 211.6L142.9 211.7L143.2 211.7L143.5 211.8L143.7 211.9L144 211.9L144.3 211.8L144.6 211.8L144.8 211.9L145.1 211.9L145.4 212L145.7 212.1L145.9 212.1L146.2 212.1L146.5 212.2L146.8 212.2L147 212.2L147.3 212.2L147.6 212.3L147.9 212.3L148.1 212.2L148.4 212.1L148.7 212.2L148.9 212.2L149.2 212.3L149.5 212.3L149.8 212.4L150 212.3L150.3 212.3L150.6 212.2L150.9 212.4L151.1 212.3L151.4 212.4L151.7 212.2L152 212.3L152.2 212.3L152.5 212.4L152.8 212.3L153.1 212.3L153.3 212.3L153.6 212.5L153.9 212.4L154.2 212.3L154.4 212.3L154.7 212.3L155 212.2L155.3 212.1L155.5 212.1L155.8 212.2L156.1 212.1L156.3 212.1L156.6 212.1L156.9 212.1L157.2 212.2L157.4 212L157.7 211.9L158 211.5L158.3 211L158.5 210.2L158.8 209L159.1 207.3L159.4 205L159.6 202.2L159.9 199L160.2 195.9L160.5 193.7L160.7 192.9L161 193.8L161.3 196.1L161.6 199L161.8 202.2L162.1 205.1L162.4 207.5L162.7 209.2L162.9 210.3L163.2 211.1L163.5 211.6L163.7 211.9L164 212.1L164.3 212.2L164.6 212.2L164.8 212.2L165.1 212.2L165.4 212.3L165.7 212.4L165.9 212.4L166.2 212.4L166.5 212.4L166.8 212.5L167 212.5L167.3 212.6L167.6 212.7L167.9 212.6L168.1 212.7L168.4 212.7L168.7 212.7L169 212.6L169.2 212.6L169.5 212.5L169.8 212.7L170.1 212.7L170.3 212.7L170.6 212.6L170.9 212.6L171.2 212.7L171.4 212.8L171.7 212.8L172 212.7L172.2 212.6L172.5 212.5L172.8 212.6L173.1 212.6L173.3 212.8L173.6 212.9L173.9 212.9L174.2 212.7L174.4 212.6L174.7 212.5L175 212.6L175.3 212.7L175.5 212.8L175.8 212.8L176.1 212.8L176.4 212.7L176.6 212.7L176.9 212.8L177.2 213L177.5 212.8L177.7 212.6L178 212.6L178.3 212.8L178.6 212.8L178.8 212.8L179.1 212.7L179.4 212.9L179.6 213L179.9 213L180.2 212.9L180.5 212.8L180.7 212.7L181 212.7L181.3 212.7L181.6 212.8L181.8 212.8L182.1 212.8L182.4 212.7L182.7 212.8L182.9 212.8L183.2 212.8L183.5 212.7L183.8 212.8L184 212.9L184.3 213L184.6 212.9L184.9 212.8L185.1 212.9L185.4 213L185.7 213L186 212.9L186.2 212.8L186.5 212.9L186.8 212.9L187.1 213L187.3 212.9L187.6 213.1L187.9 213L188.1 213.1L188.4 212.9L188.7 213L189 212.9L189.2 212.9L189.5 212.8L189.8 212.8L190.1 212.8L190.3 212.8L190.6 212.8L190.9 212.9L191.2 212.8L191.4 212.9L191.7 213L192 213.1L192.3 213.1L192.5 213L192.8 213L193.1 213L193.4 213L193.6 212.9L193.9 212.9L194.2 212.8L194.5 212.8L194.7 213L195 213L195.3 213.1L195.5 213.1L195.8 213L196.1 213L196.4 212.9L196.6 212.9L196.9 212.8L197.2 213L197.5 213L197.7 213L198 212.9L198.3 213L198.6 213.1L198.8 213.1L199.1 213L199.4 213.1L199.7 213.1L199.9 213L200.2 212.9L200.5 213L200.8 213L201 213L201.3 212.9L201.6 212.7L201.9 212.8L202.1 212.8L202.4 213.1L202.7 213L202.9 213.1L203.2 213.1L203.5 213.2L203.8 213.1L204 212.9L204.3 212.9L204.6 213L204.9 213L205.1 213L205.4 213L205.7 213L206 212.9L206.2 212.9L206.5 213.1L206.8 213.2L207.1 213.1L207.3 213L207.6 213L207.9 213.1L208.2 213.1L208.4 213L208.7 213L209 213L209.3 212.9L209.5 212.9L209.8 212.9L210.1 213.1L210.4 213.1L210.6 213.1L210.9 213L211.2 212.9L211.4 212.9L211.7 213L212 213L212.3 213L212.5 213L212.8 213.1L213.1 213.1L213.4 213L213.6 212.9L213.9 212.8L214.2 212.9L214.5 212.9L214.7 213L215 213.1L215.3 213.2L215.6 213.1L215.8 213L216.1 212.8L216.4 212.9L216.7 213L216.9 213.1L217.2 213.1L217.5 213L217.8 213L218 213L218.3 213L218.6 213L218.8 213L219.1 213L219.4 212.9L219.7 213L219.9 213L220.2 213L220.5 213L220.8 213.1L221 213.1L221.3 213.1L221.6 213.1L221.9 213L222.1 212.9L222.4 212.9L222.7 212.9L223 213L223.2 213L223.5 213L223.8 213L224.1 213.1L224.3 213L224.6 212.9L224.9 212.8L225.2 212.8L225.4 213L225.7 213.1L226 213.1L226.2 212.9L226.5 213L226.8 213.1L227.1 213.1L227.3 213L227.6 213.1L227.9 213.1L228.2 213.3L228.4 213.2L228.7 213.2L229 213.1L229.3 213.1L229.5 213L229.8 212.9L230.1 213L230.4 213L230.6 213.2L230.9 213.2L231.2 213.2L231.5 213.1L231.7 213L232 213L232.3 213L232.6 213L232.8 213L233.1 213.1L233.4 213.1L233.7 213.1L233.9 213L234.2 213L234.5 213L234.7 213.1L235 213L235.3 212.9L235.6 212.8L235.8 212.8L236.1 212.9L236.4 212.9L236.7 212.9L236.9 212.8L237.2 212.8L237.5 212.7L237.8 212.7L238 212.7L238.3 212.5L238.6 212.5L238.9 212.5L239.1 212.6L239.4 212.5L239.7 212.4L240 212.3L240.2 212.3L240.5 212.1L240.8 212L241.1 211.8L241.3 211.8L241.6 211.6L241.9 211.3L242.1 211L242.4 210.5L242.7 209.6L243 208.2L243.2 206.2L243.5 203.5L243.8 199.8L244.1 194.9L244.3 189.2L244.6 182.8L244.9 176.5L245.2 170.9L245.4 166.9L245.7 165.4L246 166.9L246.3 170.9L246.5 176.6L246.8 183L247.1 189.4L247.4 195L247.6 199.7L247.9 203.2L248.2 206.1L248.5 208.3L248.7 209.7L249 210.5L249.3 210.9L249.6 211.3L249.8 211.7L250.1 211.9L250.4 212.2L250.6 212.3L250.9 212.4L251.2 212.3L251.5 212.3L251.7 212.4L252 212.5L252.3 212.7L252.6 212.7L252.8 212.7L253.1 212.8L253.4 212.8L253.7 212.8L253.9 212.7L254.2 212.8L254.5 212.8L254.8 212.9L255 212.9L255.3 213L255.6 213L255.9 213.1L256.1 213.1L256.4 213.1L256.7 213.1L257 213L257.2 213.1L257.5 213.1L257.8 213.1L258 213L258.3 213L258.6 212.9L258.9 212.9L259.1 212.8L259.4 212.9L259.7 212.9L260 213L260.2 213L260.5 213L260.8 213L261.1 213L261.3 213L261.6 213L261.9 213.1L262.2 213L262.4 213.1L262.7 213.1L263 213.1L263.3 213.1L263.5 213L263.8 213L264.1 213L264.4 213L264.6 213L264.9 213L265.2 212.9L265.4 213L265.7 213.1L266 213.1L266.3 213.1L266.5 213L266.8 213.1L267.1 213L267.4 213L267.6 213L267.9 213.2L268.2 213.2L268.5 213.2L268.7 213.1L269 213.2L269.3 213.1L269.6 213L269.8 213L270.1 213.1L270.4 213.1L270.7 213.1L270.9 213.1L271.2 213L271.5 213.1L271.8 212.9L272 213L272.3 213.1L272.6 213.2L272.9 213.1L273.1 213.1L273.4 213.1L273.7 213L273.9 213.1L274.2 213L274.5 213L274.8 213L275 213.1L275.3 213L275.6 213.2L275.9 213.2L276.1 213.3L276.4 213.1L276.7 213.1L277 213L277.2 213L277.5 213L277.8 213.1L278.1 213.1L278.3 213L278.6 213L278.9 213L279.2 213.2L279.4 213.1L279.7 213.2L280 213.1L280.3 213.2L280.5 213.1L280.8 213.2L281.1 213.2L281.3 213.1L281.6 213L281.9 212.9L282.2 212.9L282.4 213L282.7 212.9L283 213L283.3 213.1L283.5 213.1L283.8 213L284.1 213L284.4 213.1L284.6 213.2L284.9 213.1L285.2 213L285.5 213L285.7 213.1L286 213.2L286.3 213.2L286.6 213.3L286.8 213.3L287.1 213.3L287.4 213.1L287.7 213.2L287.9 213.1L288.2 213.1L288.5 213L288.8 213L289 212.9L289.3 213L289.6 212.9L289.8 212.9L290.1 213L290.4 213L290.7 212.9L290.9 212.7L291.2 212.9L291.5 212.9L291.8 212.8L292 212.8L292.3 212.8L292.6 212.8L292.9 212.7L293.1 212.6L293.4 212.7L293.7 212.5L294 212.5L294.2 212.3L294.5 212.2L294.8 211.8L295.1 211.5L295.3 211L295.6 210.2L295.9 209L296.2 207.4L296.4 205.3L296.7 202.5L297 199L297.2 195.3L297.5 191.4L297.8 188L298.1 185.7L298.3 184.9L298.6 185.9L298.9 188.2L299.2 191.5L299.4 195.3L299.7 199.1L300 202.6L300.3 205.4L300.5 207.5L300.8 209L301.1 210L301.4 210.9L301.6 211.5L301.9 211.8L302.2 212L302.5 212.1L302.7 212.4L303 212.5L303.3 212.6L303.6 212.6L303.8 212.6L304.1 212.6L304.4 212.8L304.6 212.8L304.9 212.8L305.2 212.9L305.5 212.9L305.7 213L306 212.9L306.3 212.9L306.6 212.9L306.8 213L307.1 213L307.4 212.9L307.7 212.9L307.9 212.9L308.2 213L308.5 213.1L308.8 213.2L309 213.2L309.3 213.1L309.6 213L309.9 212.9L310.1 213L310.4 213L310.7 213L311 213L311.2 213L311.5 213L311.8 212.7L312.1 212.4L312.3 212L312.6 211.5L312.9 210.8L313.1 210.1L313.4 209.4L313.7 208.6L314 208L314.2 207.8L314.5 207.9L314.8 208.5L315.1 209.3L315.3 210.1L315.6 211L315.9 211.6L316.2 212.1L316.4 212.5L316.7 212.7L317 212.9L317.3 212.9L317.5 213L317.8 213.1L318.1 213L318.4 213.1L318.6 213.1L318.9 213.3L319.2 213.2L319.5 213.1L319.7 213L320 213L320.3 213L320.5 213.2L320.8 213.2L321.1 213.2L321.4 213.2L321.6 213.2L321.9 213.3L322.2 213.2L322.5 213.1L322.7 213.2L323 213.2L323.3 213.3L323.6 213.4L323.8 213.5L324.1 213.4L324.4 213.4L324.7 213.4L324.9 213.3L325.2 213.2L325.5 213.1L325.8 213.1L326 213.1L326.3 213L326.6 213L326.9 213L327.1 213.2L327.4 213.3L327.7 213.2L328 213.2L328.2 213.2L328.5 213.2L328.8 213.2L329 213.3L329.3 213.3L329.6 213.3L329.9 213.3L330.1 213.3L330.4 213.3L330.7 213.2L331 213.3L331.2 213.2L331.5 213.4L331.8 213.3L332.1 213.3L332.3 213.2L332.6 213.1L332.9 213.2L333.2 213.2L333.4 213.2L333.7 213.2L334 213.2L334.3 213.2L334.5 213.3L334.8 213.4L335.1 213.4L335.4 213.4L335.6 213.3L335.9 213.3L336.2 213.2L336.4 213.2L336.7 213.2L337 213.2L337.3 213.2L337.5 213.2L337.8 213.2L338.1 213.1L338.4 213.2L338.6 213.2L338.9 213.3L339.2 213.2L339.5 213.1L339.7 213.2L340 213.2L340.3 213.2L340.6 213.1L340.8 213.1L341.1 213.2L341.4 213.2L341.7 213.2L341.9 213.2L342.2 213.1L342.5 213.1L342.8 213.1L343 213L343.3 213.1L343.6 213.1L343.8 213.2L344.1 213.2L344.4 213.2L344.7 213.3L344.9 213.3L345.2 213.3L345.5 213.3L345.8 213.3L346 213.2L346.3 213.2L346.6 213.2L346.9 213.2L347.1 213.2L347.4 213.2L347.7 213.2L348 213.2L348.2 213.2L348.5 213.3L348.8 213.4L349.1 213.4L349.3 213.3L349.6 213.1L349.9 213.1L350.2 213.1L350.4 213.2L350.7 213.3L351 213.4L351.3 213.3L351.5 213.2L351.8 213.1L352.1 213.1L352.3 213.2L352.6 213.2L352.9 213.2L353.2 213.1L353.4 213.1L353.7 213.2L354 213.2L354.3 213.2L354.5 213.1L354.8 213.3L355.1 213.3L355.4 213.4L355.6 213.2L355.9 213.2L356.2 213.1L356.5 213L356.7 213.1L357 213L357.3 213L357.6 213.2L357.8 213.4L358.1 213.3L358.4 213.2L358.7 213.1L358.9 213.1L359.2 213.2L359.5 213.4L359.7 213.4L360 213.4L360.3 213.3L360.6 213.4L360.8 213.3L361.1 213.2L361.4 213.1L361.7 213.2L361.9 213.2L362.2 213.3L362.5 213.2L362.8 213.3L363 213.3L363.3 213.2L363.6 213.2L363.9 213.1L364.1 213.3L364.4 213.2L364.7 213.3L365 213.2L365.2 213.3L365.5 213.4L365.8 213.3L366.1 213.3L366.3 213.2L366.6 213.1L366.9 213.1L367.2 213.2L367.4 213.2L367.7 213.3L368 213.2L368.2 213.3L368.5 213.2L368.8 213.2L369.1 213.1L369.3 213.1L369.6 213.2L369.9 213.1L370.2 213L370.4 213.1L370.7 213.2L371 213.2L371.3 213.2L371.5 213.2L371.8 213.3L372.1 213.2L372.4 213.2L372.6 213L372.9 213.1L373.2 212.9L373.5 212.8L373.7 212.6L374 212.5L374.3 212.1L374.6 211.7L374.8 211L375.1 210.5L375.4 209.9L375.6 209.4L375.9 208.9L376.2 208.7L376.5 208.7L376.7 209.1L377 209.7L377.3 210.5L377.6 211.2L377.8 211.8L378.1 212.4L378.4 212.8L378.7 212.8L378.9 212.8L379.2 212.8L379.5 212.9L379.8 213.1L380 213.2L380.3 213.2L380.6 213.1L380.9 213L381.1 213.2L381.4 213.3L381.7 213.3L382 213.2L382.2 213.2L382.5 213.3L382.8 213.3L383 213.3L383.3 213.2L383.6 213.3L383.9 213.2L384.1 213.1L384.4 213.2L384.7 213.2L385 213.3L385.2 213.4L385.5 213.3L385.8 213.3L386.1 213.1L386.3 213.2L386.6 213.2L386.9 213.3L387.2 213.3L387.4 213.3L387.7 213.2L388 213.2L388.3 213.1L388.5 213.1L388.8 213.2L389.1 213.3L389.4 213.3L389.6 213.3L389.9 213.2L390.2 213.2L390.5 213.2L390.7 213.2L391 213.2L391.3 213.1L391.5 213.2L391.8 213.3L392.1 213.3L392.4 213.3L392.6 213.3L392.9 213.3L393.2 213.3L393.5 213.3L393.7 213.3L394 213.2L394.3 213.3L394.6 213.2L394.8 213.3L395.1 213.4L395.4 213.5L395.7 213.4L395.9 213.3L396.2 213.3L396.5 213.3L396.8 213.2L397 213L397.3 213L397.6 213.1L397.9 213.3L398.1 213.3L398.4 213.1L398.7 213.2L398.9 213.2L399.2 213.3L399.5 213.2L399.8 213.2L400 213.1L400.3 213.1L400.6 213.2L400.9 213.1L401.1 213.2L401.4 213.2L401.7 213.3L402 213.3L402.2 213.4L402.5 213.4L402.8 213.2L403.1 213.2L403.3 213.2L403.6 213.3L403.9 213.4L404.2 213.4L404.4 213.3L404.7 213.3L405 213.3L405.3 213.3L405.5 213.3L405.8 213.2L406.1 213.2L406.4 213.2L406.6 213.3L406.9 213.2L407.2 213.1L407.4 213.1L407.7 213.2L408 213.2L408.3 213.3L408.5 213.2L408.8 213.1L409.1 213.1L409.4 213.1L409.6 213.2L409.9 213.3L410.2 213.3L410.5 213.2L410.7 213.2L411 213.3L411.3 213.2L411.6 213.3L411.8 213.3L412.1 213.3L412.4 213.2L412.7 213.2L412.9 213.3L413.2 213.3L413.5 213.4L413.8 213.2L414 213.2L414.3 213.2L414.6 213.3L414.8 213.1L415.1 213L415.4 213L415.7 213.1L415.9 213.2L416.2 213L416.5 213L416.8 212.9L417 212.7L417.3 212.4L417.6 212.2L417.9 211.9L418.1 211.3L418.4 210.6L418.7 209.6L419 208.6L419.2 207.5L419.5 206.6L419.8 206L420.1 205.7L420.3 205.9L420.6 206.5L420.9 207.4L421.2 208.5L421.4 209.6L421.7 210.7L422 211.3L422.2 211.9L422.5 212.3L422.8 212.6L423.1 212.8L423.3 212.9L423.6 212.9L423.9 212.8L424.2 212.9L424.4 213.1L424.7 213.2L425 213.2L425.3 213.1L425.5 213L425.8 213.1L426.1 213.2L426.4 213.3L426.6 213.2L426.9 213.3L427.2 213.3L427.5 213.2L427.7 213.1L428 213.1L428.3 213.1L428.6 213.2L428.8 213.2L429.1 213.2L429.4 212.9L429.7 213L429.9 212.9L430.2 213L430.5 212.9L430.7 212.9L431 212.9L431.3 213L431.6 213L431.8 213L432.1 212.7L432.4 212.6L432.7 212.3L432.9 212.1L433.2 211.8L433.5 211.2L433.8 210.7L434 210.1L434.3 209.6L434.6 209.1L434.9 208.9L435.1 209.1L435.4 209.5L435.7 209.9L436 210.5L436.2 211.1L436.5 211.7L436.8 212.1L437.1 212.5L437.3 212.8L437.6 212.8L437.9 212.9L438.1 212.8L438.4 213.1L438.7 213.1L439 213.2L439.2 213.1L439.5 213.2L439.8 213.1L440.1 213.3L440.3 213.3L440.6 213.3L440.9 213.2L441.2 213.1L441.4 213.1L441.7 213.2L442 213.2L442.3 213.2L442.5 213.3L442.8 213.3L443.1 213.2L443.4 213.1L443.6 213.1L443.9 213.2L444.2 213.2L444.5 213.2L444.7 213.1L445 213.2L445.3 213.2L445.5 213.2L445.8 213L446.1 213.1L446.4 213.1L446.6 213.2L446.9 213.3L447.2 213.1L447.5 213.2L447.7 213.1L448 213.3L448.3 213.3L448.6 213.2L448.8 213.1L449.1 213.1L449.4 213.2L449.7 213L449.9 213.1L450.2 213.1L450.5 213.1L450.8 213.2L451 213.2L451.3 213.3L451.6 213.3L451.9 213.3L452.1 213.3L452.4 213.2L452.7 213.1L453 213.1L453.2 213.3L453.5 213.3L453.8 213.3L454 213.3L454.3 213.4L454.6 213.4L454.9 213.4L455.1 213.4L455.4 213.3L455.7 213.3L456 213.1L456.2 213.2L456.5 213.3L456.8 213.4L457.1 213.4L457.3 213.3L457.6 213.2L457.9 213.1L458.2 213.2L458.4 213.2L458.7 213.2L459 213.2L459.3 213.2L459.5 213.1L459.8 213.1L460.1 213.2L460.4 213.3L460.6 213.2L460.9 213.2L461.2 213.3L461.4 213.3L461.7 213.3L462 213.3L462.3 213.4L462.5 213.4L462.8 213.3L463.1 213.3L463.4 213.3L463.6 213.3L463.9 213.3L464.2 213.3L464.5 213.3L464.7 213.3L465 213.1L465.3 213.1L465.6 213L465.8 213.2L466.1 213.3L466.4 213.4L466.7 213.4L466.9 213.4L467.2 213.3L467.5 213.3L467.8 213.2L468 213.2L468.3 213.3L468.6 213.3L468.9 213.2L469.1 213.3L469.4 213.2L469.7 213.1L469.9 213L470.2 213.1L470.5 213.2L470.8 213.4L471 213.3L471.3 213.1L471.6 213L471.9 213.1L472.1 213.2L472.4 213.3L472.7 213.2L473 213.1L473.2 213.1L473.5 213.2L473.8 213.3L474.1 213.3L474.3 213.2L474.6 213.1L474.9 213.2L475.2 213.1L475.4 213.1L475.7 213L476 213.1L476.3 213L476.5 213.1L476.8 213L477.1 213.2L477.3 213.1L477.6 213.2L477.9 213.2L478.2 213.2L478.4 213.2L478.7 213.2L479 213.2L479.3 213.2L479.5 213.1L479.8 213.1L480.1 213.2L480.4 213.3L480.6 213.3L480.9 213.2L481.2 213.2L481.5 213.1L481.7 213.2L482 213.2L482.3 213.3L482.6 213.2L482.8 213.2L483.1 213.1L483.4 213L483.7 213.1L483.9 213.2L484.2 213.4L484.5 213.3L484.7 213.3L485 213.2L485.3 213.3L485.6 213.2L485.8 213.1L486.1 213L486.4 213.2L486.7 213.3L486.9 213.3L487.2 213.2L487.5 213.1L487.8 213L488 212.9L488.3 212.9L488.6 212.9L488.9 212.9L489.1 212.9L489.4 212.8L489.7 212.6L490 212.4L490.2 212L490.5 211.4L490.8 210.7L491.1 210.1L491.3 209.3L491.6 208.5L491.9 207.6L492.2 207.1L492.4 207L492.7 207.2L493 207.7L493.2 208.4L493.5 209.2L493.8 210L494.1 210.7L494.3 211.4L494.6 211.9L494.9 212.4L495.2 212.6L495.4 212.8L495.7 212.9L496 212.9L496.3 213L496.5 213L496.8 213.2L497.1 213.2L497.4 213.2L497.6 213.2L497.9 213L498.2 213.1L498.5 213.1L498.7 213.3L499 213.3L499.3 213.3L499.6 213.2L499.8 213.3L500.1 213.2L500.4 213.3L500.6 213.2L500.9 213.2L501.2 213.3L501.5 213.3L501.7 213.3L502 213.2L502.3 213.3L502.6 213.2L502.8 213.2L503.1 213.1L503.4 213.2L503.7 213.2L503.9 213.2L504.2 213.2L504.5 213.2L504.8 213.2L505 213.2L505.3 213.3L505.6 213.3L505.9 213.2L506.1 213.1L506.4 213.2L506.7 213.1L507 213.2L507.2 213.2L507.5 213.3L507.8 213.2L508.1 213.2L508.3 213.3L508.6 213.2L508.9 213.2L509.1 213.2L509.4 213.3L509.7 213.4L510 213.3L510.2 213.2L510.5 213.2L510.8 213.2L511.1 213.4L511.3 213.3L511.6 213.2L511.9 213.2L512.2 213.2L512.4 213.3L512.7 213.3L513 213.3L513.3 213.2L513.5 213.2L513.8 213.2L514.1 213.2L514.4 213.2L514.6 213.1L514.9 213L515.2 213L515.5 213.1L515.7 213.2L516 213.2" stroke="#0000ff"/>
<path d="M77.4 234.3L77.7 234.4L77.9 234.4L78.2 234.5L78.5 234.6L78.8 234.5L79 234.4L79.3 234.5L79.6 234.5L79.9 234.5L80.1 234.5L80.4 234.5L80.7 234.5L81 234.4L81.2 234.5L81.5 234.5L81.8 234.4L82.1 234.4L82.3 234.3L82.6 234.1L82.9 234.1L83.2 233.9L83.4 233.8L83.7 233.6L84 233.5L84.3 233.5L84.5 233.5L84.8 233.4L85.1 233.1L85.3 232.9L85.6 232.8L85.9 232.8L86.2 232.7L86.4 232.4L86.7 232.3L87 232.3L87.3 232.4L87.5 232.5L87.8 232.5L88.1 232.5L88.4 232.6L88.6 232.6L88.9 232.9L89.2 233.2L89.5 233.5L89.7 233.6L90 233.7L90.3 233.9L90.6 234L90.8 234.2L91.1 234.3L91.4 234.4L91.7 234.6L91.9 234.7L92.2 234.8L92.5 234.8L92.8 234.8L93 235L93.3 235.1L93.6 235.2L93.8 235.3L94.1 235.2L94.4 235.2L94.7 235.3L94.9 235.3L95.2 235.3L95.5 235.1L95.8 235.2L96 235.2L96.3 235.4L96.6 235.3L96.9 235.3L97.1 235.2L97.4 235.4L97.7 235.3L98 235.3L98.2 235.2L98.5 235.3L98.8 235.4L99.1 235.5L99.3 235.5L99.6 235.4L99.9 235.3L100.2 235.5L100.4 235.6L100.7 235.6L101 235.5L101.2 235.3L101.5 235.2L101.8 235.4L102.1 235.6L102.3 235.7L102.6 235.6L102.9 235.3L103.2 235.4L103.4 235.3L103.7 235.3L104 235.2L104.3 235.2L104.5 235.2L104.8 235.2L105.1 235L105.4 235L105.6 234.9L105.9 234.8L106.2 234.7L106.5 234.6L106.7 234.5L107 234.4L107.3 234.3L107.6 234.3L107.8 234.2L108.1 234.5L108.4 234.5L108.7 234.7L108.9 234.8L109.2 234.9L109.5 235L109.7 235.1L110 235.1L110.3 235.1L110.6 235.1L110.8 235.3L111.1 235.4L111.4 235.5L111.7 235.5L111.9 235.7L112.2 235.7L112.5 235.7L112.8 235.7L113 235.9L113.3 236.1L113.6 236.1L113.9 236L114.1 235.9L114.4 235.9L114.7 235.9L115 235.9L115.2 235.8L115.5 235.9L115.8 235.9L116.1 236L116.3 236L116.6 235.9L116.9 235.9L117.1 235.9L117.4 235.8L117.7 235.8L118 235.9L118.2 236L118.5 236.1L118.8 236.1L119.1 235.9L119.3 235.9L119.6 235.8L119.9 235.8L120.2 235.8L120.4 236L120.7 236.1L121 236.2L121.3 236.1L121.5 236L121.8 235.8L122.1 235.8L122.4 235.7L122.6 235.8L122.9 235.9L123.2 235.9L123.5 235.9L123.7 236L124 235.9L124.3 235.7L124.5 235.8L124.8 235.8L125.1 236L125.4 236L125.6 236L125.9 235.9L126.2 235.7L126.5 235.6L126.7 235.5L127 235.6L127.3 235.5L127.6 235.5L127.8 235.3L128.1 235.3L128.4 235.3L128.7 235.3L128.9 235.1L129.2 234.9L129.5 234.7L129.8 234.5L130 234.3L130.3 234L130.6 233.5L130.9 232.8L131.1 231.6L131.4 229.7L131.7 226.6L132 222L132.2 215.4L132.5 206.3L132.8 195.1L133 182.1L133.3 168.5L133.6 155.9L133.9 146.2L134.1 141.7L134.4 143.5L134.7 151.3L135 163.2L135.2 176.8L135.5 190.1L135.8 202.3L136.1 212.3L136.3 219.8L136.6 225.1L136.9 228.7L137.2 231L137.4 232.4L137.7 233.3L138 233.9L138.3 234.3L138.5 234.6L138.8 234.8L139.1 235L139.4 235.2L139.6 235.2L139.9 235.4L140.2 235.5L140.4 235.6L140.7 235.7L141 235.7L141.3 235.8L141.5 235.8L141.8 235.9L142.1 236L142.4 236.2L142.6 236.4L142.9 236.4L143.2 236.3L143.5 236.3L143.7 236.3L144 236.3L144.3 236.4L144.6 236.4L144.8 236.4L145.1 236.2L145.4 236.3L145.7 236.3L145.9 236.4L146.2 236.5L146.5 236.4L146.8 236.5L147 236.4L147.3 236.5L147.6 236.5L147.9 236.5L148.1 236.4L148.4 236.4L148.7 236.5L148.9 236.5L149.2 236.5L149.5 236.4L149.8 236.4L150 236.5L150.3 236.6L150.6 236.6L150.9 236.7L151.1 236.6L151.4 236.5L151.7 236.5L152 236.5L152.2 236.6L152.5 236.6L152.8 236.8L153.1 236.7L153.3 236.7L153.6 236.5L153.9 236.4L154.2 236.4L154.4 236.4L154.7 236.5L155 236.5L155.3 236.6L155.5 236.5L155.8 236.4L156.1 236.5L156.3 236.5L156.6 236.5L156.9 236.3L157.2 236.3L157.4 236.2L157.7 236.2L158 235.9L158.3 235.4L158.5 234.5L158.8 233.4L159.1 231.6L159.4 229.4L159.6 226.3L159.9 223.2L160.2 220.1L160.5 217.9L160.7 217.1L161 217.9L161.3 220.2L161.6 223.2L161.8 226.4L162.1 229.1L162.4 231.5L162.7 233.3L162.9 234.6L163.2 235.4L163.5 235.9L163.7 236.2L164 236.4L164.3 236.4L164.6 236.5L164.8 236.6L165.1 236.6L165.4 236.8L165.7 236.8L165.9 236.9L166.2 236.9L166.5 236.8L166.8 236.7L167 236.8L167.3 236.8L167.6 236.9L167.9 236.9L168.1 236.9L168.4 236.9L168.7 236.9L169 237L169.2 236.9L169.5 237L169.8 237L170.1 237L170.3 237L170.6 237L170.9 237L171.2 237L171.4 237L171.7 237.1L172 237L172.2 236.9L172.5 236.8L172.8 236.9L173.1 236.8L173.3 236.9L173.6 236.9L173.9 237.1L174.2 237.2L174.4 237.1L174.7 237.2L175 237L175.3 236.9L175.5 236.9L175.8 236.9L176.1 237L176.4 237.1L176.6 237L176.9 237L177.2 236.9L177.5 237L177.7 237.1L178 237.1L178.3 237.2L178.6 237.2L178.8 237.1L179.1 237.1L179.4 237L179.6 237L179.9 236.9L180.2 236.9L180.5 237.1L180.7 237.1L181 237.2L181.3 237L181.6 237L181.8 237L182.1 237.1L182.4 237.1L182.7 236.9L182.9 237L183.2 237L183.5 237.1L183.8 237.1L184 237.1L184.3 237L184.6 237L184.9 237L185.1 236.9L185.4 236.9L185.7 237L186 237.1L186.2 237.1L186.5 237L186.8 237L187.1 237L187.3 237.1L187.6 237L187.9 236.9L188.1 237L188.4 237.1L188.7 237.1L189 237L189.2 237.1L189.5 237.1L189.8 237L190.1 236.9L190.3 237L190.6 237.1L190.9 237.1L191.2 237L191.4 237L191.7 237.1L192 237.2L192.3 237.1L192.5 237.1L192.8 237.1L193.1 237.1L193.4 237L193.6 237L193.9 237L194.2 237L194.5 237.1L194.7 237.2L195 237.3L195.3 237.2L195.5 237.2L195.8 237.1L196.1 237L196.4 236.8L196.6 237L196.9 237L197.2 237.2L197.5 237.2L197.7 237.2L198 237.2L198.3 237.1L198.6 237L198.8 237L199.1 237L199.4 237.2L199.7 237.3L199.9 237.3L200.2 237.3L200.5 237.2L200.8 237.2L201 237.2L201.3 237.1L201.6 237.1L201.9 237.1L202.1 237.2L202.4 237.2L202.7 237.1L202.9 237.1L203.2 237L203.5 237.2L203.8 237.2L204 237.4L204.3 237.2L204.6 237.3L204.9 237.2L205.1 237.3L205.4 237.1L205.7 237.2L206 237.3L206.2 237.4L206.5 237.2L206.8 237.1L207.1 236.9L207.3 237L207.6 237.1L207.9 237.2L208.2 237.2L208.4 237.3L208.7 237.2L209 237.2L209.3 237.2L209.5 237.2L209.8 237.1L210.1 237.2L210.4 237.2L210.6 237.4L210.9 237.3L211.2 237.2L211.4 237.2L211.7 237L212 237L212.3 237L212.5 237.1L212.8 237.2L213.1 237.1L213.4 237.2L213.6 237.2L213.9 237.4L214.2 237.3L214.5 237.2L214.7 237.2L215 237.2L215.3 237.2L215.6 237.2L215.8 237.2L216.1 237.2L216.4 237.3L216.7 237.2L216.9 237.2L217.2 237.1L217.5 237L217.8 237.1L218 237.2L218.3 237.3L218.6 237.3L218.8 237.2L219.1 237.2L219.4 237.2L219.7 237.1L219.9 237.2L220.2 237.2L220.5 237.3L220.8 237.2L221 237.2L221.3 237.1L221.6 237.1L221.9 237.2L222.1 237.2L222.4 237.2L222.7 237.2L223 237.3L223.2 237.3L223.5 237.3L223.8 237.3L224.1 237.3L224.3 237.3L224.6 237.3L224.9 237.3L225.2 237.3L225.4 237.2L225.7 237.2L226 237.3L226.2 237.4L226.5 237.4L226.8 237.3L227.1 237.2L227.3 237.2L227.6 237.2L227.9 237.2L228.2 237.2L228.4 237.1L228.7 237.2L229 237.2L229.3 237.3L229.5 237.1L229.8 237.1L230.1 237L230.4 237.1L230.6 237.1L230.9 237.1L231.2 237.1L231.5 237.2L231.7 237.2L232 237.2L232.3 237.2L232.6 237.3L232.8 237.3L233.1 237.3L233.4 237.3L233.7 237.3L233.9 237.3L234.2 237.3L234.5 237.2L234.7 237.1L235 237.1L235.3 237.2L235.6 237.2L235.8 237.1L236.1 237.1L236.4 237.1L236.7 237.1L236.9 237L237.2 237.1L237.5 237.1L237.8 237.1L238 237L238.3 236.9L238.6 236.9L238.9 236.7L239.1 236.8L239.4 236.8L239.7 236.9L240 236.8L240.2 236.7L240.5 236.7L240.8 236.6L241.1 236.5L241.3 236.2L241.6 236.2L241.9 235.9L242.1 235.7L242.4 235.1L242.7 234.3L243 232.9L243.2 231.1L243.5 228.5L243.8 225L244.1 220.4L244.3 215L244.6 209.1L244.9 203.1L245.2 197.7L245.4 194.1L245.7 192.7L246 194L246.3 197.7L246.5 203L246.8 209L247.1 214.9L247.4 220.3L247.6 224.8L247.9 228.6L248.2 231.2L248.5 233.1L248.7 234.2L249 235.1L249.3 235.6L249.6 236L249.8 236.2L250.1 236.3L250.4 236.4L250.6 236.5L250.9 236.5L251.2 236.6L251.5 236.6L251.7 236.7L252 236.8L252.3 236.9L252.6 236.9L252.8 236.9L253.1 237L253.4 237.1L253.7 237.3L253.9 237.1L254.2 237.1L254.5 237L254.8 237.1L255 237.1L255.3 237.2L255.6 237.2L255.9 237.3L256.1 237.2L256.4 237.1L256.7 237L257 237L257.2 237.2L257.5 237.3L257.8 237.4L258 237.4L258.3 237.4L258.6 237.3L258.9 237.1L259.1 237.2L259.4 237.2L259.7 237.3L260 237.2L260.2 237.2L260.5 237.2L260.8 237.1L261.1 237.2L261.3 237.2L261.6 237.2L261.9 237.2L262.2 237.3L262.4 237.2L262.7 237.3L263 237.2L263.3 237.3L263.5 237.3L263.8 237.4L264.1 237.3L264.4 237.4L264.6 237.4L264.9 237.3L265.2 237.3L265.4 237.4L265.7 237.4L266 237.4L266.3 237.3L266.5 237.4L266.8 237.3L267.1 237.3L267.4 237.4L267.6 237.5L267.9 237.5L268.2 237.5L268.5 237.4L268.7 237.3L269 237.2L269.3 237.2L269.6 237.2L269.8 237.3L270.1 237.4L270.4 237.4L270.7 237.5L270.9 237.5L271.2 237.4L271.5 237.4L271.8 237.4L272 237.5L272.3 237.4L272.6 237.3L272.9 237.2L273.1 237.2L273.4 237.4L273.7 237.5L273.9 237.5L274.2 237.4L274.5 237.5L274.8 237.5L275 237.4L275.3 237.3L275.6 237.3L275.9 237.3L276.1 237.4L276.4 237.3L276.7 237.4L277 237.4L277.2 237.3L277.5 237.2L277.8 237.2L278.1 237.3L278.3 237.3L278.6 237.3L278.9 237.3L279.2 237.2L279.4 237.2L279.7 237.3L280 237.4L280.3 237.5L280.5 237.4L280.8 237.4L281.1 237.3L281.3 237.3L281.6 237.3L281.9 237.4L282.2 237.4L282.4 237.4L282.7 237.4L283 237.4L283.3 237.4L283.5 237.4L283.8 237.4L284.1 237.4L284.4 237.5L284.6 237.4L284.9 237.3L285.2 237.3L285.5 237.4L285.7 237.4L286 237.5L286.3 237.4L286.6 237.3L286.8 237.2L287.1 237.1L287.4 237.2L287.7 237.4L287.9 237.5L288.2 237.4L288.5 237.4L288.8 237.4L289 237.4L289.3 237.3L289.6 237.2L289.8 237.2L290.1 237.1L290.4 237.1L290.7 237.1L290.9 237.3L291.2 237.3L291.5 237.3L291.8 237.1L292 237.1L292.3 237L292.6 237L292.9 236.9L293.1 236.8L293.4 236.8L293.7 236.8L294 236.9L294.2 236.7L294.5 236.5L294.8 236.4L295.1 236L295.3 235.7L295.6 234.9L295.9 234.1L296.2 232.5L296.4 230.4L296.7 227.7L297 224.5L297.2 221.2L297.5 217.9L297.8 215.1L298.1 212.8L298.3 211.9L298.6 212.7L298.9 214.9L299.2 218L299.4 221.3L299.7 224.7L300 227.9L300.3 230.5L300.5 232.5L300.8 233.9L301.1 234.9L301.4 235.7L301.6 236.1L301.9 236.4L302.2 236.5L302.5 236.8L302.7 236.8L303 236.8L303.3 236.8L303.6 236.9L303.8 237L304.1 237.1L304.4 237.1L304.6 237.1L304.9 237.1L305.2 237.1L305.5 237.1L305.7 237.1L306 237.2L306.3 237.2L306.6 237.2L306.8 237.3L307.1 237.2L307.4 237.3L307.7 237.3L307.9 237.5L308.2 237.4L308.5 237.3L308.8 237.2L309 237.2L309.3 237.2L309.6 237.2L309.9 237.3L310.1 237.3L310.4 237.3L310.7 237.2L311 237.2L311.2 237L311.5 237L311.8 236.8L312.1 236.8L312.3 236.4L312.6 235.8L312.9 235.2L313.1 234.5L313.4 233.8L313.7 233.2L314 232.6L314.2 232.5L314.5 232.7L314.8 233.1L315.1 233.7L315.3 234.5L315.6 235.2L315.9 235.8L316.2 236.3L316.4 236.6L316.7 236.9L317 237L317.3 237.1L317.5 237.2L317.8 237.2L318.1 237.1L318.4 237.1L318.6 237.2L318.9 237.3L319.2 237.3L319.5 237.3L319.7 237.4L320 237.4L320.3 237.4L320.5 237.3L320.8 237.4L321.1 237.5L321.4 237.5L321.6 237.5L321.9 237.4L322.2 237.3L322.5 237.3L322.7 237.4L323 237.5L323.3 237.6L323.6 237.5L323.8 237.5L324.1 237.5L324.4 237.4L324.7 237.4L324.9 237.3L325.2 237.4L325.5 237.5L325.8 237.5L326 237.4L326.3 237.3L326.6 237.3L326.9 237.4L327.1 237.4L327.4 237.4L327.7 237.5L328 237.5L328.2 237.6L328.5 237.6L328.8 237.4L329 237.2L329.3 237.2L329.6 237.4L329.9 237.6L330.1 237.5L330.4 237.4L330.7 237.4L331 237.4L331.2 237.5L331.5 237.4L331.8 237.5L332.1 237.5L332.3 237.4L332.6 237.4L332.9 237.4L333.2 237.6L333.4 237.4L333.7 237.5L334 237.4L334.3 237.4L334.5 237.4L334.8 237.5L335.1 237.6L335.4 237.4L335.6 237.3L335.9 237.4L336.2 237.4L336.4 237.4L336.7 237.3L337 237.3L337.3 237.6L337.5 237.6L337.8 237.5L338.1 237.4L338.4 237.4L338.6 237.4L338.9 237.2L339.2 237.2L339.5 237.3L339.7 237.4L340 237.4L340.3 237.5L340.6 237.4L340.8 237.4L341.1 237.3L341.4 237.5L341.7 237.6L341.9 237.7L342.2 237.6L342.5 237.5L342.8 237.3L343 237.3L343.3 237.4L343.6 237.4L343.8 237.4L344.1 237.3L344.4 237.4L344.7 237.4L344.9 237.4L345.2 237.3L345.5 237.3L345.8 237.3L346 237.3L346.3 237.4L346.6 237.4L346.9 237.4L347.1 237.5L347.4 237.6L347.7 237.6L348 237.6L348.2 237.5L348.5 237.5L348.8 237.6L349.1 237.5L349.3 237.5L349.6 237.3L349.9 237.4L350.2 237.5L350.4 237.6L350.7 237.5L351 237.5L351.3 237.4L351.5 237.5L351.8 237.4L352.1 237.5L352.3 237.4L352.6 237.4L352.9 237.5L353.2 237.4L353.4 237.3L353.7 237.3L354 237.3L354.3 237.4L354.5 237.5L354.8 237.5L355.1 237.5L355.4 237.5L355.6 237.5L355.9 237.6L356.2 237.5L356.5 237.5L356.7 237.4L357 237.5L357.3 237.4L357.6 237.5L357.8 237.4L358.1 237.4L358.4 237.4L358.7 237.5L358.9 237.6L359.2 237.5L359.5 237.5L359.7 237.5L360 237.4L360.3 237.5L360.6 237.4L360.8 237.4L361.1 237.3L361.4 237.4L361.7 237.3L361.9 237.4L362.2 237.4L362.5 237.5L362.8 237.5L363 237.3L363.3 237.4L363.6 237.5L363.9 237.5L364.1 237.5L364.4 237.5L364.7 237.6L365 237.6L365.2 237.5L365.5 237.4L365.8 237.3L366.1 237.3L366.3 237.4L366.6 237.4L366.9 237.5L367.2 237.5L367.4 237.4L367.7 237.4L368 237.5L368.2 237.5L368.5 237.5L368.8 237.4L369.1 237.4L369.3 237.4L369.6 237.4L369.9 237.3L370.2 237.4L370.4 237.6L370.7 237.6L371 237.5L371.3 237.2L371.5 237.2L371.8 237.2L372.1 237.3L372.4 237.3L372.6 237.2L372.9 237.3L373.2 237.2L373.5 237.1L373.7 237L374 236.7L374.3 236.5L374.6 235.9L374.8 235.3L375.1 234.5L375.4 233.8L375.6 233.1L375.9 232.7L376.2 232.5L376.5 232.7L376.7 233.2L377 233.9L377.3 234.6L377.6 235.3L377.8 236.1L378.1 236.6L378.4 236.9L378.7 237L378.9 237.1L379.2 237.1L379.5 237.2L379.8 237.3L380 237.4L380.3 237.4L380.6 237.3L380.9 237.3L381.1 237.3L381.4 237.2L381.7 237.2L382 237.3L382.2 237.3L382.5 237.4L382.8 237.4L383 237.3L383.3 237.3L383.6 237.2L383.9 237.4L384.1 237.5L384.4 237.5L384.7 237.4L385 237.4L385.2 237.4L385.5 237.4L385.8 237.3L386.1 237.3L386.3 237.3L386.6 237.4L386.9 237.4L387.2 237.4L387.4 237.2L387.7 237.2L388 237.2L388.3 237.3L388.5 237.3L388.8 237.3L389.1 237.3L389.4 237.4L389.6 237.4L389.9 237.4L390.2 237.4L390.5 237.4L390.7 237.5L391 237.5L391.3 237.5L391.5 237.6L391.8 237.6L392.1 237.6L392.4 237.5L392.6 237.3L392.9 237.4L393.2 237.4L393.5 237.6L393.7 237.4L394 237.4L394.3 237.5L394.6 237.5L394.8 237.5L395.1 237.3L395.4 237.3L395.7 237.3L395.9 237.4L396.2 237.3L396.5 237.4L396.8 237.4L397 237.4L397.3 237.5L397.6 237.5L397.9 237.4L398.1 237.2L398.4 237.3L398.7 237.3L398.9 237.4L399.2 237.4L399.5 237.4L399.8 237.4L400 237.4L400.3 237.5L400.6 237.4L400.9 237.5L401.1 237.5L401.4 237.5L401.7 237.4L402 237.4L402.2 237.3L402.5 237.3L402.8 237.2L403.1 237.3L403.3 237.3L403.6 237.4L403.9 237.4L404.2 237.3L404.4 237.3L404.7 237.3L405 237.3L405.3 237.2L405.5 237.3L405.8 237.4L406.1 237.5L406.4 237.3L406.6 237.4L406.9 237.3L407.2 237.4L407.4 237.4L407.7 237.4L408 237.5L408.3 237.5L408.5 237.6L408.8 237.4L409.1 237.4L409.4 237.3L409.6 237.3L409.9 237.3L410.2 237.3L410.5 237.4L410.7 237.4L411 237.3L411.3 237.4L411.6 237.5L411.8 237.5L412.1 237.5L412.4 237.5L412.7 237.4L412.9 237.3L413.2 237.3L413.5 237.3L413.8 237.2L414 237.3L414.3 237.3L414.6 237.2L414.8 237.2L415.1 237.3L415.4 237.3L415.7 237.2L415.9 237.2L416.2 237.2L416.5 237.2L416.8 237.1L417 237L417.3 236.7L417.6 236.3L417.9 235.9L418.1 235.3L418.4 234.6L418.7 233.6L419 232.5L419.2 231.2L419.5 230.1L419.8 229.4L420.1 229.3L420.3 229.6L420.6 230.2L420.9 231.2L421.2 232.4L421.4 233.6L421.7 234.6L422 235.4L422.2 236L422.5 236.4L422.8 236.8L423.1 236.9L423.3 237L423.6 236.9L423.9 237.1L424.2 237.3L424.4 237.4L424.7 237.5L425 237.4L425.3 237.5L425.5 237.4L425.8 237.4L426.1 237.2L426.4 237.3L426.6 237.4L426.9 237.4L427.2 237.3L427.5 237.1L427.7 237.2L428 237.3L428.3 237.3L428.6 237.3L428.8 237.3L429.1 237.4L429.4 237.3L429.7 237.4L429.9 237.3L430.2 237.3L430.5 237.2L430.7 237.3L431 237.2L431.3 237.2L431.6 237.1L431.8 237L432.1 237L432.4 236.7L432.7 236.6L432.9 236.2L433.2 235.6L433.5 235L433.8 234.4L434 233.8L434.3 233.1L434.6 232.6L434.9 232.4L435.1 232.6L435.4 233.1L435.7 233.6L436 234.3L436.2 235L436.5 235.7L436.8 236.1L437.1 236.5L437.3 236.8L437.6 237.1L437.9 237.1L438.1 237.2L438.4 237L438.7 237.2L439 237.3L439.2 237.4L439.5 237.4L439.8 237.3L440.1 237.4L440.3 237.5L440.6 237.6L440.9 237.5L441.2 237.4L441.4 237.3L441.7 237.4L442 237.4L442.3 237.4L442.5 237.4L442.8 237.3L443.1 237.3L443.4 237.4L443.6 237.5L443.9 237.4L444.2 237.4L444.5 237.2L444.7 237.3L445 237.3L445.3 237.3L445.5 237.2L445.8 237.3L446.1 237.3L446.4 237.4L446.6 237.4L446.9 237.5L447.2 237.5L447.5 237.5L447.7 237.4L448 237.4L448.3 237.4L448.6 237.5L448.8 237.5L449.1 237.4L449.4 237.3L449.7 237.4L449.9 237.4L450.2 237.4L450.5 237.4L450.8 237.5L451 237.5L451.3 237.6L451.6 237.5L451.9 237.4L452.1 237.3L452.4 237.3L452.7 237.4L453 237.4L453.2 237.4L453.5 237.4L453.8 237.4L454 237.5L454.3 237.5L454.6 237.5L454.9 237.3L455.1 237.3L455.4 237.3L455.7 237.3L456 237.3L456.2 237.3L456.5 237.4L456.8 237.4L457.1 237.4L457.3 237.4L457.6 237.4L457.9 237.5L458.2 237.4L458.4 237.5L458.7 237.5L459 237.6L459.3 237.5L459.5 237.4L459.8 237.3L460.1 237.4L460.4 237.4L460.6 237.5L460.9 237.6L461.2 237.6L461.4 237.5L461.7 237.4L462 237.5L462.3 237.3L462.5 237.4L462.8 237.3L463.1 237.4L463.4 237.3L463.6 237.3L463.9 237.1L464.2 237.1L464.5 237.2L464.7 237.4L465 237.6L465.3 237.6L465.6 237.5L465.8 237.4L466.1 237.4L466.4 237.4L466.7 237.4L466.9 237.5L467.2 237.3L467.5 237.3L467.8 237.3L468 237.4L468.3 237.4L468.6 237.4L468.9 237.3L469.1 237.2L469.4 237.2L469.7 237.3L469.9 237.3L470.2 237.4L470.5 237.4L470.8 237.4L471 237.5L471.3 237.5L471.6 237.6L471.9 237.6L472.1 237.5L472.4 237.4L472.7 237.4L473 237.6L473.2 237.6L473.5 237.6L473.8 237.4L474.1 237.4L474.3 237.3L474.6 237.3L474.9 237.3L475.2 237.3L475.4 237.4L475.7 237.5L476 237.4L476.3 237.5L476.5 237.5L476.8 237.5L477.1 237.5L477.3 237.6L477.6 237.6L477.9 237.6L478.2 237.4L478.4 237.4L478.7 237.3L479 237.4L479.3 237.5L479.5 237.5L479.8 237.5L480.1 237.3L480.4 237.5L480.6 237.5L480.9 237.5L481.2 237.4L481.5 237.4L481.7 237.5L482 237.5L482.3 237.6L482.6 237.5L482.8 237.5L483.1 237.4L483.4 237.5L483.7 237.4L483.9 237.3L484.2 237.2L484.5 237.2L484.7 237.4L485 237.4L485.3 237.5L485.6 237.4L485.8 237.3L486.1 237.3L486.4 237.4L486.7 237.4L486.9 237.4L487.2 237.4L487.5 237.3L487.8 237.4L488 237.4L488.3 237.4L488.6 237.3L488.9 237.2L489.1 237.2L489.4 237.1L489.7 236.9L490 236.5L490.2 236.1L490.5 235.6L490.8 234.9L491.1 234L491.3 233.1L491.6 232.2L491.9 231.6L492.2 231.1L492.4 230.9L492.7 231.1L493 231.6L493.2 232.4L493.5 233.2L493.8 234L494.1 234.6L494.3 235.3L494.6 235.9L494.9 236.4L495.2 236.6L495.4 236.9L495.7 237L496 237.1L496.3 237.1L496.5 237.2L496.8 237.3L497.1 237.4L497.4 237.4L497.6 237.4L497.9 237.3L498.2 237.3L498.5 237.3L498.7 237.3L499 237.3L499.3 237.3L499.6 237.4L499.8 237.4L500.1 237.4L500.4 237.3L500.6 237.2L500.9 237.3L501.2 237.3L501.5 237.3L501.7 237.3L502 237.4L502.3 237.4L502.6 237.4L502.8 237.4L503.1 237.4L503.4 237.4L503.7 237.4L503.9 237.5L504.2 237.5L504.5 237.6L504.8 237.5L505 237.5L505.3 237.5L505.6 237.5L505.9 237.6L506.1 237.6L506.4 237.6L506.7 237.5L507 237.4L507.2 237.4L507.5 237.5L507.8 237.5L508.1 237.5L508.3 237.3L508.6 237.4L508.9 237.3L509.1 237.4L509.4 237.5L509.7 237.6L510 237.6L510.2 237.4L510.5 237.4L510.8 237.4L511.1 237.5L511.3 237.5L511.6 237.5L511.9 237.3L512.2 237.3L512.4 237.4L512.7 237.4L513 237.4L513.3 237.4L513.5 237.4L513.8 237.4L514.1 237.4L514.4 237.5L514.6 237.5L514.9 237.6L515.2 237.5L515.5 237.5L515.7 237.4L516 237.4" stroke="#00ffff"/>
</g>
<rect x="77.4" y="8.2" width="438.6" height="230.10000000000002" fill="none" stroke="#2e2e2e" stroke-width="1.35"/>
<path d="M72.60000000000001 238.3H77.4M74.80000000000001 221.9H77.4M72.60000000000001 205.4H77.4M74.80000000000001 189.0H77.4M72.60000000000001 172.6H77.4M74.80000000000001 156.1H77.4M72.60000000000001 139.7H77.4M74.80000000000001 123.2H77.4M72.60000000000001 106.8H77.4M74.80000000000001 90.4H77.4M72.60000000000001 73.9H77.4M74.80000000000001 57.5H77.4M72.60000000000001 41.1H77.4M74.80000000000001 24.6H77.4M72.60000000000001 8.2H77.4M77.4 238.3V243.3M88.4 238.3V241.3M99.3 238.3V241.3M110.3 238.3V241.3M121.3 238.3V241.3M132.2 238.3V243.3M143.2 238.3V241.3M154.2 238.3V241.3M165.1 238.3V241.3M176.1 238.3V241.3M187.1 238.3V243.3M198.0 238.3V241.3M209.0 238.3V241.3M219.9 238.3V241.3M230.9 238.3V241.3M241.9 238.3V243.3M252.8 238.3V241.3M263.8 238.3V241.3M274.8 238.3V241.3M285.7 238.3V241.3M296.7 238.3V243.3M307.7 238.3V241.3M318.6 238.3V241.3M329.6 238.3V241.3M340.6 238.3V241.3M351.5 238.3V243.3M362.5 238.3V241.3M373.5 238.3V241.3M384.4 238.3V241.3M395.4 238.3V241.3M406.4 238.3V243.3M417.3 238.3V241.3M428.3 238.3V241.3M439.2 238.3V241.3M450.2 238.3V241.3M461.2 238.3V243.3M472.1 238.3V241.3M483.1 238.3V241.3M494.1 238.3V241.3M505.0 238.3V241.3M516.0 238.3V243.3" stroke="#1a1a1a" stroke-width="1.1" fill="none"/>
<g font-family='"Liberation Sans", sans-serif' font-size="9.9" fill="#0a0a0a">
<text x="68.9" y="241.2" text-anchor="end">0.0</text>
<text x="68.9" y="208.3" text-anchor="end">5.0k</text>
<text x="68.9" y="175.5" text-anchor="end">10.0k</text>
<text x="68.9" y="142.6" text-anchor="end">15.0k</text>
<text x="68.9" y="109.7" text-anchor="end">20.0k</text>
<text x="68.9" y="76.8" text-anchor="end">25.0k</text>
<text x="68.9" y="44.0" text-anchor="end">30.0k</text>
<text x="68.9" y="11.1" text-anchor="end">35.0k</text>
<text x="77.4" y="254.0" text-anchor="middle">20</text>
<text x="132.2" y="254.0" text-anchor="middle">30</text>
<text x="187.1" y="254.0" text-anchor="middle">40</text>
<text x="241.9" y="254.0" text-anchor="middle">50</text>
<text x="296.7" y="254.0" text-anchor="middle">60</text>
<text x="351.5" y="254.0" text-anchor="middle">70</text>
<text x="406.4" y="254.0" text-anchor="middle">80</text>
<text x="461.2" y="254.0" text-anchor="middle">90</text>
<text x="516.0" y="254.0" text-anchor="middle">100</text>
</g>
<text font-family='"Liberation Sans", sans-serif' font-size="12.8" fill="#0a0a0a" y="274"><tspan x="263.1">2</tspan><tspan x="270.9" font-family="Liberation Serif, serif" font-size="12.4" stroke="none">ϑ</tspan><tspan x="281.3">[degree]</tspan></text>
<text font-family='"Liberation Sans", sans-serif' font-size="13" fill="#0a0a0a" transform="translate(35.3,123) rotate(-90)" text-anchor="middle">XRD intensity [counts/s]</text>
<text font-family='"Liberation Sans", sans-serif' font-size="19.5" fill="#0a0a0a" x="82.0" y="229">(a)</text>
<g font-family='"Liberation Sans", sans-serif' font-size="10" fill="#0a0a0a">
<text x="452.2" y="126.8">1000<tspan font-size="6.5" dy="-3.9">o</tspan><tspan dy="3.9">C</tspan></text>
<text x="452.2" y="155.6">1100<tspan font-size="6.5" dy="-3.9">o</tspan><tspan dy="3.9">C</tspan></text>
<text x="452.2" y="184.3">1200<tspan font-size="6.5" dy="-3.9">o</tspan><tspan dy="3.9">C</tspan></text>
<text x="452.2" y="211.0">1300<tspan font-size="6.5" dy="-3.9">o</tspan><tspan dy="3.9">C</tspan></text>
<text x="452.2" y="235.0">1400<tspan font-size="6.5" dy="-3.9">o</tspan><tspan dy="3.9">C</tspan></text>
</g>
<clipPath id="cb"><rect x="37.8" y="297.5" width="215.2" height="215.29999999999995"/></clipPath>
<g fill="none" stroke-width="1.25" stroke-linejoin="round" clip-path="url(#cb)">
<path d="M37.8 471L38.1 470.8L38.4 470.8L38.7 470.7L39 470.9L39.3 470.9L39.6 470.9L40 471L40.3 471.2L40.6 471.1L40.9 471.2L41.2 471.1L41.5 471.3L41.8 471.2L42.1 471.1L42.4 471L42.7 470.9L43 471L43.3 471.2L43.6 471.2L43.9 471.1L44.3 471.2L44.6 471.3L44.9 471.2L45.2 471L45.5 471L45.8 471.2L46.1 471.1L46.4 470.9L46.7 470.8L47 470.8L47.3 471L47.6 471L47.9 471.2L48.3 471.2L48.6 471.1L48.9 471.1L49.2 471.1L49.5 471L49.8 470.8L50.1 470.8L50.4 470.9L50.7 471.1L51 471.1L51.3 471L51.6 470.9L51.9 470.9L52.2 470.9L52.6 470.9L52.9 471L53.2 471L53.5 471L53.8 470.9L54.1 471L54.4 471.1L54.7 471L55 471L55.3 470.7L55.6 470.9L55.9 470.9L56.2 471L56.6 471L56.9 471.1L57.2 471.2L57.5 471L57.8 470.9L58.1 470.8L58.4 470.9L58.7 470.7L59 470.9L59.3 471L59.6 471.2L59.9 471L60.2 470.9L60.5 470.6L60.9 470.6L61.2 470.5L61.5 470.5L61.8 470.5L62.1 470.5L62.4 470.6L62.7 470.6L63 470.7L63.3 470.7L63.6 470.6L63.9 470.4L64.2 470.3L64.5 470.3L64.9 470.3L65.2 470.1L65.5 470.1L65.8 470L66.1 470L66.4 469.9L66.7 469.8L67 469.6L67.3 469.5L67.6 469.4L67.9 469.5L68.2 469.5L68.5 469.2L68.9 469.1L69.2 468.7L69.5 468.6L69.8 468.2L70.1 467.9L70.4 467.6L70.7 467.3L71 467.1L71.3 466.6L71.6 466.1L71.9 465.5L72.2 465.2L72.5 464.9L72.8 464.5L73.2 463.8L73.5 463.1L73.8 462.7L74.1 462.2L74.4 461.9L74.7 461.4L75 460.8L75.3 460.1L75.6 459.5L75.9 458.8L76.2 458.3L76.5 457.8L76.8 457.3L77.2 456.5L77.5 455.5L77.8 454.5L78.1 453.3L78.4 452.1L78.7 450.8L79 449.5L79.3 447.9L79.6 446.2L79.9 444.2L80.2 441.9L80.5 439.6L80.8 436.7L81.1 433.7L81.5 430.1L81.8 426.4L82.1 422.5L82.4 418.2L82.7 413.4L83 408.2L83.3 402.7L83.6 397L83.9 391.1L84.2 384.9L84.5 378.6L84.8 372.1L85.1 365.6L85.5 358.9L85.8 352.4L86.1 346L86.4 339.8L86.7 333.8L87 328.4L87.3 323.2L87.6 318.6L87.9 314.5L88.2 311.3L88.5 308.9L88.8 307.1L89.1 306.2L89.4 306.1L89.8 307.2L90.1 308.9L90.4 311.5L90.7 314.7L91 318.9L91.3 323.7L91.6 328.9L91.9 334.6L92.2 340.8L92.5 347.3L92.8 354L93.1 361L93.4 367.9L93.8 374.9L94.1 381.9L94.4 388.8L94.7 395.5L95 401.7L95.3 407.9L95.6 413.7L95.9 419.3L96.2 424.4L96.5 429.1L96.8 433.6L97.1 437.9L97.4 441.7L97.7 445L98.1 448L98.4 450.8L98.7 453.4L99 455.7L99.3 457.7L99.6 459.3L99.9 460.8L100.2 462.1L100.5 463.3L100.8 464.3L101.1 465.2L101.4 466L101.7 466.5L102.1 467.1L102.4 467.6L102.7 468.1L103 468.4L103.3 468.4L103.6 468.6L103.9 468.9L104.2 469.2L104.5 469.4L104.8 469.5L105.1 469.7L105.4 469.6L105.7 469.5L106 469.6L106.4 469.8L106.7 470L107 470L107.3 469.8L107.6 470L107.9 470L108.2 470.2L108.5 470.2L108.8 470.4L109.1 470.4L109.4 470.4L109.7 470.6L110 470.6L110.4 470.5L110.7 470.6L111 470.5L111.3 470.6L111.6 470.6L111.9 470.7L112.2 470.6L112.5 470.5L112.8 470.6L113.1 470.7L113.4 470.6L113.7 470.7L114 470.7L114.3 470.9L114.7 471L115 471L115.3 471L115.6 470.8L115.9 470.9L116.2 470.8L116.5 470.8L116.8 470.7L117.1 470.9L117.4 471L117.7 471.2L118 470.9L118.3 470.9L118.7 470.9L119 471.2L119.3 471.3L119.6 471.2L119.9 471.1L120.2 471L120.5 471.2L120.8 471.1L121.1 471.1L121.4 471L121.7 471.1L122 471.3L122.3 471.3L122.7 471.3L123 471.3L123.3 471.3L123.6 471.4L123.9 471.4L124.2 471.4L124.5 471.3L124.8 471.3L125.1 471.3L125.4 471.2L125.7 471.1L126 471L126.3 471L126.6 471.1L127 471.2L127.3 471.3L127.6 471.4L127.9 471.5L128.2 471.5L128.5 471.3L128.8 471.1L129.1 471.2L129.4 471.3L129.7 471.4L130 471.2L130.3 471.3L130.6 471.2L131 471.3L131.3 471.4L131.6 471.5L131.9 471.4L132.2 471.3L132.5 471.3L132.8 471.4L133.1 471.3L133.4 471.3L133.7 471.2L134 471.1L134.3 471.1L134.6 471.2L134.9 471.5L135.3 471.6L135.6 471.5L135.9 471.4L136.2 471.4L136.5 471.4L136.8 471.3L137.1 471.3L137.4 471.2L137.7 471.3L138 471.3L138.3 471.4L138.6 471.5L138.9 471.4L139.3 471.6L139.6 471.6L139.9 471.5L140.2 471.3L140.5 471.3L140.8 471.5L141.1 471.5L141.4 471.5L141.7 471.5L142 471.6L142.3 471.5L142.6 471.4L142.9 471.3L143.2 471.4L143.6 471.5L143.9 471.8L144.2 471.7L144.5 471.8L144.8 471.7L145.1 471.7L145.4 471.5L145.7 471.5L146 471.4L146.3 471.4L146.6 471.3L146.9 471.4L147.2 471.4L147.6 471.6L147.9 471.6L148.2 471.6L148.5 471.4L148.8 471.3L149.1 471.5L149.4 471.7L149.7 471.7L150 471.5L150.3 471.6L150.6 471.6L150.9 471.6L151.2 471.6L151.5 471.7L151.9 471.6L152.2 471.6L152.5 471.6L152.8 471.5L153.1 471.4L153.4 471.3L153.7 471.5L154 471.6L154.3 471.7L154.6 471.6L154.9 471.5L155.2 471.4L155.5 471.3L155.9 471.3L156.2 471.3L156.5 471.5L156.8 471.5L157.1 471.5L157.4 471.4L157.7 471.5L158 471.5L158.3 471.4L158.6 471.5L158.9 471.4L159.2 471.5L159.5 471.4L159.8 471.4L160.2 471.5L160.5 471.5L160.8 471.5L161.1 471.6L161.4 471.4L161.7 471.3L162 471.2L162.3 471.3L162.6 471.4L162.9 471.6L163.2 471.6L163.5 471.6L163.8 471.5L164.2 471.6L164.5 471.6L164.8 471.6L165.1 471.4L165.4 471.3L165.7 471.2L166 471.3L166.3 471.4L166.6 471.3L166.9 471.4L167.2 471.4L167.5 471.5L167.8 471.7L168.1 471.5L168.5 471.4L168.8 471.2L169.1 471.3L169.4 471.3L169.7 471.2L170 471.3L170.3 471.4L170.6 471.3L170.9 471.2L171.2 471.2L171.5 471.4L171.8 471.3L172.1 471.1L172.5 471L172.8 471.2L173.1 471.3L173.4 471.4L173.7 471.5L174 471.4L174.3 471.4L174.6 471L174.9 471.1L175.2 470.9L175.5 471.1L175.8 470.9L176.1 470.9L176.5 470.8L176.8 470.9L177.1 470.8L177.4 470.8L177.7 470.8L178 470.9L178.3 470.7L178.6 470.5L178.9 470.5L179.2 470.5L179.5 470.5L179.8 470.3L180.1 470.3L180.4 470.3L180.8 470.3L181.1 470.2L181.4 470.1L181.7 470L182 469.7L182.3 469.4L182.6 469.1L182.9 468.8L183.2 468.5L183.5 468.4L183.8 468.3L184.1 468L184.4 467.5L184.8 466.9L185.1 466.5L185.4 465.8L185.7 465L186 464.3L186.3 463.5L186.6 462.8L186.9 461.9L187.2 460.9L187.5 459.8L187.8 458.4L188.1 457.2L188.4 455.7L188.7 454.3L189.1 452.6L189.4 451.5L189.7 450.1L190 448.8L190.3 447.1L190.6 445.6L190.9 444.3L191.2 442.9L191.5 441.9L191.8 440.9L192.1 439.9L192.4 439.3L192.7 438.7L193.1 438.7L193.4 438.6L193.7 439L194 439.4L194.3 440.1L194.6 440.9L194.9 442.1L195.2 443.4L195.5 444.8L195.8 446L196.1 447.2L196.4 448.8L196.7 450.4L197 452L197.4 453.3L197.7 454.7L198 456.1L198.3 457.5L198.6 458.6L198.9 459.8L199.2 460.9L199.5 462.1L199.8 462.9L200.1 463.9L200.4 464.6L200.7 465.4L201 466L201.4 466.5L201.7 467.1L202 467.6L202.3 468L202.6 468.2L202.9 468.5L203.2 468.8L203.5 469.3L203.8 469.4L204.1 469.7L204.4 469.8L204.7 469.9L205 470.3L205.3 470.4L205.7 470.7L206 470.7L206.3 470.7L206.6 470.8L206.9 470.7L207.2 470.6L207.5 470.6L207.8 470.7L208.1 470.8L208.4 470.8L208.7 470.9L209 471.1L209.3 471.2L209.7 471L210 471.1L210.3 471L210.6 471.2L210.9 471.2L211.2 471.5L211.5 471.3L211.8 471.3L212.1 471.1L212.4 471.3L212.7 471.3L213 471.3L213.3 471.2L213.6 471.1L214 471.2L214.3 471.3L214.6 471.5L214.9 471.4L215.2 471.5L215.5 471.6L215.8 471.8L216.1 471.6L216.4 471.7L216.7 471.5L217 471.5L217.3 471.6L217.6 471.6L218 471.7L218.3 471.4L218.6 471.4L218.9 471.2L219.2 471.2L219.5 471.3L219.8 471.4L220.1 471.6L220.4 471.7L220.7 471.9L221 471.8L221.3 471.9L221.6 471.7L221.9 471.8L222.3 471.9L222.6 471.9L222.9 471.9L223.2 471.8L223.5 471.8L223.8 471.7L224.1 471.6L224.4 471.7L224.7 471.8L225 472L225.3 472L225.6 472.1L225.9 472L226.3 471.9L226.6 471.8L226.9 471.8L227.2 471.8L227.5 472L227.8 471.9L228.1 472L228.4 471.9L228.7 471.9L229 471.7L229.3 471.8L229.6 471.8L229.9 471.8L230.3 471.8L230.6 471.9L230.9 471.8L231.2 471.7L231.5 471.7L231.8 471.9L232.1 472L232.4 472.1L232.7 472L233 471.9L233.3 471.7L233.6 471.8L233.9 471.7L234.2 471.8L234.6 471.8L234.9 472L235.2 471.9L235.5 471.9L235.8 471.8L236.1 471.9L236.4 471.8L236.7 471.9L237 471.9L237.3 472L237.6 472L237.9 471.9L238.2 471.9L238.6 472L238.9 472.1L239.2 471.9L239.5 471.8L239.8 471.7L240.1 471.7L240.4 471.8L240.7 471.9L241 472.1L241.3 472.1L241.6 472L241.9 472L242.2 471.9L242.5 471.8L242.9 471.9L243.2 472.2L243.5 472.3L243.8 472.1L244.1 472.1L244.4 472.1L244.7 472.1L245 472.1L245.3 472L245.6 472.1L245.9 472.1L246.2 472.3L246.5 472.2L246.9 472.2L247.2 471.9L247.5 472L247.8 472L248.1 472.2L248.4 472.1L248.7 472.2L249 472.2L249.3 472.3L249.6 472.3L249.9 472.1L250.2 472.1L250.5 471.9L250.8 472.1L251.2 472.2L251.5 472.4L251.8 472.3L252.1 472L252.4 472.1L252.7 472L253 472.1" stroke="#000000"/>
<path d="M37.8 481.2L38.1 481.1L38.4 481.2L38.7 481L39 481L39.3 480.9L39.6 481.1L40 481.1L40.3 481.1L40.6 481.1L40.9 481.1L41.2 481.2L41.5 481.2L41.8 481.2L42.1 481.2L42.4 481.2L42.7 481.3L43 481.1L43.3 481.2L43.6 481.2L43.9 481.2L44.3 481.1L44.6 481.1L44.9 481L45.2 481L45.5 481L45.8 481.2L46.1 481.3L46.4 481.2L46.7 481.1L47 481.2L47.3 481.2L47.6 481.2L47.9 481.2L48.3 481.2L48.6 481.2L48.9 481.2L49.2 481.2L49.5 481.2L49.8 481.1L50.1 481.2L50.4 481.2L50.7 481.1L51 481L51.3 481.1L51.6 481.2L51.9 481.1L52.2 481.2L52.6 481.2L52.9 481.2L53.2 481.1L53.5 481.1L53.8 481.1L54.1 481L54.4 481L54.7 481.1L55 481.2L55.3 481.2L55.6 481.1L55.9 481L56.2 481L56.6 481.1L56.9 481.1L57.2 481L57.5 481.1L57.8 481.1L58.1 481L58.4 481L58.7 481L59 481L59.3 481.1L59.6 481.1L59.9 481L60.2 481L60.5 481.1L60.9 481.1L61.2 480.9L61.5 480.8L61.8 480.8L62.1 480.9L62.4 480.9L62.7 480.9L63 480.9L63.3 480.8L63.6 480.8L63.9 480.9L64.2 480.9L64.5 480.9L64.9 480.9L65.2 480.9L65.5 480.9L65.8 480.8L66.1 480.6L66.4 480.5L66.7 480.7L67 480.6L67.3 480.6L67.6 480.4L67.9 480.4L68.2 480.4L68.5 480.3L68.9 480.3L69.2 480.2L69.5 480.1L69.8 479.9L70.1 479.7L70.4 479.7L70.7 479.5L71 479.4L71.3 479.1L71.6 479L71.9 478.7L72.2 478.5L72.5 478.2L72.8 478L73.2 477.8L73.5 477.6L73.8 477.2L74.1 476.7L74.4 476.4L74.7 476L75 475.7L75.3 475.4L75.6 475.1L75.9 474.7L76.2 474.2L76.5 473.9L76.8 473.4L77.2 473L77.5 472.4L77.8 472.1L78.1 471.8L78.4 471.3L78.7 470.7L79 470L79.3 469.5L79.6 468.8L79.9 468.1L80.2 467.2L80.5 466.4L80.8 465.3L81.1 464L81.5 462.6L81.8 461.2L82.1 459.6L82.4 457.8L82.7 455.8L83 453.4L83.3 451L83.6 448.3L83.9 445.4L84.2 442.2L84.5 438.9L84.8 435.5L85.1 431.9L85.5 428.2L85.8 424.3L86.1 420.6L86.4 416.8L86.7 413L87 409.5L87.3 406.3L87.6 403.3L87.9 400.5L88.2 397.9L88.5 396L88.8 394.6L89.1 394.2L89.4 394.1L89.8 394.5L90.1 395.4L90.4 396.9L90.7 398.9L91 401.4L91.3 404.3L91.6 407.6L91.9 411.4L92.2 415.2L92.5 419.1L92.8 423.1L93.1 427.3L93.4 431.5L93.8 435.5L94.1 439.3L94.4 443L94.7 446.6L95 450L95.3 453.2L95.6 456.2L95.9 459L96.2 461.6L96.5 463.8L96.8 465.8L97.1 467.7L97.4 469.5L97.7 471L98.1 472.2L98.4 473.2L98.7 474.2L99 475.1L99.3 475.9L99.6 476.6L99.9 477.1L100.2 477.5L100.5 478L100.8 478.5L101.1 478.8L101.4 479L101.7 479.1L102.1 479.2L102.4 479.5L102.7 479.7L103 479.8L103.3 479.8L103.6 479.9L103.9 479.9L104.2 480L104.5 480L104.8 480.2L105.1 480.3L105.4 480.3L105.7 480.4L106 480.5L106.4 480.5L106.7 480.4L107 480.4L107.3 480.5L107.6 480.7L107.9 480.7L108.2 480.7L108.5 480.6L108.8 480.6L109.1 480.7L109.4 480.8L109.7 480.7L110 480.7L110.4 480.7L110.7 480.8L111 480.9L111.3 480.8L111.6 481L111.9 481L112.2 481.1L112.5 481L112.8 481.1L113.1 481.1L113.4 481.1L113.7 481.1L114 481.1L114.3 481.2L114.7 481.2L115 481.1L115.3 481.1L115.6 481.1L115.9 481.2L116.2 481.2L116.5 481.2L116.8 481.3L117.1 481.2L117.4 481.3L117.7 481.3L118 481.3L118.3 481.3L118.7 481.2L119 481.2L119.3 481.1L119.6 481.1L119.9 481.2L120.2 481.2L120.5 481.2L120.8 481.3L121.1 481.3L121.4 481.3L121.7 481.2L122 481.3L122.3 481.2L122.7 481.2L123 481.3L123.3 481.4L123.6 481.5L123.9 481.4L124.2 481.3L124.5 481.4L124.8 481.3L125.1 481.3L125.4 481.4L125.7 481.5L126 481.7L126.3 481.6L126.6 481.5L127 481.5L127.3 481.4L127.6 481.4L127.9 481.4L128.2 481.5L128.5 481.6L128.8 481.5L129.1 481.5L129.4 481.4L129.7 481.4L130 481.4L130.3 481.5L130.6 481.7L131 481.7L131.3 481.6L131.6 481.5L131.9 481.5L132.2 481.5L132.5 481.5L132.8 481.4L133.1 481.5L133.4 481.4L133.7 481.4L134 481.5L134.3 481.6L134.6 481.6L134.9 481.6L135.3 481.6L135.6 481.7L135.9 481.7L136.2 481.7L136.5 481.6L136.8 481.7L137.1 481.7L137.4 481.7L137.7 481.5L138 481.5L138.3 481.6L138.6 481.5L138.9 481.6L139.3 481.5L139.6 481.6L139.9 481.5L140.2 481.5L140.5 481.5L140.8 481.5L141.1 481.6L141.4 481.5L141.7 481.4L142 481.4L142.3 481.5L142.6 481.5L142.9 481.6L143.2 481.7L143.6 481.7L143.9 481.7L144.2 481.6L144.5 481.6L144.8 481.6L145.1 481.6L145.4 481.6L145.7 481.7L146 481.6L146.3 481.7L146.6 481.6L146.9 481.7L147.2 481.7L147.6 481.7L147.9 481.7L148.2 481.7L148.5 481.8L148.8 481.7L149.1 481.8L149.4 481.6L149.7 481.7L150 481.8L150.3 481.9L150.6 481.8L150.9 481.6L151.2 481.5L151.5 481.5L151.9 481.6L152.2 481.7L152.5 481.7L152.8 481.7L153.1 481.7L153.4 481.8L153.7 481.9L154 481.8L154.3 481.7L154.6 481.7L154.9 481.7L155.2 481.7L155.5 481.7L155.9 481.7L156.2 481.7L156.5 481.6L156.8 481.6L157.1 481.6L157.4 481.7L157.7 481.7L158 481.7L158.3 481.6L158.6 481.6L158.9 481.7L159.2 481.8L159.5 481.7L159.8 481.6L160.2 481.6L160.5 481.6L160.8 481.5L161.1 481.5L161.4 481.6L161.7 481.8L162 481.8L162.3 481.8L162.6 481.7L162.9 481.7L163.2 481.6L163.5 481.7L163.8 481.7L164.2 481.7L164.5 481.6L164.8 481.7L165.1 481.8L165.4 481.8L165.7 481.8L166 481.6L166.3 481.6L166.6 481.6L166.9 481.7L167.2 481.7L167.5 481.7L167.8 481.7L168.1 481.8L168.5 481.8L168.8 481.8L169.1 481.7L169.4 481.6L169.7 481.7L170 481.7L170.3 481.8L170.6 481.6L170.9 481.5L171.2 481.4L171.5 481.4L171.8 481.6L172.1 481.6L172.5 481.6L172.8 481.5L173.1 481.5L173.4 481.5L173.7 481.5L174 481.5L174.3 481.5L174.6 481.5L174.9 481.4L175.2 481.4L175.5 481.5L175.8 481.5L176.1 481.4L176.5 481.3L176.8 481.3L177.1 481.4L177.4 481.3L177.7 481.3L178 481.2L178.3 481.2L178.6 481.2L178.9 481.2L179.2 481.2L179.5 481.2L179.8 481.1L180.1 481.1L180.4 481L180.8 481L181.1 480.9L181.4 480.8L181.7 480.7L182 480.6L182.3 480.5L182.6 480.4L182.9 480.2L183.2 480L183.5 479.8L183.8 479.6L184.1 479.4L184.4 479.1L184.8 478.8L185.1 478.5L185.4 478.1L185.7 477.7L186 477.3L186.3 476.8L186.6 476.3L186.9 475.6L187.2 475L187.5 474.3L187.8 473.6L188.1 472.9L188.4 472.2L188.7 471.5L189.1 470.7L189.4 469.9L189.7 469L190 468L190.3 467.2L190.6 466.5L190.9 465.9L191.2 465.3L191.5 464.7L191.8 464.3L192.1 463.8L192.4 463.4L192.7 463.1L193.1 463L193.4 462.9L193.7 463.1L194 463.3L194.3 463.8L194.6 464.3L194.9 464.9L195.2 465.5L195.5 466.3L195.8 467.1L196.1 467.8L196.4 468.5L196.7 469.3L197 470.1L197.4 471L197.7 471.7L198 472.4L198.3 473L198.6 473.9L198.9 474.6L199.2 475.3L199.5 475.9L199.8 476.4L200.1 476.9L200.4 477.4L200.7 477.9L201 478.3L201.4 478.7L201.7 479.1L202 479.2L202.3 479.4L202.6 479.6L202.9 480L203.2 480.3L203.5 480.5L203.8 480.7L204.1 480.7L204.4 480.8L204.7 480.9L205 481L205.3 480.9L205.7 481L206 481.1L206.3 481.2L206.6 481.2L206.9 481.4L207.2 481.4L207.5 481.5L207.8 481.4L208.1 481.5L208.4 481.6L208.7 481.6L209 481.6L209.3 481.5L209.7 481.6L210 481.6L210.3 481.5L210.6 481.5L210.9 481.5L211.2 481.6L211.5 481.6L211.8 481.7L212.1 481.7L212.4 481.8L212.7 481.7L213 481.7L213.3 481.8L213.6 481.8L214 481.8L214.3 481.7L214.6 481.9L214.9 481.9L215.2 482L215.5 482L215.8 482L216.1 481.9L216.4 481.9L216.7 481.9L217 482L217.3 481.9L217.6 481.9L218 481.9L218.3 482L218.6 482.2L218.9 482.3L219.2 482.2L219.5 482.1L219.8 482L220.1 482L220.4 482.1L220.7 482.1L221 482.1L221.3 482.1L221.6 482.1L221.9 482.1L222.3 482.1L222.6 482.1L222.9 482L223.2 482.1L223.5 482.1L223.8 482.1L224.1 482.1L224.4 482.1L224.7 482.1L225 482.1L225.3 482L225.6 482L225.9 482.1L226.3 482.2L226.6 482.2L226.9 482.3L227.2 482.2L227.5 482.3L227.8 482.2L228.1 482.2L228.4 482.2L228.7 482.2L229 482.1L229.3 482.1L229.6 482.1L229.9 482.1L230.3 482.3L230.6 482.3L230.9 482.4L231.2 482.2L231.5 482.1L231.8 482L232.1 482.1L232.4 482.1L232.7 482.1L233 482.2L233.3 482.2L233.6 482.3L233.9 482.3L234.2 482.2L234.6 482.2L234.9 482.1L235.2 482.2L235.5 482.2L235.8 482.2L236.1 482.2L236.4 482.1L236.7 482.2L237 482.2L237.3 482.2L237.6 482.3L237.9 482.2L238.2 482.3L238.6 482.3L238.9 482.3L239.2 482.4L239.5 482.3L239.8 482.4L240.1 482.2L240.4 482.2L240.7 482.3L241 482.3L241.3 482.3L241.6 482.1L241.9 482.2L242.2 482.2L242.5 482.3L242.9 482.2L243.2 482.2L243.5 482.1L243.8 482.2L244.1 482.3L244.4 482.3L244.7 482.3L245 482.4L245.3 482.4L245.6 482.3L245.9 482.3L246.2 482.3L246.5 482.3L246.9 482.4L247.2 482.3L247.5 482.3L247.8 482.2L248.1 482.2L248.4 482.2L248.7 482.2L249 482.2L249.3 482.4L249.6 482.5L249.9 482.5L250.2 482.5L250.5 482.4L250.8 482.5L251.2 482.6L251.5 482.5L251.8 482.5L252.1 482.5L252.4 482.6L252.7 482.4L253 482.2" stroke="#ff0000"/>
<path d="M37.8 492L38.1 492L38.4 492L38.7 491.9L39 491.9L39.3 491.9L39.6 492L40 492L40.3 492L40.6 492L40.9 492L41.2 492L41.5 492L41.8 492L42.1 492L42.4 492L42.7 492L43 492L43.3 492.1L43.6 492L43.9 492L44.3 492L44.6 492L44.9 492L45.2 491.9L45.5 492L45.8 492L46.1 492L46.4 492L46.7 492L47 491.9L47.3 491.9L47.6 491.9L47.9 491.9L48.3 491.9L48.6 491.9L48.9 491.9L49.2 491.9L49.5 491.9L49.8 491.9L50.1 491.9L50.4 491.9L50.7 492L51 492L51.3 492L51.6 491.9L51.9 491.9L52.2 491.9L52.6 491.9L52.9 492L53.2 491.9L53.5 491.9L53.8 491.8L54.1 491.9L54.4 491.9L54.7 491.9L55 491.9L55.3 491.8L55.6 491.8L55.9 491.8L56.2 491.8L56.6 491.8L56.9 491.8L57.2 491.8L57.5 491.8L57.8 491.8L58.1 491.8L58.4 491.8L58.7 491.9L59 491.9L59.3 491.9L59.6 491.9L59.9 491.8L60.2 491.8L60.5 491.8L60.9 491.8L61.2 491.7L61.5 491.7L61.8 491.7L62.1 491.7L62.4 491.7L62.7 491.7L63 491.7L63.3 491.6L63.6 491.6L63.9 491.7L64.2 491.8L64.5 491.8L64.9 491.6L65.2 491.5L65.5 491.5L65.8 491.5L66.1 491.6L66.4 491.4L66.7 491.4L67 491.4L67.3 491.4L67.6 491.4L67.9 491.4L68.2 491.4L68.5 491.4L68.9 491.4L69.2 491.3L69.5 491.3L69.8 491.3L70.1 491.2L70.4 491.2L70.7 491.2L71 491.2L71.3 491.1L71.6 491.1L71.9 491L72.2 490.9L72.5 490.8L72.8 490.8L73.2 490.8L73.5 490.8L73.8 490.7L74.1 490.7L74.4 490.7L74.7 490.6L75 490.4L75.3 490.3L75.6 490.2L75.9 490.2L76.2 490.2L76.5 490.2L76.8 490.1L77.2 489.9L77.5 489.7L77.8 489.6L78.1 489.4L78.4 489.2L78.7 489L79 488.8L79.3 488.4L79.6 488L79.9 487.5L80.2 487L80.5 486.4L80.8 485.6L81.1 484.7L81.5 483.6L81.8 482.3L82.1 480.9L82.4 479.2L82.7 477.3L83 475.1L83.3 472.5L83.6 469.7L83.9 466.6L84.2 463.3L84.5 459.6L84.8 455.7L85.1 451.5L85.5 447.1L85.8 442.4L86.1 437.7L86.4 433.1L86.7 428.5L87 424.2L87.3 420.1L87.6 416.3L87.9 413.1L88.2 410.4L88.5 408.6L88.8 407.7L89.1 407.6L89.4 408.4L89.8 410.1L90.1 412.5L90.4 415.7L90.7 419.3L91 423.4L91.3 427.7L91.6 432.2L91.9 436.9L92.2 441.6L92.5 446.2L92.8 450.6L93.1 454.9L93.4 458.9L93.8 462.6L94.1 466.1L94.4 469.2L94.7 472L95 474.5L95.3 476.8L95.6 478.8L95.9 480.5L96.2 482L96.5 483.3L96.8 484.4L97.1 485.4L97.4 486.3L97.7 487L98.1 487.5L98.4 487.8L98.7 488.2L99 488.6L99.3 488.9L99.6 489.2L99.9 489.3L100.2 489.5L100.5 489.7L100.8 489.9L101.1 490L101.4 490.1L101.7 490.1L102.1 490.2L102.4 490.3L102.7 490.4L103 490.6L103.3 490.7L103.6 490.8L103.9 490.8L104.2 490.9L104.5 491L104.8 491L105.1 491.1L105.4 491.1L105.7 491.2L106 491.2L106.4 491.3L106.7 491.3L107 491.3L107.3 491.3L107.6 491.3L107.9 491.4L108.2 491.4L108.5 491.4L108.8 491.4L109.1 491.4L109.4 491.5L109.7 491.5L110 491.5L110.4 491.5L110.7 491.6L111 491.6L111.3 491.6L111.6 491.6L111.9 491.6L112.2 491.7L112.5 491.7L112.8 491.7L113.1 491.7L113.4 491.7L113.7 491.7L114 491.8L114.3 491.8L114.7 491.8L115 491.8L115.3 491.8L115.6 491.8L115.9 491.8L116.2 491.8L116.5 491.8L116.8 491.8L117.1 491.9L117.4 491.9L117.7 491.9L118 491.9L118.3 491.9L118.7 491.9L119 491.9L119.3 491.9L119.6 491.9L119.9 491.9L120.2 491.9L120.5 492L120.8 492L121.1 492L121.4 491.9L121.7 491.9L122 491.9L122.3 492L122.7 492L123 492L123.3 492L123.6 492.1L123.9 492L124.2 492L124.5 492L124.8 492L125.1 492L125.4 491.9L125.7 492L126 491.9L126.3 492.1L126.6 492.1L127 492.1L127.3 492.1L127.6 492.1L127.9 492L128.2 492.2L128.5 492.2L128.8 492.2L129.1 492.2L129.4 492.1L129.7 492.1L130 492.1L130.3 492.1L130.6 492.1L131 492.1L131.3 492.2L131.6 492.2L131.9 492.2L132.2 492.2L132.5 492.2L132.8 492.2L133.1 492.2L133.4 492.2L133.7 492.2L134 492.3L134.3 492.3L134.6 492.2L134.9 492.2L135.3 492.1L135.6 492.1L135.9 492.2L136.2 492.3L136.5 492.2L136.8 492.2L137.1 492.1L137.4 492.1L137.7 492.1L138 492.1L138.3 492.2L138.6 492.2L138.9 492.2L139.3 492.2L139.6 492.2L139.9 492.2L140.2 492.2L140.5 492.2L140.8 492.2L141.1 492.2L141.4 492.2L141.7 492.1L142 492.2L142.3 492.2L142.6 492.3L142.9 492.3L143.2 492.3L143.6 492.3L143.9 492.2L144.2 492.2L144.5 492.2L144.8 492.3L145.1 492.2L145.4 492.3L145.7 492.2L146 492.2L146.3 492.3L146.6 492.2L146.9 492.2L147.2 492.2L147.6 492.2L147.9 492.3L148.2 492.2L148.5 492.2L148.8 492.2L149.1 492.2L149.4 492.2L149.7 492.2L150 492.1L150.3 492.2L150.6 492.2L150.9 492.2L151.2 492.2L151.5 492.3L151.9 492.2L152.2 492.2L152.5 492.2L152.8 492.3L153.1 492.3L153.4 492.3L153.7 492.3L154 492.3L154.3 492.3L154.6 492.2L154.9 492.2L155.2 492.2L155.5 492.2L155.9 492.2L156.2 492.3L156.5 492.3L156.8 492.3L157.1 492.3L157.4 492.3L157.7 492.3L158 492.3L158.3 492.3L158.6 492.3L158.9 492.3L159.2 492.2L159.5 492.2L159.8 492.3L160.2 492.3L160.5 492.3L160.8 492.3L161.1 492.2L161.4 492.3L161.7 492.3L162 492.3L162.3 492.2L162.6 492.2L162.9 492.2L163.2 492.2L163.5 492.1L163.8 492.2L164.2 492.3L164.5 492.2L164.8 492.2L165.1 492.2L165.4 492.2L165.7 492.2L166 492.2L166.3 492.2L166.6 492.2L166.9 492.2L167.2 492.2L167.5 492.3L167.8 492.3L168.1 492.3L168.5 492.3L168.8 492.2L169.1 492.2L169.4 492.1L169.7 492.2L170 492.3L170.3 492.2L170.6 492.2L170.9 492.2L171.2 492.3L171.5 492.2L171.8 492.3L172.1 492.3L172.5 492.3L172.8 492.2L173.1 492.2L173.4 492.2L173.7 492.2L174 492.2L174.3 492.2L174.6 492.2L174.9 492.2L175.2 492.2L175.5 492.2L175.8 492.2L176.1 492.2L176.5 492.2L176.8 492.1L177.1 492.1L177.4 492.1L177.7 492.1L178 492L178.3 492L178.6 492L178.9 492L179.2 491.9L179.5 491.9L179.8 492L180.1 491.9L180.4 491.8L180.8 491.8L181.1 491.8L181.4 491.8L181.7 491.7L182 491.7L182.3 491.7L182.6 491.7L182.9 491.6L183.2 491.5L183.5 491.3L183.8 491.1L184.1 491L184.4 490.8L184.8 490.7L185.1 490.5L185.4 490.3L185.7 490L186 489.7L186.3 489.3L186.6 488.9L186.9 488.5L187.2 488.1L187.5 487.5L187.8 486.9L188.1 486.3L188.4 485.7L188.7 485L189.1 484.3L189.4 483.5L189.7 482.8L190 482L190.3 481.3L190.6 480.5L190.9 479.9L191.2 479.2L191.5 478.5L191.8 477.9L192.1 477.4L192.4 477.1L192.7 476.9L193.1 476.8L193.4 476.9L193.7 477L194 477.2L194.3 477.6L194.6 478L194.9 478.6L195.2 479.2L195.5 480L195.8 480.6L196.1 481.4L196.4 482.1L196.7 482.9L197 483.6L197.4 484.3L197.7 485L198 485.7L198.3 486.3L198.6 487L198.9 487.6L199.2 488.1L199.5 488.6L199.8 489L200.1 489.3L200.4 489.7L200.7 490L201 490.2L201.4 490.5L201.7 490.7L202 491L202.3 491.2L202.6 491.2L202.9 491.3L203.2 491.3L203.5 491.6L203.8 491.7L204.1 491.7L204.4 491.7L204.7 491.8L205 491.9L205.3 491.9L205.7 491.9L206 492L206.3 492L206.6 492L206.9 492.1L207.2 492L207.5 492.1L207.8 492.1L208.1 492.1L208.4 492.1L208.7 492.1L209 492.2L209.3 492.3L209.7 492.3L210 492.2L210.3 492.2L210.6 492.2L210.9 492.3L211.2 492.3L211.5 492.3L211.8 492.3L212.1 492.2L212.4 492.2L212.7 492.3L213 492.3L213.3 492.3L213.6 492.3L214 492.3L214.3 492.3L214.6 492.3L214.9 492.4L215.2 492.4L215.5 492.3L215.8 492.3L216.1 492.3L216.4 492.4L216.7 492.4L217 492.5L217.3 492.5L217.6 492.5L218 492.4L218.3 492.4L218.6 492.3L218.9 492.4L219.2 492.4L219.5 492.4L219.8 492.4L220.1 492.4L220.4 492.4L220.7 492.4L221 492.4L221.3 492.4L221.6 492.5L221.9 492.5L222.3 492.5L222.6 492.5L222.9 492.5L223.2 492.4L223.5 492.4L223.8 492.4L224.1 492.5L224.4 492.5L224.7 492.4L225 492.4L225.3 492.5L225.6 492.5L225.9 492.5L226.3 492.5L226.6 492.5L226.9 492.4L227.2 492.4L227.5 492.3L227.8 492.4L228.1 492.5L228.4 492.5L228.7 492.5L229 492.4L229.3 492.4L229.6 492.4L229.9 492.4L230.3 492.5L230.6 492.5L230.9 492.5L231.2 492.5L231.5 492.5L231.8 492.4L232.1 492.4L232.4 492.4L232.7 492.5L233 492.5L233.3 492.6L233.6 492.6L233.9 492.6L234.2 492.5L234.6 492.5L234.9 492.5L235.2 492.5L235.5 492.5L235.8 492.5L236.1 492.5L236.4 492.5L236.7 492.5L237 492.6L237.3 492.5L237.6 492.5L237.9 492.5L238.2 492.5L238.6 492.5L238.9 492.5L239.2 492.4L239.5 492.5L239.8 492.5L240.1 492.5L240.4 492.5L240.7 492.5L241 492.5L241.3 492.5L241.6 492.5L241.9 492.6L242.2 492.5L242.5 492.6L242.9 492.6L243.2 492.6L243.5 492.6L243.8 492.6L244.1 492.6L244.4 492.6L244.7 492.5L245 492.6L245.3 492.5L245.6 492.5L245.9 492.5L246.2 492.5L246.5 492.5L246.9 492.5L247.2 492.6L247.5 492.5L247.8 492.6L248.1 492.5L248.4 492.5L248.7 492.5L249 492.5L249.3 492.5L249.6 492.5L249.9 492.5L250.2 492.5L250.5 492.6L250.8 492.6L251.2 492.6L251.5 492.6L251.8 492.6L252.1 492.6L252.4 492.6L252.7 492.6L253 492.6" stroke="#00ff00"/>
<path d="M37.8 502L38.1 502L38.4 502L38.7 502L39 502L39.3 502L39.6 502L40 502.1L40.3 502.1L40.6 502.1L40.9 502.1L41.2 502.1L41.5 502L41.8 502.1L42.1 502.1L42.4 502.1L42.7 502.1L43 502.1L43.3 502.1L43.6 502.1L43.9 502L44.3 502.1L44.6 502.1L44.9 502.1L45.2 502L45.5 502L45.8 502.1L46.1 502L46.4 502L46.7 502L47 502.1L47.3 502L47.6 502L47.9 502L48.3 502L48.6 502.1L48.9 502L49.2 502L49.5 502L49.8 502L50.1 502L50.4 502L50.7 502.1L51 502.1L51.3 502.1L51.6 502L51.9 502L52.2 502L52.6 502.1L52.9 502.1L53.2 502.1L53.5 502.1L53.8 502.1L54.1 502.1L54.4 502.1L54.7 502L55 502L55.3 502L55.6 502L55.9 502L56.2 502L56.6 502L56.9 502L57.2 502L57.5 502L57.8 502L58.1 502L58.4 502L58.7 502L59 502L59.3 502L59.6 502L59.9 502L60.2 502.1L60.5 502.1L60.9 502.1L61.2 502L61.5 502L61.8 502L62.1 502L62.4 502L62.7 502L63 502L63.3 501.9L63.6 501.9L63.9 501.9L64.2 501.9L64.5 501.9L64.9 501.9L65.2 501.9L65.5 501.9L65.8 501.9L66.1 501.9L66.4 501.9L66.7 501.9L67 501.9L67.3 501.9L67.6 501.9L67.9 501.8L68.2 501.8L68.5 501.8L68.9 501.8L69.2 501.8L69.5 501.8L69.8 501.8L70.1 501.8L70.4 501.8L70.7 501.7L71 501.7L71.3 501.7L71.6 501.7L71.9 501.7L72.2 501.6L72.5 501.6L72.8 501.6L73.2 501.6L73.5 501.5L73.8 501.5L74.1 501.5L74.4 501.5L74.7 501.4L75 501.5L75.3 501.4L75.6 501.4L75.9 501.3L76.2 501.3L76.5 501.3L76.8 501.1L77.2 501.1L77.5 501L77.8 501L78.1 500.9L78.4 500.8L78.7 500.7L79 500.6L79.3 500.5L79.6 500.3L79.9 500L80.2 499.8L80.5 499.4L80.8 499.1L81.1 498.5L81.5 498L81.8 497.3L82.1 496.6L82.4 495.6L82.7 494.6L83 493.3L83.3 491.9L83.6 490.3L83.9 488.6L84.2 486.5L84.5 484.4L84.8 482L85.1 479.6L85.5 476.9L85.8 474.2L86.1 471.4L86.4 468.6L86.7 465.9L87 463.1L87.3 460.7L87.6 458.4L87.9 456.5L88.2 454.9L88.5 453.9L88.8 453.3L89.1 453.2L89.4 453.7L89.8 454.7L90.1 456.2L90.4 458L90.7 460.2L91 462.6L91.3 465.2L91.6 468L91.9 470.8L92.2 473.6L92.5 476.4L92.8 479.1L93.1 481.7L93.4 484L93.8 486.2L94.1 488.2L94.4 490L94.7 491.6L95 493.1L95.3 494.4L95.6 495.5L95.9 496.4L96.2 497.2L96.5 497.9L96.8 498.5L97.1 498.9L97.4 499.3L97.7 499.7L98.1 500L98.4 500.3L98.7 500.4L99 500.5L99.3 500.7L99.6 500.9L99.9 501L100.2 501.1L100.5 501.1L100.8 501.2L101.1 501.2L101.4 501.3L101.7 501.4L102.1 501.5L102.4 501.4L102.7 501.4L103 501.4L103.3 501.4L103.6 501.5L103.9 501.6L104.2 501.6L104.5 501.6L104.8 501.7L105.1 501.7L105.4 501.7L105.7 501.7L106 501.7L106.4 501.7L106.7 501.7L107 501.8L107.3 501.9L107.6 501.9L107.9 501.9L108.2 501.8L108.5 501.8L108.8 501.8L109.1 501.9L109.4 501.9L109.7 501.9L110 501.9L110.4 501.9L110.7 501.9L111 502L111.3 501.9L111.6 501.9L111.9 501.9L112.2 502L112.5 502L112.8 502.1L113.1 502.1L113.4 502.1L113.7 502L114 502L114.3 502L114.7 502.1L115 502.1L115.3 502L115.6 502.1L115.9 502.1L116.2 502.2L116.5 502.2L116.8 502.1L117.1 502.1L117.4 502L117.7 502.1L118 502.1L118.3 502.2L118.7 502.1L119 502.1L119.3 502L119.6 502.1L119.9 502.1L120.2 502.1L120.5 502.1L120.8 502.2L121.1 502.2L121.4 502.2L121.7 502.2L122 502.2L122.3 502.2L122.7 502.2L123 502.2L123.3 502.2L123.6 502.1L123.9 502.1L124.2 502.2L124.5 502.2L124.8 502.2L125.1 502.2L125.4 502.2L125.7 502.2L126 502.2L126.3 502.2L126.6 502.1L127 502.1L127.3 502.2L127.6 502.2L127.9 502.2L128.2 502.2L128.5 502.2L128.8 502.2L129.1 502.3L129.4 502.3L129.7 502.3L130 502.3L130.3 502.3L130.6 502.2L131 502.2L131.3 502.3L131.6 502.3L131.9 502.3L132.2 502.3L132.5 502.3L132.8 502.2L133.1 502.2L133.4 502.3L133.7 502.3L134 502.3L134.3 502.3L134.6 502.3L134.9 502.3L135.3 502.3L135.6 502.3L135.9 502.3L136.2 502.4L136.5 502.3L136.8 502.3L137.1 502.3L137.4 502.3L137.7 502.1L138 502.2L138.3 502.3L138.6 502.3L138.9 502.3L139.3 502.3L139.6 502.3L139.9 502.3L140.2 502.3L140.5 502.3L140.8 502.2L141.1 502.2L141.4 502.2L141.7 502.2L142 502.2L142.3 502.2L142.6 502.2L142.9 502.2L143.2 502.2L143.6 502.2L143.9 502.3L144.2 502.3L144.5 502.3L144.8 502.3L145.1 502.3L145.4 502.2L145.7 502.2L146 502.2L146.3 502.2L146.6 502.3L146.9 502.2L147.2 502.2L147.6 502.3L147.9 502.4L148.2 502.4L148.5 502.4L148.8 502.3L149.1 502.3L149.4 502.3L149.7 502.3L150 502.3L150.3 502.3L150.6 502.3L150.9 502.3L151.2 502.3L151.5 502.3L151.9 502.3L152.2 502.3L152.5 502.3L152.8 502.3L153.1 502.3L153.4 502.3L153.7 502.4L154 502.4L154.3 502.4L154.6 502.3L154.9 502.3L155.2 502.3L155.5 502.4L155.9 502.4L156.2 502.4L156.5 502.3L156.8 502.3L157.1 502.4L157.4 502.3L157.7 502.3L158 502.4L158.3 502.4L158.6 502.3L158.9 502.3L159.2 502.3L159.5 502.3L159.8 502.3L160.2 502.3L160.5 502.4L160.8 502.3L161.1 502.3L161.4 502.3L161.7 502.3L162 502.3L162.3 502.3L162.6 502.3L162.9 502.3L163.2 502.3L163.5 502.3L163.8 502.4L164.2 502.4L164.5 502.4L164.8 502.4L165.1 502.4L165.4 502.4L165.7 502.4L166 502.4L166.3 502.3L166.6 502.3L166.9 502.3L167.2 502.3L167.5 502.3L167.8 502.3L168.1 502.3L168.5 502.3L168.8 502.3L169.1 502.3L169.4 502.3L169.7 502.3L170 502.4L170.3 502.3L170.6 502.3L170.9 502.3L171.2 502.3L171.5 502.4L171.8 502.3L172.1 502.3L172.5 502.3L172.8 502.2L173.1 502.3L173.4 502.3L173.7 502.3L174 502.3L174.3 502.3L174.6 502.2L174.9 502.2L175.2 502.2L175.5 502.3L175.8 502.3L176.1 502.3L176.5 502.3L176.8 502.3L177.1 502.3L177.4 502.2L177.7 502.3L178 502.3L178.3 502.3L178.6 502.2L178.9 502.2L179.2 502.2L179.5 502.3L179.8 502.2L180.1 502.2L180.4 502.1L180.8 502.2L181.1 502.2L181.4 502.2L181.7 502.1L182 502.1L182.3 502.1L182.6 502L182.9 502L183.2 502L183.5 502L183.8 501.9L184.1 501.8L184.4 501.7L184.8 501.6L185.1 501.4L185.4 501.3L185.7 501.1L186 500.9L186.3 500.6L186.6 500.4L186.9 500.2L187.2 499.9L187.5 499.5L187.8 499.2L188.1 498.7L188.4 498.3L188.7 497.9L189.1 497.5L189.4 497.1L189.7 496.6L190 496.2L190.3 495.7L190.6 495.3L190.9 494.9L191.2 494.5L191.5 494.1L191.8 493.8L192.1 493.6L192.4 493.4L192.7 493.3L193.1 493.2L193.4 493.2L193.7 493.2L194 493.4L194.3 493.5L194.6 493.8L194.9 494.1L195.2 494.6L195.5 495L195.8 495.4L196.1 495.8L196.4 496.3L196.7 496.8L197 497.2L197.4 497.7L197.7 498.1L198 498.5L198.3 498.9L198.6 499.3L198.9 499.6L199.2 499.9L199.5 500.2L199.8 500.5L200.1 500.8L200.4 500.9L200.7 501.1L201 501.3L201.4 501.5L201.7 501.6L202 501.7L202.3 501.9L202.6 501.9L202.9 502L203.2 502.1L203.5 502.1L203.8 502.1L204.1 502.2L204.4 502.2L204.7 502.2L205 502.2L205.3 502.2L205.7 502.2L206 502.2L206.3 502.3L206.6 502.3L206.9 502.3L207.2 502.3L207.5 502.3L207.8 502.3L208.1 502.4L208.4 502.4L208.7 502.4L209 502.4L209.3 502.4L209.7 502.4L210 502.4L210.3 502.4L210.6 502.3L210.9 502.3L211.2 502.3L211.5 502.4L211.8 502.4L212.1 502.4L212.4 502.4L212.7 502.4L213 502.4L213.3 502.4L213.6 502.4L214 502.5L214.3 502.5L214.6 502.5L214.9 502.5L215.2 502.5L215.5 502.5L215.8 502.4L216.1 502.4L216.4 502.4L216.7 502.4L217 502.4L217.3 502.4L217.6 502.4L218 502.4L218.3 502.5L218.6 502.5L218.9 502.5L219.2 502.4L219.5 502.4L219.8 502.5L220.1 502.5L220.4 502.5L220.7 502.5L221 502.5L221.3 502.4L221.6 502.4L221.9 502.5L222.3 502.5L222.6 502.5L222.9 502.5L223.2 502.5L223.5 502.5L223.8 502.4L224.1 502.4L224.4 502.5L224.7 502.5L225 502.5L225.3 502.4L225.6 502.4L225.9 502.5L226.3 502.5L226.6 502.5L226.9 502.5L227.2 502.6L227.5 502.5L227.8 502.6L228.1 502.5L228.4 502.5L228.7 502.5L229 502.6L229.3 502.5L229.6 502.5L229.9 502.5L230.3 502.6L230.6 502.5L230.9 502.5L231.2 502.5L231.5 502.5L231.8 502.5L232.1 502.6L232.4 502.6L232.7 502.5L233 502.5L233.3 502.5L233.6 502.5L233.9 502.5L234.2 502.5L234.6 502.5L234.9 502.5L235.2 502.5L235.5 502.5L235.8 502.5L236.1 502.5L236.4 502.5L236.7 502.6L237 502.6L237.3 502.6L237.6 502.6L237.9 502.5L238.2 502.5L238.6 502.5L238.9 502.6L239.2 502.6L239.5 502.6L239.8 502.5L240.1 502.5L240.4 502.5L240.7 502.5L241 502.6L241.3 502.6L241.6 502.6L241.9 502.6L242.2 502.5L242.5 502.5L242.9 502.5L243.2 502.5L243.5 502.6L243.8 502.6L244.1 502.6L244.4 502.6L244.7 502.5L245 502.6L245.3 502.6L245.6 502.5L245.9 502.5L246.2 502.5L246.5 502.6L246.9 502.6L247.2 502.6L247.5 502.6L247.8 502.5L248.1 502.5L248.4 502.5L248.7 502.5L249 502.6L249.3 502.5L249.6 502.6L249.9 502.6L250.2 502.6L250.5 502.6L250.8 502.6L251.2 502.6L251.5 502.6L251.8 502.6L252.1 502.6L252.4 502.6L252.7 502.6L253 502.6" stroke="#0000ff"/>
<path d="M37.8 511.2L38.1 511.2L38.4 511.2L38.7 511.2L39 511.2L39.3 511.2L39.6 511.2L40 511.2L40.3 511.2L40.6 511.2L40.9 511.2L41.2 511.2L41.5 511.2L41.8 511.2L42.1 511.1L42.4 511.1L42.7 511.2L43 511.2L43.3 511.2L43.6 511.2L43.9 511.2L44.3 511.2L44.6 511.2L44.9 511.2L45.2 511.2L45.5 511.2L45.8 511.2L46.1 511.2L46.4 511.2L46.7 511.2L47 511.2L47.3 511.2L47.6 511.2L47.9 511.2L48.3 511.2L48.6 511.2L48.9 511.2L49.2 511.2L49.5 511.2L49.8 511.2L50.1 511.2L50.4 511.2L50.7 511.2L51 511.2L51.3 511.2L51.6 511.2L51.9 511.2L52.2 511.2L52.6 511.1L52.9 511.2L53.2 511.2L53.5 511.2L53.8 511.2L54.1 511.2L54.4 511.2L54.7 511.2L55 511.2L55.3 511.2L55.6 511.2L55.9 511.2L56.2 511.2L56.6 511.2L56.9 511.2L57.2 511.2L57.5 511.2L57.8 511.2L58.1 511.2L58.4 511.1L58.7 511.2L59 511.2L59.3 511.2L59.6 511.2L59.9 511.2L60.2 511.2L60.5 511.2L60.9 511.2L61.2 511.2L61.5 511.2L61.8 511.2L62.1 511.1L62.4 511.2L62.7 511.2L63 511.2L63.3 511.2L63.6 511.2L63.9 511.1L64.2 511.1L64.5 511.1L64.9 511.1L65.2 511.2L65.5 511.1L65.8 511.2L66.1 511.1L66.4 511.2L66.7 511.2L67 511.2L67.3 511.2L67.6 511.1L67.9 511.2L68.2 511.2L68.5 511.2L68.9 511.2L69.2 511.1L69.5 511.1L69.8 511.1L70.1 511.1L70.4 511.1L70.7 511.1L71 511.1L71.3 511.1L71.6 511.1L71.9 511.1L72.2 511L72.5 511L72.8 511.1L73.2 511.1L73.5 511.1L73.8 511.1L74.1 511L74.4 511L74.7 511L75 511L75.3 511L75.6 511L75.9 510.9L76.2 510.9L76.5 510.9L76.8 510.9L77.2 510.9L77.5 510.8L77.8 510.8L78.1 510.8L78.4 510.7L78.7 510.7L79 510.6L79.3 510.5L79.6 510.5L79.9 510.3L80.2 510.2L80.5 510L80.8 509.8L81.1 509.5L81.5 509.2L81.8 508.8L82.1 508.3L82.4 507.7L82.7 507L83 506.3L83.3 505.3L83.6 504.2L83.9 503L84.2 501.7L84.5 500.2L84.8 498.6L85.1 496.8L85.5 495L85.8 493L86.1 491L86.4 489L86.7 487.1L87 485.3L87.3 483.5L87.6 482L87.9 480.7L88.2 479.7L88.5 478.9L88.8 478.5L89.1 478.4L89.4 478.8L89.8 479.4L90.1 480.4L90.4 481.7L90.7 483.2L91 484.9L91.3 486.7L91.6 488.7L91.9 490.7L92.2 492.7L92.5 494.6L92.8 496.4L93.1 498.2L93.4 499.9L93.8 501.4L94.1 502.8L94.4 504L94.7 505.1L95 506.1L95.3 506.9L95.6 507.6L95.9 508.2L96.2 508.8L96.5 509.2L96.8 509.5L97.1 509.8L97.4 510L97.7 510.2L98.1 510.4L98.4 510.5L98.7 510.6L99 510.7L99.3 510.7L99.6 510.8L99.9 510.8L100.2 510.8L100.5 510.9L100.8 510.9L101.1 510.9L101.4 511L101.7 511L102.1 511L102.4 511L102.7 511L103 511L103.3 511.1L103.6 511.1L103.9 511.1L104.2 511.1L104.5 511.1L104.8 511.1L105.1 511.1L105.4 511.2L105.7 511.1L106 511.1L106.4 511.1L106.7 511.2L107 511.2L107.3 511.2L107.6 511.2L107.9 511.2L108.2 511.2L108.5 511.2L108.8 511.2L109.1 511.2L109.4 511.3L109.7 511.3L110 511.3L110.4 511.3L110.7 511.2L111 511.3L111.3 511.2L111.6 511.2L111.9 511.2L112.2 511.2L112.5 511.3L112.8 511.3L113.1 511.3L113.4 511.3L113.7 511.3L114 511.3L114.3 511.3L114.7 511.3L115 511.3L115.3 511.3L115.6 511.3L115.9 511.3L116.2 511.3L116.5 511.3L116.8 511.3L117.1 511.3L117.4 511.3L117.7 511.3L118 511.3L118.3 511.3L118.7 511.3L119 511.3L119.3 511.3L119.6 511.3L119.9 511.4L120.2 511.3L120.5 511.3L120.8 511.3L121.1 511.3L121.4 511.3L121.7 511.4L122 511.3L122.3 511.3L122.7 511.3L123 511.3L123.3 511.3L123.6 511.4L123.9 511.4L124.2 511.3L124.5 511.4L124.8 511.3L125.1 511.4L125.4 511.3L125.7 511.3L126 511.3L126.3 511.4L126.6 511.4L127 511.3L127.3 511.3L127.6 511.3L127.9 511.4L128.2 511.4L128.5 511.4L128.8 511.3L129.1 511.4L129.4 511.4L129.7 511.3L130 511.4L130.3 511.4L130.6 511.4L131 511.4L131.3 511.4L131.6 511.4L131.9 511.4L132.2 511.3L132.5 511.3L132.8 511.3L133.1 511.3L133.4 511.4L133.7 511.4L134 511.4L134.3 511.3L134.6 511.4L134.9 511.4L135.3 511.4L135.6 511.3L135.9 511.4L136.2 511.4L136.5 511.4L136.8 511.4L137.1 511.4L137.4 511.4L137.7 511.4L138 511.4L138.3 511.4L138.6 511.4L138.9 511.4L139.3 511.4L139.6 511.4L139.9 511.4L140.2 511.4L140.5 511.4L140.8 511.4L141.1 511.4L141.4 511.4L141.7 511.4L142 511.4L142.3 511.4L142.6 511.4L142.9 511.4L143.2 511.4L143.6 511.4L143.9 511.4L144.2 511.4L144.5 511.4L144.8 511.4L145.1 511.4L145.4 511.4L145.7 511.4L146 511.4L146.3 511.4L146.6 511.4L146.9 511.4L147.2 511.4L147.6 511.4L147.9 511.5L148.2 511.4L148.5 511.4L148.8 511.4L149.1 511.4L149.4 511.4L149.7 511.4L150 511.4L150.3 511.4L150.6 511.4L150.9 511.4L151.2 511.4L151.5 511.4L151.9 511.4L152.2 511.4L152.5 511.4L152.8 511.4L153.1 511.5L153.4 511.5L153.7 511.5L154 511.5L154.3 511.5L154.6 511.5L154.9 511.5L155.2 511.5L155.5 511.4L155.9 511.5L156.2 511.4L156.5 511.5L156.8 511.5L157.1 511.5L157.4 511.5L157.7 511.4L158 511.4L158.3 511.4L158.6 511.5L158.9 511.5L159.2 511.4L159.5 511.4L159.8 511.4L160.2 511.4L160.5 511.4L160.8 511.4L161.1 511.4L161.4 511.4L161.7 511.4L162 511.4L162.3 511.4L162.6 511.4L162.9 511.4L163.2 511.4L163.5 511.4L163.8 511.5L164.2 511.5L164.5 511.4L164.8 511.4L165.1 511.4L165.4 511.4L165.7 511.5L166 511.5L166.3 511.5L166.6 511.5L166.9 511.5L167.2 511.4L167.5 511.4L167.8 511.4L168.1 511.4L168.5 511.4L168.8 511.4L169.1 511.4L169.4 511.4L169.7 511.5L170 511.5L170.3 511.5L170.6 511.5L170.9 511.5L171.2 511.5L171.5 511.5L171.8 511.5L172.1 511.5L172.5 511.4L172.8 511.4L173.1 511.4L173.4 511.4L173.7 511.5L174 511.5L174.3 511.5L174.6 511.5L174.9 511.5L175.2 511.5L175.5 511.5L175.8 511.4L176.1 511.4L176.5 511.5L176.8 511.4L177.1 511.5L177.4 511.4L177.7 511.4L178 511.4L178.3 511.5L178.6 511.5L178.9 511.4L179.2 511.4L179.5 511.4L179.8 511.4L180.1 511.4L180.4 511.4L180.8 511.4L181.1 511.4L181.4 511.4L181.7 511.4L182 511.4L182.3 511.4L182.6 511.3L182.9 511.3L183.2 511.3L183.5 511.3L183.8 511.2L184.1 511.2L184.4 511.1L184.8 511.1L185.1 511L185.4 510.8L185.7 510.7L186 510.6L186.3 510.4L186.6 510.2L186.9 510L187.2 509.8L187.5 509.6L187.8 509.3L188.1 509L188.4 508.7L188.7 508.4L189.1 508L189.4 507.6L189.7 507.3L190 506.9L190.3 506.6L190.6 506.3L190.9 505.9L191.2 505.6L191.5 505.3L191.8 505L192.1 504.8L192.4 504.7L192.7 504.5L193.1 504.5L193.4 504.5L193.7 504.5L194 504.6L194.3 504.8L194.6 505.1L194.9 505.4L195.2 505.7L195.5 506L195.8 506.3L196.1 506.7L196.4 507.1L196.7 507.4L197 507.8L197.4 508.2L197.7 508.5L198 508.8L198.3 509.1L198.6 509.4L198.9 509.7L199.2 510L199.5 510.2L199.8 510.4L200.1 510.5L200.4 510.7L200.7 510.8L201 510.9L201.4 511L201.7 511.1L202 511.2L202.3 511.2L202.6 511.3L202.9 511.3L203.2 511.4L203.5 511.4L203.8 511.4L204.1 511.4L204.4 511.4L204.7 511.4L205 511.5L205.3 511.5L205.7 511.5L206 511.5L206.3 511.4L206.6 511.5L206.9 511.5L207.2 511.5L207.5 511.5L207.8 511.5L208.1 511.5L208.4 511.5L208.7 511.5L209 511.6L209.3 511.6L209.7 511.5L210 511.6L210.3 511.6L210.6 511.6L210.9 511.5L211.2 511.5L211.5 511.5L211.8 511.6L212.1 511.6L212.4 511.5L212.7 511.5L213 511.5L213.3 511.6L213.6 511.6L214 511.6L214.3 511.6L214.6 511.6L214.9 511.6L215.2 511.6L215.5 511.6L215.8 511.6L216.1 511.5L216.4 511.5L216.7 511.5L217 511.5L217.3 511.5L217.6 511.6L218 511.6L218.3 511.6L218.6 511.6L218.9 511.6L219.2 511.6L219.5 511.6L219.8 511.5L220.1 511.6L220.4 511.6L220.7 511.6L221 511.6L221.3 511.6L221.6 511.6L221.9 511.6L222.3 511.6L222.6 511.6L222.9 511.6L223.2 511.6L223.5 511.6L223.8 511.6L224.1 511.6L224.4 511.6L224.7 511.6L225 511.6L225.3 511.6L225.6 511.6L225.9 511.6L226.3 511.6L226.6 511.6L226.9 511.6L227.2 511.6L227.5 511.6L227.8 511.6L228.1 511.6L228.4 511.6L228.7 511.6L229 511.6L229.3 511.6L229.6 511.6L229.9 511.6L230.3 511.6L230.6 511.6L230.9 511.6L231.2 511.6L231.5 511.6L231.8 511.6L232.1 511.6L232.4 511.6L232.7 511.6L233 511.6L233.3 511.6L233.6 511.6L233.9 511.6L234.2 511.6L234.6 511.6L234.9 511.6L235.2 511.6L235.5 511.6L235.8 511.6L236.1 511.6L236.4 511.6L236.7 511.6L237 511.6L237.3 511.6L237.6 511.6L237.9 511.6L238.2 511.6L238.6 511.6L238.9 511.6L239.2 511.6L239.5 511.6L239.8 511.6L240.1 511.6L240.4 511.6L240.7 511.6L241 511.6L241.3 511.6L241.6 511.6L241.9 511.6L242.2 511.6L242.5 511.7L242.9 511.7L243.2 511.6L243.5 511.6L243.8 511.6L244.1 511.6L244.4 511.6L244.7 511.6L245 511.6L245.3 511.6L245.6 511.6L245.9 511.6L246.2 511.6L246.5 511.6L246.9 511.7L247.2 511.7L247.5 511.7L247.8 511.6L248.1 511.6L248.4 511.6L248.7 511.6L249 511.6L249.3 511.6L249.6 511.7L249.9 511.7L250.2 511.7L250.5 511.7L250.8 511.6L251.2 511.7L251.5 511.7L251.8 511.7L252.1 511.7L252.4 511.6L252.7 511.6L253 511.6" stroke="#00ffff"/>
</g>
<rect x="40.9" y="488.5" width="20.5" height="21.5" fill="#fff"/>
<text font-family='"Liberation Sans", sans-serif' font-size="14.6" fill="#0a0a0a" x="42.4" y="504.6">(b)</text>
<rect x="37.8" y="297.5" width="215.2" height="215.29999999999995" fill="none" stroke="#1a1a1a" stroke-width="1.05"/>
<path d="M35.9 501.5H37.8M34.0 490.1H37.8M35.9 478.8H37.8M34.0 467.4H37.8M35.9 456.1H37.8M34.0 444.7H37.8M35.9 433.4H37.8M34.0 422.1H37.8M35.9 410.7H37.8M34.0 399.4H37.8M35.9 388.0H37.8M34.0 376.7H37.8M35.9 365.3H37.8M34.0 354.0H37.8M35.9 342.6H37.8M34.0 331.3H37.8M35.9 320.0H37.8M34.0 308.6H37.8M37.8 512.8V516.5999999999999M42.1 512.8V514.6999999999999M46.4 512.8V514.6999999999999M50.7 512.8V514.6999999999999M55.0 512.8V514.6999999999999M59.3 512.8V516.5999999999999M63.6 512.8V514.6999999999999M67.9 512.8V514.6999999999999M72.2 512.8V514.6999999999999M76.5 512.8V514.6999999999999M80.8 512.8V516.5999999999999M85.1 512.8V514.6999999999999M89.4 512.8V514.6999999999999M93.8 512.8V514.6999999999999M98.1 512.8V514.6999999999999M102.4 512.8V516.5999999999999M106.7 512.8V514.6999999999999M111.0 512.8V514.6999999999999M115.3 512.8V514.6999999999999M119.6 512.8V514.6999999999999M123.9 512.8V516.5999999999999M128.2 512.8V514.6999999999999M132.5 512.8V514.6999999999999M136.8 512.8V514.6999999999999M141.1 512.8V514.6999999999999M145.4 512.8V516.5999999999999M149.7 512.8V514.6999999999999M154.0 512.8V514.6999999999999M158.3 512.8V514.6999999999999M162.6 512.8V514.6999999999999M166.9 512.8V516.5999999999999M171.2 512.8V514.6999999999999M175.5 512.8V514.6999999999999M179.8 512.8V514.6999999999999M184.1 512.8V514.6999999999999M188.4 512.8V516.5999999999999M192.7 512.8V514.6999999999999M197.0 512.8V514.6999999999999M201.4 512.8V514.6999999999999M205.7 512.8V514.6999999999999M210.0 512.8V516.5999999999999M214.3 512.8V514.6999999999999M218.6 512.8V514.6999999999999M222.9 512.8V514.6999999999999M227.2 512.8V514.6999999999999M231.5 512.8V516.5999999999999M235.8 512.8V514.6999999999999M240.1 512.8V514.6999999999999M244.4 512.8V514.6999999999999M248.7 512.8V514.6999999999999M253.0 512.8V516.5999999999999" stroke="#1a1a1a" stroke-width="0.9" fill="none"/>
<g font-family='"Liberation Sans", sans-serif' font-size="7.3" fill="#0a0a0a">
<text x="31.599999999999998" y="492.7" text-anchor="end">10k</text>
<text x="31.599999999999998" y="470.0" text-anchor="end">20k</text>
<text x="31.599999999999998" y="447.3" text-anchor="end">30k</text>
<text x="31.599999999999998" y="424.7" text-anchor="end">40k</text>
<text x="31.599999999999998" y="402.0" text-anchor="end">50k</text>
<text x="31.599999999999998" y="379.3" text-anchor="end">60k</text>
<text x="31.599999999999998" y="356.6" text-anchor="end">70k</text>
<text x="31.599999999999998" y="333.9" text-anchor="end">80k</text>
<text x="31.599999999999998" y="311.2" text-anchor="end">90k</text>
<text x="37.8" y="524.3" text-anchor="middle">28</text>
<text x="59.3" y="524.3" text-anchor="middle">29</text>
<text x="80.8" y="524.3" text-anchor="middle">30</text>
<text x="102.4" y="524.3" text-anchor="middle">31</text>
<text x="123.9" y="524.3" text-anchor="middle">32</text>
<text x="145.4" y="524.3" text-anchor="middle">33</text>
<text x="166.9" y="524.3" text-anchor="middle">34</text>
<text x="188.4" y="524.3" text-anchor="middle">35</text>
<text x="210.0" y="524.3" text-anchor="middle">36</text>
<text x="231.5" y="524.3" text-anchor="middle">37</text>
<text x="253.0" y="524.3" text-anchor="middle">38</text>
</g>
<text font-family='"Liberation Sans", sans-serif' font-size="9.7" fill="#0a0a0a" y="544.2"><tspan x="120.6">2</tspan><tspan x="126.5" font-family="Liberation Serif, serif" font-size="9.4" stroke="none">ϑ</tspan><tspan x="134.5">[degree]</tspan></text>
<text font-family='"Liberation Sans", sans-serif' font-size="9.9" fill="#0a0a0a" transform="translate(9.799999999999997,404.9) rotate(-90)" text-anchor="middle">XRD intensity [counts/s]</text>
<g font-family='"Liberation Sans", sans-serif' font-size="10.7" fill="#0a0a0a">
<text x="111.19999999999999" y="359.8">DKKK</text>
<text x="111.69999999999999" y="375.5">temperature, <tspan font-size="7" dy="-4">o</tspan><tspan dy="4">C</tspan></text>
<path d="M111.1 384.9H135.6" stroke="#00ffff" stroke-width="1.3"/>
<text x="138.0" y="388.7">1400</text>
<path d="M111.1 398.0H135.6" stroke="#0000ff" stroke-width="1.3"/>
<text x="138.0" y="401.8">1300</text>
<path d="M111.1 411.0H135.6" stroke="#00ff00" stroke-width="1.3"/>
<text x="138.0" y="414.8">1200</text>
<path d="M111.1 424.1H135.6" stroke="#ff0000" stroke-width="1.3"/>
<text x="138.0" y="427.9">1100</text>
<path d="M111.1 437.1H135.6" stroke="#000000" stroke-width="1.3"/>
<text x="138.0" y="440.9">1000</text>
</g>
<clipPath id="cc"><rect x="320.4" y="297.5" width="215.0" height="215.29999999999995"/></clipPath>
<g fill="none" stroke-width="1.25" stroke-linejoin="round" clip-path="url(#cc)">
<path d="M320.4 448.8L320.7 449L321 449L321.3 448.8L321.6 448.3L321.9 448.4L322.2 448.7L322.6 448.8L322.9 448.5L323.2 448.2L323.5 448.4L323.8 448.4L324.1 448.5L324.4 448.1L324.7 448.3L325 448.2L325.3 448.6L325.6 448.3L325.9 448.1L326.2 447.9L326.5 448.4L326.9 448.4L327.2 448.5L327.5 448.2L327.8 448.3L328.1 448.1L328.4 448.4L328.7 448.4L329 448.5L329.3 448.4L329.6 448.5L329.9 448.7L330.2 448.8L330.5 448.5L330.8 448.2L331.2 447.9L331.5 448L331.8 448L332.1 448.2L332.4 448.2L332.7 448.3L333 448.2L333.3 448L333.6 447.9L333.9 447.7L334.2 448.1L334.5 448.1L334.8 448.3L335.1 448.2L335.5 448.1L335.8 448L336.1 447.9L336.4 447.9L336.7 447.7L337 447.8L337.3 447.5L337.6 447.7L337.9 447.7L338.2 447.7L338.5 447.7L338.8 447.7L339.1 447.7L339.4 447.5L339.8 447.5L340.1 447.5L340.4 447.2L340.7 446.9L341 446.7L341.3 446.7L341.6 446.7L341.9 446.4L342.2 446.3L342.5 446.2L342.8 446.2L343.1 445.9L343.4 445.5L343.7 445L344.1 444.7L344.4 444.2L344.7 443.6L345 443L345.3 442.2L345.6 440.9L345.9 439.5L346.2 438.2L346.5 436.9L346.8 435.5L347.1 433.9L347.4 432L347.7 430L348 427.7L348.4 425.3L348.7 422.7L349 419.8L349.3 416.5L349.6 412.9L349.9 409.2L350.2 405.5L350.5 401.9L350.8 397.9L351.1 394.3L351.4 390L351.7 386.1L352 381.9L352.3 377.6L352.7 372.8L353 367.9L353.3 362.7L353.6 357.4L353.9 352.5L354.2 349.8L354.5 349.2L354.8 350.9L355.1 354.3L355.4 359.3L355.7 364.6L356 369.9L356.3 374.8L356.6 379.3L357 383.8L357.3 387.9L357.6 391.9L357.9 395.6L358.2 399.6L358.5 403.5L358.8 407.4L359.1 411.2L359.4 414.8L359.7 418.1L360 421.3L360.3 424.2L360.6 426.8L360.9 429.1L361.3 431.2L361.6 433.3L361.9 435.2L362.2 436.8L362.5 438.1L362.8 439.4L363.1 440.7L363.4 441.8L363.7 442.7L364 443.3L364.3 443.9L364.6 444.3L364.9 444.7L365.2 445L365.6 445.4L365.9 445.8L366.2 445.9L366.5 446.1L366.8 446.2L367.1 446.6L367.4 446.9L367.7 447.2L368 447.2L368.3 447.4L368.6 447.3L368.9 447.5L369.2 447.5L369.5 447.5L369.9 447.5L370.2 447.7L370.5 448.1L370.8 448.2L371.1 448.1L371.4 447.8L371.7 447.8L372 447.8L372.3 447.7L372.6 447.9L372.9 448L373.2 448L373.5 448.1L373.8 448.2L374.2 448.6L374.5 448.5L374.8 448.3L375.1 448.3L375.4 448.2L375.7 448.1L376 448.1L376.3 448.3L376.6 448.6L376.9 448.6L377.2 448.5L377.5 448.5L377.8 448.4L378.1 448.4L378.5 448.2L378.8 448.4L379.1 448.5L379.4 448.3L379.7 448.5L380 448.5L380.3 448.9L380.6 448.7L380.9 448.8L381.2 448.7L381.5 448.7L381.8 448.6L382.1 448.7L382.4 448.7L382.8 448.8L383.1 449L383.4 449L383.7 448.8L384 448.6L384.3 448.5L384.6 448.6L384.9 448.7L385.2 448.7L385.5 448.7L385.8 448.4L386.1 448.4L386.4 448.5L386.7 448.8L387.1 449.1L387.4 449.1L387.7 449.1L388 448.8L388.3 448.6L388.6 448.7L388.9 448.9L389.2 449.1L389.5 449.2L389.8 448.9L390.1 448.9L390.4 449L390.7 448.9L391 448.9L391.4 448.6L391.7 448.8L392 448.9L392.3 448.9L392.6 448.8L392.9 448.8L393.2 449L393.5 449.5L393.8 449.6L394.1 449.4L394.4 449L394.7 448.8L395 448.6L395.3 448.5L395.7 448.4L396 448.6L396.3 448.7L396.6 449.2L396.9 449.2L397.2 449.1L397.5 448.8L397.8 448.7L398.1 448.9L398.4 448.8L398.7 449L399 449L399.3 449.1L399.6 449L400 449.1L400.3 449.1L400.6 449L400.9 449L401.2 448.9L401.5 448.9L401.8 448.9L402.1 449.1L402.4 449.3L402.7 449.1L403 449L403.3 448.9L403.6 448.8L403.9 448.8L404.3 448.7L404.6 448.9L404.9 448.9L405.2 449.2L405.5 449.3L405.8 449L406.1 448.8L406.4 448.8L406.7 448.9L407 448.9L407.3 448.7L407.6 448.7L407.9 449L408.2 449.3L408.6 449.5L408.9 449.2L409.2 449L409.5 448.9L409.8 449.1L410.1 448.9L410.4 449.3L410.7 449.1L411 449.2L411.3 448.9L411.6 448.8L411.9 448.9L412.2 448.9L412.5 449.2L412.9 449.2L413.2 449.2L413.5 449L413.8 449.1L414.1 449.3L414.4 449.1L414.7 449.3L415 449.2L415.3 449.1L415.6 448.7L415.9 448.9L416.2 449L416.5 449.2L416.8 449L417.2 449L417.5 448.8L417.8 449.1L418.1 449.3L418.4 449.3L418.7 449L419 448.7L419.3 448.7L419.6 448.6L419.9 448.7L420.2 448.7L420.5 449L420.8 448.9L421.1 449L421.5 448.9L421.8 449.1L422.1 449.2L422.4 449.2L422.7 449.4L423 449.2L423.3 449.3L423.6 449L423.9 449.2L424.2 449L424.5 448.9L424.8 448.8L425.1 448.9L425.4 449L425.8 449.1L426.1 449.1L426.4 448.9L426.7 449L427 449.1L427.3 449.4L427.6 449.3L427.9 449.1L428.2 449.1L428.5 448.9L428.8 449.1L429.1 449.1L429.4 449.2L429.7 449.2L430.1 449.2L430.4 449.3L430.7 449.3L431 449.3L431.3 449.2L431.6 449.2L431.9 449L432.2 449L432.5 448.8L432.8 448.9L433.1 449.2L433.4 449.2L433.7 449.2L434 448.9L434.4 448.8L434.7 448.8L435 448.9L435.3 449.1L435.6 449.3L435.9 449.3L436.2 449.2L436.5 449L436.8 449.1L437.1 449.2L437.4 449.4L437.7 449.1L438 448.9L438.3 449L438.7 449.1L439 449.1L439.3 449L439.6 449.2L439.9 449.1L440.2 449.1L440.5 449.1L440.8 449.1L441.1 449.4L441.4 449.1L441.7 449.3L442 449.2L442.3 449.5L442.6 449.5L443 449.4L443.3 449.3L443.6 449.1L443.9 449.1L444.2 448.9L444.5 448.8L444.8 448.9L445.1 449L445.4 449.3L445.7 449.2L446 449.2L446.3 449L446.6 449.1L446.9 449.1L447.3 449.1L447.6 449L447.9 449.3L448.2 449.4L448.5 449.4L448.8 449.3L449.1 449.2L449.4 449.3L449.7 449.2L450 449.2L450.3 449.2L450.6 449.1L450.9 449.1L451.2 449.1L451.6 448.9L451.9 448.8L452.2 449.1L452.5 449L452.8 449L453.1 448.8L453.4 448.9L453.7 448.8L454 448.7L454.3 448.9L454.6 449.2L454.9 449.1L455.2 448.9L455.5 448.7L455.9 449L456.2 449L456.5 448.9L456.8 448.9L457.1 449L457.4 448.8L457.7 448.7L458 448.5L458.3 448.7L458.6 448.5L458.9 448.3L459.2 448.3L459.5 448L459.8 448L460.2 447.9L460.5 447.9L460.8 447.8L461.1 447.3L461.4 446.8L461.7 446.4L462 446.2L462.3 446.1L462.6 445.7L462.9 445.1L463.2 444.5L463.5 444.1L463.8 443.8L464.1 443.7L464.5 443.7L464.8 443.9L465.1 443.4L465.4 443.2L465.7 443L466 443L466.3 442.8L466.6 442.5L466.9 442.2L467.2 441.9L467.5 441.5L467.8 441.3L468.1 440.6L468.4 440L468.8 439L469.1 438.1L469.4 436.8L469.7 435.3L470 433.7L470.3 432.1L470.6 430.3L470.9 428L471.2 425.5L471.5 423.1L471.8 420.6L472.1 418.2L472.4 415.5L472.7 412.9L473.1 410L473.4 406.9L473.7 403.8L474 400.6L474.3 397.3L474.6 393.9L474.9 390.5L475.2 387.8L475.5 386.7L475.8 387L476.1 389.3L476.4 392.4L476.7 396L477 399.3L477.4 402.8L477.7 405.8L478 408.7L478.3 411.6L478.6 414.4L478.9 417L479.2 419.4L479.5 422.1L479.8 424.8L480.1 427.4L480.4 429.7L480.7 431.7L481 433.6L481.3 435.1L481.7 436.5L482 438L482.3 439.7L482.6 441.3L482.9 442.1L483.2 442.9L483.5 443.4L483.8 444.4L484.1 445L484.4 445.6L484.7 446.1L485 446.5L485.3 446.9L485.6 447.2L486 447.5L486.3 447.7L486.6 447.8L486.9 447.8L487.2 448.2L487.5 448.2L487.8 448.3L488.1 447.9L488.4 448.1L488.7 448.2L489 448.4L489.3 448.4L489.6 448.3L489.9 448.4L490.3 448.4L490.6 448.6L490.9 448.4L491.2 448.4L491.5 448.4L491.8 448.7L492.1 448.8L492.4 448.9L492.7 448.6L493 448.7L493.3 448.6L493.6 448.8L493.9 448.6L494.2 448.8L494.6 449L494.9 449.2L495.2 449.2L495.5 449.1L495.8 449.1L496.1 449.1L496.4 449L496.7 449L497 449L497.3 449L497.6 449.1L497.9 449.3L498.2 449.2L498.5 449.2L498.9 449.2L499.2 449.1L499.5 449.1L499.8 449.1L500.1 449.3L500.4 449.1L500.7 448.9L501 448.8L501.3 448.8L501.6 448.9L501.9 449L502.2 449.2L502.5 449L502.8 449L503.2 448.7L503.5 448.7L503.8 448.4L504.1 448.4L504.4 448.4L504.7 448.6L505 448.5L505.3 448.1L505.6 447.8L505.9 447.4L506.2 447.2L506.5 447L506.8 447L507.1 446.9L507.5 446.5L507.8 446.1L508.1 445.7L508.4 445.4L508.7 445.1L509 444.7L509.3 444.1L509.6 443.8L509.9 443.2L510.2 442.8L510.5 442.3L510.8 442.2L511.1 441.9L511.4 441.5L511.8 441.1L512.1 440.8L512.4 440.7L512.7 440.7L513 440.6L513.3 440.6L513.6 441.2L513.9 441.6L514.2 442L514.5 442.1L514.8 442.5L515.1 442.7L515.4 443.1L515.7 443.6L516.1 444.2L516.4 444.9L516.7 445.4L517 446L517.3 446L517.6 446.2L517.9 446.5L518.2 447L518.5 447.3L518.8 447.5L519.1 447.5L519.4 447.7L519.7 447.7L520 448.1L520.4 448.4L520.7 448.7L521 448.8L521.3 448.6L521.6 448.9L521.9 448.9L522.2 449L522.5 448.8L522.8 448.9L523.1 449L523.4 449.1L523.7 449.1L524 449.1L524.3 449.3L524.7 449.3L525 449.3L525.3 449.2L525.6 449.3L525.9 449.3L526.2 449.1L526.5 449.1L526.8 448.9L527.1 449.1L527.4 449.2L527.7 449.4L528 449.4L528.3 449.6L528.6 449.6L529 449.5L529.3 449.5L529.6 449.8L529.9 449.9L530.2 449.6L530.5 449.4L530.8 449.2L531.1 449.5L531.4 449.7L531.7 449.7L532 449.6L532.3 449.3L532.6 449.4L532.9 449.4L533.3 449.4L533.6 449.5L533.9 449.4L534.2 449.3L534.5 449.5L534.8 449.5L535.1 449.5L535.4 449" stroke="#000000"/>
<path d="M320.4 464.7L320.7 464.6L321 464.5L321.3 464.2L321.6 464.2L321.9 464.3L322.2 464.3L322.6 464.3L322.9 464.1L323.2 464.2L323.5 464.3L323.8 464.4L324.1 464.3L324.4 464.2L324.7 464.2L325 464.3L325.3 464.4L325.6 464.2L325.9 464.2L326.2 464.2L326.5 464.2L326.9 464.1L327.2 464L327.5 463.8L327.8 463.9L328.1 463.9L328.4 464.1L328.7 464.1L329 464.1L329.3 463.9L329.6 464L329.9 464L330.2 464.2L330.5 464.1L330.8 464.1L331.2 464L331.5 464.1L331.8 464L332.1 464L332.4 463.9L332.7 463.9L333 464.2L333.3 464L333.6 464L333.9 463.7L334.2 463.7L334.5 463.6L334.8 463.7L335.1 463.6L335.5 463.6L335.8 463.7L336.1 463.8L336.4 463.9L336.7 463.9L337 463.7L337.3 463.8L337.6 463.8L337.9 463.8L338.2 463.8L338.5 463.6L338.8 463.6L339.1 463.4L339.4 463.3L339.8 463.3L340.1 463.4L340.4 463.4L340.7 463.2L341 463.1L341.3 462.8L341.6 462.6L341.9 462.6L342.2 462.5L342.5 462.6L342.8 462.4L343.1 462.1L343.4 461.9L343.7 461.5L344.1 461.2L344.4 460.8L344.7 460.4L345 459.8L345.3 459.1L345.6 458.3L345.9 457.7L346.2 457.1L346.5 456.3L346.8 455.4L347.1 454.1L347.4 453.1L347.7 451.6L348 450.5L348.4 449.1L348.7 447.6L349 445.7L349.3 443.9L349.6 442.2L349.9 440.3L350.2 438.5L350.5 436.6L350.8 434.7L351.1 432.7L351.4 430.8L351.7 428.9L352 426.9L352.3 424.6L352.7 422.1L353 419.4L353.3 416.8L353.6 414.4L353.9 412.5L354.2 411.3L354.5 411.1L354.8 411.8L355.1 413.3L355.4 415.5L355.7 418.1L356 421L356.3 423.5L356.6 425.8L357 427.8L357.3 429.9L357.6 431.9L357.9 433.9L358.2 435.8L358.5 437.7L358.8 439.6L359.1 441.2L359.4 443L359.7 444.9L360 446.9L360.3 448.4L360.6 450L360.9 451.3L361.3 452.6L361.6 453.8L361.9 454.7L362.2 455.6L362.5 456.6L362.8 457.4L363.1 458.1L363.4 458.7L363.7 459.5L364 460.1L364.3 460.6L364.6 461L364.9 461.6L365.2 461.9L365.6 462.2L365.9 462.3L366.2 462.7L366.5 462.8L366.8 462.9L367.1 463L367.4 462.9L367.7 463.1L368 462.9L368.3 463.2L368.6 463.3L368.9 463.6L369.2 463.6L369.5 463.5L369.9 463.7L370.2 463.6L370.5 463.7L370.8 463.7L371.1 464L371.4 463.9L371.7 463.9L372 463.8L372.3 463.9L372.6 463.8L372.9 463.9L373.2 464L373.5 464.1L373.8 464.1L374.2 464.1L374.5 464L374.8 464L375.1 464.2L375.4 464.4L375.7 464.5L376 464.5L376.3 464.5L376.6 464.5L376.9 464.2L377.2 464.1L377.5 464L377.8 464.2L378.1 464.2L378.5 464.5L378.8 464.6L379.1 464.5L379.4 464.4L379.7 464.3L380 464.3L380.3 464.2L380.6 464.4L380.9 464.3L381.2 464.3L381.5 464.4L381.8 464.5L382.1 464.6L382.4 464.6L382.8 464.7L383.1 464.5L383.4 464.5L383.7 464.5L384 464.5L384.3 464.6L384.6 464.5L384.9 464.6L385.2 464.7L385.5 464.7L385.8 464.6L386.1 464.6L386.4 464.6L386.7 464.7L387.1 464.6L387.4 464.6L387.7 464.7L388 464.7L388.3 464.7L388.6 464.6L388.9 464.7L389.2 464.7L389.5 464.7L389.8 464.7L390.1 464.5L390.4 464.6L390.7 464.5L391 464.7L391.4 464.6L391.7 464.5L392 464.4L392.3 464.2L392.6 464.4L392.9 464.4L393.2 464.6L393.5 464.5L393.8 464.7L394.1 464.8L394.4 464.8L394.7 464.7L395 464.7L395.3 464.6L395.7 464.5L396 464.5L396.3 464.7L396.6 464.7L396.9 464.8L397.2 464.6L397.5 464.8L397.8 464.6L398.1 464.9L398.4 464.7L398.7 464.8L399 464.5L399.3 464.7L399.6 464.7L400 464.8L400.3 464.7L400.6 464.7L400.9 464.7L401.2 464.8L401.5 464.9L401.8 465L402.1 464.9L402.4 464.9L402.7 464.7L403 464.8L403.3 464.7L403.6 464.8L403.9 464.8L404.3 464.8L404.6 464.8L404.9 464.7L405.2 464.8L405.5 464.7L405.8 464.7L406.1 464.6L406.4 464.7L406.7 464.5L407 464.6L407.3 464.5L407.6 464.7L407.9 464.7L408.2 464.8L408.6 464.7L408.9 464.6L409.2 464.6L409.5 464.6L409.8 464.7L410.1 464.6L410.4 464.8L410.7 465L411 464.9L411.3 464.7L411.6 464.5L411.9 464.4L412.2 464.6L412.5 464.7L412.9 464.9L413.2 464.7L413.5 464.7L413.8 464.8L414.1 464.8L414.4 464.8L414.7 464.8L415 464.8L415.3 464.9L415.6 464.9L415.9 465L416.2 464.8L416.5 464.8L416.8 464.8L417.2 464.8L417.5 464.8L417.8 464.9L418.1 464.8L418.4 464.9L418.7 464.9L419 464.9L419.3 464.8L419.6 464.9L419.9 464.9L420.2 464.9L420.5 464.7L420.8 464.6L421.1 464.6L421.5 464.7L421.8 464.7L422.1 464.7L422.4 464.8L422.7 464.7L423 464.7L423.3 464.6L423.6 464.8L423.9 464.8L424.2 465L424.5 464.9L424.8 464.9L425.1 464.9L425.4 464.9L425.8 465L426.1 464.8L426.4 464.8L426.7 464.8L427 465L427.3 465L427.6 464.9L427.9 464.9L428.2 464.9L428.5 464.9L428.8 464.8L429.1 464.8L429.4 464.8L429.7 465L430.1 465L430.4 465L430.7 464.9L431 465L431.3 465L431.6 464.8L431.9 464.8L432.2 464.9L432.5 465L432.8 465L433.1 465L433.4 465L433.7 464.9L434 464.9L434.4 464.9L434.7 465L435 464.9L435.3 464.9L435.6 464.9L435.9 465L436.2 465L436.5 464.8L436.8 464.8L437.1 464.8L437.4 464.9L437.7 465L438 464.9L438.3 464.9L438.7 464.8L439 465L439.3 464.9L439.6 465L439.9 465L440.2 465.2L440.5 465.2L440.8 465L441.1 464.8L441.4 464.9L441.7 464.8L442 464.9L442.3 464.8L442.6 464.9L443 465L443.3 464.8L443.6 464.8L443.9 464.8L444.2 464.9L444.5 464.9L444.8 464.9L445.1 464.7L445.4 464.6L445.7 464.5L446 464.6L446.3 464.7L446.6 464.7L446.9 464.7L447.3 464.6L447.6 464.7L447.9 464.8L448.2 465L448.5 464.9L448.8 465L449.1 464.9L449.4 464.8L449.7 464.7L450 464.7L450.3 464.8L450.6 464.7L450.9 464.7L451.2 464.6L451.6 464.7L451.9 464.5L452.2 464.6L452.5 464.6L452.8 464.7L453.1 464.6L453.4 464.8L453.7 464.9L454 464.9L454.3 464.9L454.6 464.8L454.9 464.8L455.2 464.7L455.5 464.8L455.9 464.7L456.2 464.8L456.5 464.8L456.8 464.8L457.1 464.7L457.4 464.8L457.7 464.7L458 464.9L458.3 464.7L458.6 464.7L458.9 464.4L459.2 464.4L459.5 464.1L459.8 464.1L460.2 464L460.5 464L460.8 463.9L461.1 463.9L461.4 463.6L461.7 463.4L462 463L462.3 462.6L462.6 462.3L462.9 462.1L463.2 461.8L463.5 461.5L463.8 461.2L464.1 461L464.5 460.7L464.8 460.4L465.1 460.3L465.4 460.3L465.7 460.4L466 460.3L466.3 460.3L466.6 460.2L466.9 460.2L467.2 460.2L467.5 460.2L467.8 460L468.1 459.8L468.4 459.3L468.8 459.1L469.1 458.5L469.4 458.1L469.7 457.3L470 456.3L470.3 455.4L470.6 454.4L470.9 453.2L471.2 451.7L471.5 450L471.8 448.7L472.1 447.1L472.4 445.7L472.7 443.9L473.1 442.5L473.4 440.9L473.7 439.3L474 437.2L474.3 435L474.6 432.7L474.9 430.6L475.2 429.1L475.5 428.4L475.8 428.8L476.1 430L476.4 431.9L476.7 434L477 436.1L477.4 438.1L477.7 440L478 441.7L478.3 443.4L478.6 445.1L478.9 446.6L479.2 448.2L479.5 449.7L479.8 451.3L480.1 452.6L480.4 453.9L480.7 455.1L481 456.2L481.3 457.4L481.7 458.5L482 459.5L482.3 460L482.6 460.6L482.9 461.2L483.2 461.9L483.5 462.4L483.8 462.5L484.1 462.8L484.4 462.9L484.7 463.3L485 463.5L485.3 463.8L485.6 463.9L486 464.2L486.3 464.5L486.6 464.4L486.9 464.3L487.2 464.1L487.5 464.5L487.8 464.5L488.1 464.6L488.4 464.7L488.7 464.8L489 464.8L489.3 464.6L489.6 464.6L489.9 464.5L490.3 464.5L490.6 464.5L490.9 464.7L491.2 464.7L491.5 465L491.8 464.9L492.1 464.8L492.4 464.7L492.7 464.5L493 464.5L493.3 464.5L493.6 464.7L493.9 464.8L494.2 464.9L494.6 464.9L494.9 464.9L495.2 464.8L495.5 464.8L495.8 464.7L496.1 464.7L496.4 464.7L496.7 464.7L497 464.8L497.3 464.7L497.6 464.8L497.9 464.6L498.2 464.7L498.5 464.8L498.9 464.9L499.2 465L499.5 465.1L499.8 464.9L500.1 464.8L500.4 464.8L500.7 464.9L501 465L501.3 464.9L501.6 464.9L501.9 464.6L502.2 464.6L502.5 464.6L502.8 464.7L503.2 464.7L503.5 464.9L503.8 464.7L504.1 464.7L504.4 464.5L504.7 464.6L505 464.5L505.3 464.3L505.6 464.2L505.9 464L506.2 463.7L506.5 463.7L506.8 463.6L507.1 463.8L507.5 463.5L507.8 463.3L508.1 462.9L508.4 462.8L508.7 462.7L509 462.5L509.3 462.4L509.6 462.2L509.9 462.1L510.2 461.7L510.5 461.4L510.8 461.2L511.1 460.8L511.4 460.7L511.8 460.5L512.1 460.5L512.4 460.4L512.7 460.5L513 460.7L513.3 460.8L513.6 460.8L513.9 460.8L514.2 461.1L514.5 461.4L514.8 461.5L515.1 461.7L515.4 461.9L515.7 462.2L516.1 462.5L516.4 462.8L516.7 463L517 463.2L517.3 463.2L517.6 463.3L517.9 463.4L518.2 463.5L518.5 463.6L518.8 463.8L519.1 464L519.4 464.2L519.7 464.3L520 464.3L520.4 464.5L520.7 464.6L521 464.6L521.3 464.6L521.6 464.8L521.9 465L522.2 465.2L522.5 465L522.8 465.1L523.1 464.9L523.4 465L523.7 464.9L524 464.9L524.3 464.9L524.7 464.9L525 465L525.3 465L525.6 465.2L525.9 465.3L526.2 465.2L526.5 465.1L526.8 465.1L527.1 465.2L527.4 465.1L527.7 465.2L528 465.1L528.3 465L528.6 464.9L529 464.9L529.3 465.2L529.6 465.1L529.9 465.2L530.2 465L530.5 465.2L530.8 465L531.1 465.2L531.4 465.2L531.7 465.3L532 465.2L532.3 465.4L532.6 465.3L532.9 465.2L533.3 465.1L533.6 465.2L533.9 465.2L534.2 465.1L534.5 464.9L534.8 465L535.1 465.1L535.4 465.2" stroke="#ff0000"/>
<path d="M320.4 481.2L320.7 481.2L321 481L321.3 481.1L321.6 481.1L321.9 481.1L322.2 481L322.6 481L322.9 481L323.2 481.1L323.5 481L323.8 481.1L324.1 481L324.4 481.1L324.7 481.2L325 481.2L325.3 481.1L325.6 481L325.9 481L326.2 481.2L326.5 481.2L326.9 481.1L327.2 481L327.5 481L327.8 481L328.1 481L328.4 481L328.7 481.1L329 481.1L329.3 481.1L329.6 481L329.9 480.9L330.2 480.9L330.5 480.8L330.8 480.9L331.2 480.8L331.5 480.9L331.8 480.9L332.1 481L332.4 481L332.7 481L333 480.9L333.3 480.8L333.6 480.9L333.9 480.9L334.2 481L334.5 481L334.8 480.9L335.1 480.9L335.5 480.9L335.8 480.9L336.1 481L336.4 481.1L336.7 481L337 480.9L337.3 480.8L337.6 480.9L337.9 480.9L338.2 480.9L338.5 480.8L338.8 480.8L339.1 480.8L339.4 480.7L339.8 480.6L340.1 480.7L340.4 480.6L340.7 480.6L341 480.4L341.3 480.4L341.6 480.3L341.9 480.3L342.2 480.4L342.5 480.5L342.8 480.3L343.1 480.2L343.4 480.1L343.7 480.2L344.1 480.1L344.4 480L344.7 479.9L345 479.8L345.3 479.8L345.6 479.6L345.9 479.5L346.2 479.3L346.5 479.2L346.8 478.9L347.1 478.8L347.4 478.5L347.7 478.3L348 477.8L348.4 477.4L348.7 476.6L349 475.8L349.3 474.6L349.6 473.3L349.9 471.6L350.2 469.7L350.5 467.4L350.8 464.8L351.1 461.8L351.4 458.3L351.7 454.7L352 450.7L352.3 446.5L352.7 442.3L353 438.3L353.3 434.5L353.6 431.3L353.9 428.9L354.2 427.5L354.5 427.2L354.8 428L355.1 429.9L355.4 432.7L355.7 436.2L356 440.1L356.3 444.3L356.6 448.5L357 452.6L357.3 456.4L357.6 459.9L357.9 463.1L358.2 466.1L358.5 468.6L358.8 470.7L359.1 472.5L359.4 474L359.7 475.1L360 476.1L360.3 477L360.6 477.6L360.9 478L361.3 478.5L361.6 478.8L361.9 479L362.2 479.2L362.5 479.3L362.8 479.4L363.1 479.6L363.4 479.9L363.7 480L364 480L364.3 480L364.6 480.2L364.9 480.2L365.2 480.2L365.6 480.2L365.9 480.3L366.2 480.3L366.5 480.3L366.8 480.4L367.1 480.6L367.4 480.6L367.7 480.6L368 480.6L368.3 480.6L368.6 480.6L368.9 480.6L369.2 480.7L369.5 480.8L369.9 480.9L370.2 480.9L370.5 480.7L370.8 480.7L371.1 480.7L371.4 480.8L371.7 480.8L372 480.8L372.3 480.8L372.6 480.9L372.9 481L373.2 481L373.5 480.9L373.8 480.9L374.2 481L374.5 481.1L374.8 481L375.1 481.1L375.4 481L375.7 481L376 480.9L376.3 480.9L376.6 481L376.9 481.1L377.2 481.2L377.5 481.1L377.8 481.2L378.1 481.1L378.5 481.1L378.8 481L379.1 481L379.4 480.9L379.7 480.9L380 481.1L380.3 481.2L380.6 481.2L380.9 481.2L381.2 481.2L381.5 481.1L381.8 481.1L382.1 481.2L382.4 481.2L382.8 481.2L383.1 481.2L383.4 481.3L383.7 481.2L384 481.2L384.3 481.1L384.6 481.1L384.9 481.2L385.2 481.1L385.5 481.1L385.8 481.2L386.1 481.3L386.4 481.2L386.7 481.2L387.1 481.2L387.4 481.2L387.7 481.3L388 481.2L388.3 481.2L388.6 481.2L388.9 481.3L389.2 481.3L389.5 481.3L389.8 481.2L390.1 481.3L390.4 481.2L390.7 481.3L391 481.3L391.4 481.2L391.7 481.1L392 481L392.3 481.2L392.6 481.3L392.9 481.3L393.2 481.2L393.5 481.2L393.8 481.2L394.1 481.2L394.4 481.3L394.7 481.4L395 481.4L395.3 481.4L395.7 481.3L396 481.2L396.3 481.1L396.6 481.1L396.9 481.1L397.2 481L397.5 481L397.8 481.2L398.1 481.2L398.4 481.3L398.7 481.4L399 481.4L399.3 481.4L399.6 481.2L400 481.2L400.3 481.2L400.6 481.3L400.9 481.4L401.2 481.3L401.5 481.2L401.8 481L402.1 481L402.4 481.2L402.7 481.2L403 481.3L403.3 481.3L403.6 481.4L403.9 481.4L404.3 481.4L404.6 481.3L404.9 481.4L405.2 481.3L405.5 481.3L405.8 481.3L406.1 481.4L406.4 481.4L406.7 481.4L407 481.3L407.3 481.3L407.6 481.3L407.9 481.3L408.2 481.4L408.6 481.4L408.9 481.4L409.2 481.3L409.5 481.2L409.8 481.2L410.1 481.1L410.4 481.2L410.7 481.2L411 481.4L411.3 481.3L411.6 481.4L411.9 481.3L412.2 481.4L412.5 481.4L412.9 481.4L413.2 481.4L413.5 481.4L413.8 481.3L414.1 481.3L414.4 481.2L414.7 481.3L415 481.2L415.3 481.2L415.6 481.2L415.9 481.3L416.2 481.3L416.5 481.3L416.8 481.3L417.2 481.2L417.5 481.1L417.8 481.2L418.1 481.3L418.4 481.3L418.7 481.3L419 481.3L419.3 481.2L419.6 481.3L419.9 481.3L420.2 481.4L420.5 481.4L420.8 481.3L421.1 481.4L421.5 481.2L421.8 481.2L422.1 481.2L422.4 481.2L422.7 481.4L423 481.4L423.3 481.4L423.6 481.4L423.9 481.4L424.2 481.4L424.5 481.5L424.8 481.4L425.1 481.3L425.4 481.3L425.8 481.3L426.1 481.3L426.4 481.3L426.7 481.2L427 481.3L427.3 481.2L427.6 481.2L427.9 481.4L428.2 481.4L428.5 481.4L428.8 481.4L429.1 481.5L429.4 481.4L429.7 481.3L430.1 481.3L430.4 481.5L430.7 481.5L431 481.5L431.3 481.4L431.6 481.3L431.9 481.3L432.2 481.3L432.5 481.3L432.8 481.3L433.1 481.3L433.4 481.4L433.7 481.4L434 481.4L434.4 481.4L434.7 481.4L435 481.4L435.3 481.5L435.6 481.4L435.9 481.4L436.2 481.4L436.5 481.3L436.8 481.4L437.1 481.3L437.4 481.4L437.7 481.3L438 481.3L438.3 481.3L438.7 481.3L439 481.3L439.3 481.3L439.6 481.4L439.9 481.4L440.2 481.3L440.5 481.3L440.8 481.4L441.1 481.4L441.4 481.3L441.7 481.2L442 481.3L442.3 481.3L442.6 481.3L443 481.2L443.3 481.3L443.6 481.4L443.9 481.5L444.2 481.4L444.5 481.3L444.8 481.3L445.1 481.3L445.4 481.3L445.7 481.2L446 481.2L446.3 481.2L446.6 481.2L446.9 481.3L447.3 481.5L447.6 481.4L447.9 481.4L448.2 481.3L448.5 481.3L448.8 481.3L449.1 481.3L449.4 481.3L449.7 481.4L450 481.4L450.3 481.4L450.6 481.3L450.9 481.1L451.2 481.2L451.6 481.2L451.9 481.3L452.2 481.2L452.5 481.1L452.8 481.2L453.1 481.2L453.4 481.3L453.7 481.3L454 481.3L454.3 481.3L454.6 481.2L454.9 481L455.2 481L455.5 481.1L455.9 481.2L456.2 481.2L456.5 481.2L456.8 481.2L457.1 481.3L457.4 481.2L457.7 481.2L458 481.1L458.3 481.1L458.6 481L458.9 481L459.2 481L459.5 481L459.8 481L460.2 481L460.5 481L460.8 481.1L461.1 481L461.4 480.9L461.7 481L462 481L462.3 481L462.6 480.9L462.9 480.9L463.2 480.8L463.5 480.9L463.8 480.9L464.1 480.9L464.5 480.9L464.8 480.8L465.1 480.7L465.4 480.6L465.7 480.5L466 480.4L466.3 480.4L466.6 480.4L466.9 480.3L467.2 480.2L467.5 480.1L467.8 480L468.1 479.9L468.4 479.6L468.8 479.4L469.1 479.1L469.4 478.8L469.7 478.4L470 477.9L470.3 477.2L470.6 476.3L470.9 475.2L471.2 474.1L471.5 472.7L471.8 471.1L472.1 469.3L472.4 467.2L472.7 465.2L473.1 462.9L473.4 460.5L473.7 458.1L474 456L474.3 454L474.6 452.3L474.9 450.8L475.2 450L475.5 449.8L475.8 450.4L476.1 451.4L476.4 452.8L476.7 454.6L477 456.7L477.4 459.1L477.7 461.5L478 463.8L478.3 466L478.6 468.1L478.9 470L479.2 471.7L479.5 473.2L479.8 474.5L480.1 475.6L480.4 476.6L480.7 477.3L481 478L481.3 478.6L481.7 479.1L482 479.3L482.3 479.6L482.6 479.7L482.9 480.1L483.2 480.1L483.5 480.2L483.8 480.3L484.1 480.4L484.4 480.5L484.7 480.6L485 480.7L485.3 480.7L485.6 480.7L486 480.7L486.3 480.7L486.6 480.8L486.9 480.9L487.2 480.9L487.5 480.9L487.8 480.9L488.1 481L488.4 481L488.7 481L489 481L489.3 481.2L489.6 481.2L489.9 481.2L490.3 481.2L490.6 481.2L490.9 481.3L491.2 481.2L491.5 481.1L491.8 481.1L492.1 481.2L492.4 481.1L492.7 481L493 481L493.3 481.1L493.6 481.2L493.9 481.3L494.2 481.3L494.6 481.2L494.9 481.2L495.2 481.2L495.5 481.1L495.8 481.2L496.1 481.3L496.4 481.4L496.7 481.4L497 481.4L497.3 481.4L497.6 481.3L497.9 481.3L498.2 481.4L498.5 481.2L498.9 481.2L499.2 481.2L499.5 481.3L499.8 481.3L500.1 481.4L500.4 481.4L500.7 481.4L501 481.4L501.3 481.3L501.6 481.3L501.9 481.2L502.2 481.1L502.5 481.2L502.8 481.2L503.2 481.2L503.5 481.2L503.8 481.1L504.1 481.2L504.4 481.3L504.7 481.3L505 481.3L505.3 481.2L505.6 481.2L505.9 481.2L506.2 481.2L506.5 481.1L506.8 481L507.1 480.8L507.5 480.6L507.8 480.5L508.1 480.4L508.4 480.2L508.7 479.9L509 479.7L509.3 479.4L509.6 479.3L509.9 479L510.2 478.7L510.5 478.4L510.8 478.1L511.1 477.8L511.4 477.5L511.8 477.4L512.1 477.3L512.4 477.2L512.7 477.3L513 477.4L513.3 477.6L513.6 477.7L513.9 477.9L514.2 477.9L514.5 478.1L514.8 478.3L515.1 478.7L515.4 479.1L515.7 479.4L516.1 479.6L516.4 479.8L516.7 479.9L517 480.1L517.3 480.4L517.6 480.5L517.9 480.8L518.2 480.8L518.5 480.9L518.8 481L519.1 481.2L519.4 481.2L519.7 481.2L520 481.1L520.4 481.2L520.7 481.1L521 481.2L521.3 481.2L521.6 481.2L521.9 481.4L522.2 481.4L522.5 481.4L522.8 481.4L523.1 481.4L523.4 481.5L523.7 481.4L524 481.6L524.3 481.5L524.7 481.3L525 481.2L525.3 481.3L525.6 481.4L525.9 481.4L526.2 481.5L526.5 481.4L526.8 481.5L527.1 481.5L527.4 481.5L527.7 481.6L528 481.6L528.3 481.5L528.6 481.5L529 481.4L529.3 481.4L529.6 481.4L529.9 481.5L530.2 481.5L530.5 481.5L530.8 481.4L531.1 481.5L531.4 481.5L531.7 481.6L532 481.5L532.3 481.6L532.6 481.6L532.9 481.6L533.3 481.5L533.6 481.5L533.9 481.5L534.2 481.5L534.5 481.4L534.8 481.4L535.1 481.4L535.4 481.5" stroke="#00ff00"/>
<path d="M320.4 496.7L320.7 496.7L321 496.6L321.3 496.6L321.6 496.5L321.9 496.6L322.2 496.6L322.6 496.6L322.9 496.6L323.2 496.6L323.5 496.6L323.8 496.6L324.1 496.6L324.4 496.6L324.7 496.6L325 496.6L325.3 496.6L325.6 496.6L325.9 496.6L326.2 496.6L326.5 496.5L326.9 496.5L327.2 496.5L327.5 496.4L327.8 496.5L328.1 496.5L328.4 496.6L328.7 496.6L329 496.6L329.3 496.6L329.6 496.6L329.9 496.6L330.2 496.5L330.5 496.5L330.8 496.6L331.2 496.6L331.5 496.6L331.8 496.5L332.1 496.6L332.4 496.5L332.7 496.6L333 496.5L333.3 496.4L333.6 496.4L333.9 496.4L334.2 496.5L334.5 496.6L334.8 496.5L335.1 496.4L335.5 496.5L335.8 496.6L336.1 496.6L336.4 496.6L336.7 496.6L337 496.5L337.3 496.5L337.6 496.5L337.9 496.5L338.2 496.5L338.5 496.4L338.8 496.4L339.1 496.4L339.4 496.4L339.8 496.4L340.1 496.5L340.4 496.5L340.7 496.5L341 496.5L341.3 496.4L341.6 496.4L341.9 496.3L342.2 496.3L342.5 496.3L342.8 496.3L343.1 496.3L343.4 496.2L343.7 496.2L344.1 496.1L344.4 496.1L344.7 496.1L345 496.1L345.3 496.1L345.6 496.1L345.9 496L346.2 496L346.5 495.9L346.8 495.7L347.1 495.7L347.4 495.5L347.7 495.4L348 495.2L348.4 494.9L348.7 494.5L349 494.1L349.3 493.4L349.6 492.7L349.9 491.7L350.2 490.5L350.5 489.1L350.8 487.4L351.1 485.3L351.4 483L351.7 480.5L352 477.8L352.3 474.9L352.7 472L353 469.2L353.3 466.6L353.6 464.5L353.9 462.8L354.2 461.7L354.5 461.4L354.8 462L355.1 463.4L355.4 465.4L355.7 467.7L356 470.4L356.3 473.3L356.6 476.3L357 479.2L357.3 481.9L357.6 484.2L357.9 486.4L358.2 488.2L358.5 489.8L358.8 491.1L359.1 492.2L359.4 493.1L359.7 493.8L360 494.3L360.3 494.7L360.6 495.1L360.9 495.4L361.3 495.5L361.6 495.6L361.9 495.6L362.2 495.7L362.5 495.8L362.8 495.9L363.1 496L363.4 496L363.7 496L364 496.1L364.3 496.2L364.6 496.3L364.9 496.3L365.2 496.4L365.6 496.4L365.9 496.4L366.2 496.4L366.5 496.4L366.8 496.4L367.1 496.4L367.4 496.4L367.7 496.5L368 496.4L368.3 496.4L368.6 496.3L368.9 496.3L369.2 496.3L369.5 496.5L369.9 496.5L370.2 496.5L370.5 496.4L370.8 496.5L371.1 496.6L371.4 496.6L371.7 496.6L372 496.5L372.3 496.6L372.6 496.7L372.9 496.7L373.2 496.6L373.5 496.6L373.8 496.6L374.2 496.6L374.5 496.6L374.8 496.6L375.1 496.6L375.4 496.6L375.7 496.7L376 496.7L376.3 496.7L376.6 496.6L376.9 496.6L377.2 496.5L377.5 496.6L377.8 496.6L378.1 496.6L378.5 496.6L378.8 496.7L379.1 496.8L379.4 496.8L379.7 496.6L380 496.5L380.3 496.5L380.6 496.6L380.9 496.7L381.2 496.7L381.5 496.7L381.8 496.7L382.1 496.7L382.4 496.7L382.8 496.6L383.1 496.6L383.4 496.6L383.7 496.7L384 496.8L384.3 496.7L384.6 496.7L384.9 496.7L385.2 496.8L385.5 496.8L385.8 496.8L386.1 496.7L386.4 496.8L386.7 496.8L387.1 496.8L387.4 496.8L387.7 496.8L388 496.8L388.3 496.8L388.6 496.7L388.9 496.7L389.2 496.6L389.5 496.6L389.8 496.6L390.1 496.6L390.4 496.6L390.7 496.6L391 496.7L391.4 496.7L391.7 496.8L392 496.8L392.3 496.8L392.6 496.8L392.9 496.8L393.2 496.7L393.5 496.6L393.8 496.5L394.1 496.6L394.4 496.7L394.7 496.8L395 496.8L395.3 496.8L395.7 496.8L396 496.8L396.3 496.8L396.6 496.9L396.9 496.8L397.2 496.7L397.5 496.7L397.8 496.7L398.1 496.7L398.4 496.8L398.7 496.7L399 496.8L399.3 496.7L399.6 496.8L400 496.7L400.3 496.7L400.6 496.7L400.9 496.7L401.2 496.7L401.5 496.8L401.8 496.8L402.1 496.8L402.4 496.8L402.7 496.8L403 496.8L403.3 496.8L403.6 496.8L403.9 496.7L404.3 496.7L404.6 496.7L404.9 496.7L405.2 496.8L405.5 496.9L405.8 496.9L406.1 496.8L406.4 496.8L406.7 496.7L407 496.7L407.3 496.7L407.6 496.8L407.9 496.9L408.2 496.8L408.6 496.8L408.9 496.7L409.2 496.7L409.5 496.8L409.8 496.8L410.1 496.7L410.4 496.8L410.7 496.8L411 496.8L411.3 496.8L411.6 496.8L411.9 496.8L412.2 496.7L412.5 496.8L412.9 496.8L413.2 496.8L413.5 496.8L413.8 496.8L414.1 496.9L414.4 496.8L414.7 496.8L415 496.8L415.3 496.8L415.6 496.8L415.9 496.8L416.2 496.8L416.5 496.8L416.8 496.7L417.2 496.7L417.5 496.8L417.8 496.8L418.1 496.7L418.4 496.7L418.7 496.8L419 496.8L419.3 496.8L419.6 496.8L419.9 496.7L420.2 496.7L420.5 496.7L420.8 496.7L421.1 496.7L421.5 496.7L421.8 496.7L422.1 496.8L422.4 496.8L422.7 496.9L423 496.9L423.3 496.9L423.6 496.8L423.9 496.8L424.2 496.8L424.5 496.8L424.8 496.8L425.1 496.9L425.4 496.8L425.8 496.8L426.1 496.8L426.4 496.8L426.7 496.8L427 496.8L427.3 496.9L427.6 496.8L427.9 496.8L428.2 496.7L428.5 496.7L428.8 496.8L429.1 496.8L429.4 496.8L429.7 496.8L430.1 496.8L430.4 496.8L430.7 496.8L431 496.8L431.3 496.8L431.6 496.8L431.9 496.9L432.2 496.9L432.5 496.9L432.8 496.9L433.1 496.8L433.4 496.8L433.7 496.8L434 496.8L434.4 496.8L434.7 496.7L435 496.8L435.3 496.8L435.6 496.8L435.9 496.8L436.2 496.8L436.5 496.8L436.8 496.7L437.1 496.8L437.4 496.8L437.7 496.8L438 496.9L438.3 496.8L438.7 496.8L439 496.8L439.3 496.8L439.6 496.9L439.9 496.8L440.2 496.8L440.5 496.7L440.8 496.8L441.1 496.8L441.4 496.9L441.7 496.9L442 496.9L442.3 496.9L442.6 496.8L443 496.8L443.3 496.8L443.6 496.8L443.9 496.8L444.2 496.8L444.5 496.9L444.8 496.8L445.1 496.9L445.4 496.8L445.7 496.8L446 496.8L446.3 496.9L446.6 496.9L446.9 496.9L447.3 496.8L447.6 496.8L447.9 496.7L448.2 496.8L448.5 496.8L448.8 496.8L449.1 496.7L449.4 496.7L449.7 496.8L450 496.9L450.3 496.8L450.6 496.7L450.9 496.7L451.2 496.8L451.6 496.7L451.9 496.8L452.2 496.8L452.5 496.9L452.8 496.8L453.1 496.8L453.4 496.7L453.7 496.7L454 496.8L454.3 496.8L454.6 496.8L454.9 496.8L455.2 496.8L455.5 496.8L455.9 496.7L456.2 496.7L456.5 496.7L456.8 496.8L457.1 496.8L457.4 496.7L457.7 496.7L458 496.8L458.3 496.8L458.6 496.8L458.9 496.7L459.2 496.8L459.5 496.7L459.8 496.7L460.2 496.6L460.5 496.7L460.8 496.7L461.1 496.7L461.4 496.6L461.7 496.6L462 496.7L462.3 496.7L462.6 496.7L462.9 496.7L463.2 496.7L463.5 496.7L463.8 496.7L464.1 496.7L464.5 496.6L464.8 496.6L465.1 496.6L465.4 496.5L465.7 496.5L466 496.5L466.3 496.6L466.6 496.5L466.9 496.5L467.2 496.4L467.5 496.3L467.8 496.2L468.1 496.3L468.4 496.2L468.8 496L469.1 495.8L469.4 495.6L469.7 495.3L470 495.1L470.3 494.7L470.6 494.3L470.9 493.7L471.2 493L471.5 492.1L471.8 491.1L472.1 489.9L472.4 488.5L472.7 487L473.1 485.5L473.4 483.9L473.7 482.4L474 481L474.3 479.5L474.6 478.4L474.9 477.5L475.2 477L475.5 476.9L475.8 477.1L476.1 477.7L476.4 478.7L476.7 480L477 481.5L477.4 483.1L477.7 484.7L478 486.2L478.3 487.7L478.6 489L478.9 490.3L479.2 491.4L479.5 492.4L479.8 493.3L480.1 493.9L480.4 494.5L480.7 494.9L481 495.3L481.3 495.6L481.7 495.8L482 495.9L482.3 496L482.6 496.2L482.9 496.3L483.2 496.4L483.5 496.4L483.8 496.4L484.1 496.4L484.4 496.4L484.7 496.5L485 496.5L485.3 496.6L485.6 496.6L486 496.7L486.3 496.7L486.6 496.7L486.9 496.6L487.2 496.7L487.5 496.7L487.8 496.8L488.1 496.8L488.4 496.8L488.7 496.9L489 496.8L489.3 496.8L489.6 496.7L489.9 496.8L490.3 496.8L490.6 496.8L490.9 496.8L491.2 496.7L491.5 496.7L491.8 496.7L492.1 496.8L492.4 496.7L492.7 496.8L493 496.8L493.3 496.9L493.6 496.9L493.9 496.8L494.2 496.9L494.6 496.8L494.9 496.9L495.2 496.8L495.5 496.8L495.8 496.7L496.1 496.8L496.4 496.8L496.7 496.8L497 496.8L497.3 496.9L497.6 496.9L497.9 497L498.2 497L498.5 496.9L498.9 496.8L499.2 496.8L499.5 496.8L499.8 496.9L500.1 496.9L500.4 496.9L500.7 496.8L501 496.8L501.3 496.9L501.6 496.9L501.9 496.9L502.2 496.9L502.5 496.9L502.8 496.9L503.2 496.8L503.5 496.8L503.8 496.9L504.1 496.8L504.4 496.8L504.7 496.8L505 496.8L505.3 496.8L505.6 496.7L505.9 496.7L506.2 496.6L506.5 496.6L506.8 496.5L507.1 496.5L507.5 496.4L507.8 496.4L508.1 496.2L508.4 496.1L508.7 495.8L509 495.7L509.3 495.4L509.6 495.3L509.9 495L510.2 494.8L510.5 494.6L510.8 494.5L511.1 494.3L511.4 494.1L511.8 493.9L512.1 493.7L512.4 493.7L512.7 493.7L513 493.8L513.3 493.9L513.6 494L513.9 494.1L514.2 494.2L514.5 494.4L514.8 494.7L515.1 494.9L515.4 495.1L515.7 495.2L516.1 495.4L516.4 495.7L516.7 495.9L517 496.1L517.3 496.1L517.6 496.3L517.9 496.4L518.2 496.6L518.5 496.6L518.8 496.7L519.1 496.6L519.4 496.7L519.7 496.8L520 496.8L520.4 496.8L520.7 496.8L521 496.9L521.3 496.8L521.6 496.8L521.9 496.9L522.2 496.9L522.5 496.9L522.8 497L523.1 497L523.4 497.1L523.7 496.9L524 496.9L524.3 496.8L524.7 496.7L525 496.7L525.3 496.8L525.6 497L525.9 497L526.2 496.9L526.5 496.9L526.8 496.9L527.1 496.8L527.4 496.8L527.7 496.8L528 496.9L528.3 496.9L528.6 497L529 496.9L529.3 497L529.6 497.1L529.9 497.1L530.2 497L530.5 497L530.8 497L531.1 497L531.4 497L531.7 497L532 497.1L532.3 497L532.6 497L532.9 496.9L533.3 497L533.6 497L533.9 497L534.2 497L534.5 497L534.8 497L535.1 497L535.4 497" stroke="#0000ff"/>
<path d="M320.4 510.5L320.7 510.5L321 510.4L321.3 510.4L321.6 510.5L321.9 510.5L322.2 510.4L322.6 510.4L322.9 510.4L323.2 510.4L323.5 510.4L323.8 510.4L324.1 510.4L324.4 510.4L324.7 510.4L325 510.4L325.3 510.4L325.6 510.4L325.9 510.4L326.2 510.4L326.5 510.5L326.9 510.5L327.2 510.4L327.5 510.4L327.8 510.4L328.1 510.4L328.4 510.4L328.7 510.4L329 510.5L329.3 510.5L329.6 510.4L329.9 510.4L330.2 510.4L330.5 510.4L330.8 510.3L331.2 510.3L331.5 510.4L331.8 510.3L332.1 510.4L332.4 510.4L332.7 510.4L333 510.4L333.3 510.4L333.6 510.3L333.9 510.3L334.2 510.3L334.5 510.4L334.8 510.4L335.1 510.5L335.5 510.4L335.8 510.4L336.1 510.4L336.4 510.4L336.7 510.4L337 510.3L337.3 510.3L337.6 510.3L337.9 510.3L338.2 510.3L338.5 510.3L338.8 510.3L339.1 510.4L339.4 510.4L339.8 510.4L340.1 510.4L340.4 510.4L340.7 510.4L341 510.4L341.3 510.4L341.6 510.4L341.9 510.4L342.2 510.4L342.5 510.4L342.8 510.3L343.1 510.3L343.4 510.3L343.7 510.3L344.1 510.3L344.4 510.3L344.7 510.3L345 510.2L345.3 510.3L345.6 510.2L345.9 510.2L346.2 510.1L346.5 510.1L346.8 510.1L347.1 510.1L347.4 510L347.7 510L348 509.8L348.4 509.7L348.7 509.5L349 509.2L349.3 508.8L349.6 508.3L349.9 507.7L350.2 506.9L350.5 505.9L350.8 504.7L351.1 503.2L351.4 501.5L351.7 499.6L352 497.5L352.3 495.2L352.7 493L353 490.8L353.3 488.7L353.6 487L353.9 485.7L354.2 484.9L354.5 484.8L354.8 485.2L355.1 486.2L355.4 487.7L355.7 489.7L356 491.9L356.3 494.1L356.6 496.4L357 498.5L357.3 500.6L357.6 502.4L357.9 504L358.2 505.4L358.5 506.5L358.8 507.4L359.1 508.1L359.4 508.7L359.7 509L360 509.3L360.3 509.6L360.6 509.8L360.9 509.9L361.3 510L361.6 510L361.9 510L362.2 510.1L362.5 510.1L362.8 510.2L363.1 510.2L363.4 510.2L363.7 510.2L364 510.3L364.3 510.3L364.6 510.3L364.9 510.3L365.2 510.3L365.6 510.3L365.9 510.3L366.2 510.3L366.5 510.2L366.8 510.3L367.1 510.3L367.4 510.3L367.7 510.3L368 510.3L368.3 510.4L368.6 510.4L368.9 510.4L369.2 510.4L369.5 510.4L369.9 510.4L370.2 510.4L370.5 510.4L370.8 510.4L371.1 510.4L371.4 510.4L371.7 510.4L372 510.3L372.3 510.4L372.6 510.5L372.9 510.5L373.2 510.4L373.5 510.4L373.8 510.4L374.2 510.4L374.5 510.4L374.8 510.4L375.1 510.4L375.4 510.5L375.7 510.4L376 510.4L376.3 510.4L376.6 510.4L376.9 510.4L377.2 510.4L377.5 510.4L377.8 510.5L378.1 510.5L378.5 510.5L378.8 510.5L379.1 510.4L379.4 510.4L379.7 510.4L380 510.4L380.3 510.5L380.6 510.5L380.9 510.5L381.2 510.5L381.5 510.5L381.8 510.5L382.1 510.5L382.4 510.5L382.8 510.5L383.1 510.5L383.4 510.4L383.7 510.4L384 510.5L384.3 510.5L384.6 510.5L384.9 510.4L385.2 510.5L385.5 510.5L385.8 510.4L386.1 510.4L386.4 510.4L386.7 510.4L387.1 510.4L387.4 510.4L387.7 510.5L388 510.5L388.3 510.4L388.6 510.4L388.9 510.5L389.2 510.5L389.5 510.5L389.8 510.5L390.1 510.4L390.4 510.4L390.7 510.4L391 510.5L391.4 510.5L391.7 510.5L392 510.5L392.3 510.5L392.6 510.5L392.9 510.5L393.2 510.5L393.5 510.5L393.8 510.4L394.1 510.4L394.4 510.5L394.7 510.5L395 510.6L395.3 510.5L395.7 510.5L396 510.5L396.3 510.5L396.6 510.5L396.9 510.5L397.2 510.5L397.5 510.5L397.8 510.5L398.1 510.5L398.4 510.5L398.7 510.5L399 510.5L399.3 510.5L399.6 510.5L400 510.5L400.3 510.5L400.6 510.5L400.9 510.6L401.2 510.6L401.5 510.6L401.8 510.5L402.1 510.5L402.4 510.5L402.7 510.5L403 510.5L403.3 510.5L403.6 510.5L403.9 510.5L404.3 510.5L404.6 510.5L404.9 510.5L405.2 510.5L405.5 510.5L405.8 510.5L406.1 510.5L406.4 510.5L406.7 510.4L407 510.4L407.3 510.4L407.6 510.5L407.9 510.6L408.2 510.6L408.6 510.5L408.9 510.5L409.2 510.5L409.5 510.5L409.8 510.5L410.1 510.6L410.4 510.6L410.7 510.6L411 510.5L411.3 510.5L411.6 510.5L411.9 510.5L412.2 510.6L412.5 510.6L412.9 510.6L413.2 510.5L413.5 510.5L413.8 510.5L414.1 510.6L414.4 510.6L414.7 510.6L415 510.6L415.3 510.5L415.6 510.5L415.9 510.5L416.2 510.5L416.5 510.5L416.8 510.5L417.2 510.6L417.5 510.6L417.8 510.6L418.1 510.6L418.4 510.5L418.7 510.4L419 510.5L419.3 510.5L419.6 510.5L419.9 510.5L420.2 510.6L420.5 510.6L420.8 510.5L421.1 510.4L421.5 510.4L421.8 510.5L422.1 510.5L422.4 510.5L422.7 510.5L423 510.5L423.3 510.5L423.6 510.5L423.9 510.5L424.2 510.5L424.5 510.5L424.8 510.6L425.1 510.5L425.4 510.5L425.8 510.6L426.1 510.6L426.4 510.6L426.7 510.6L427 510.5L427.3 510.5L427.6 510.5L427.9 510.5L428.2 510.5L428.5 510.5L428.8 510.5L429.1 510.5L429.4 510.5L429.7 510.5L430.1 510.5L430.4 510.6L430.7 510.6L431 510.7L431.3 510.6L431.6 510.6L431.9 510.5L432.2 510.5L432.5 510.6L432.8 510.6L433.1 510.6L433.4 510.5L433.7 510.6L434 510.5L434.4 510.5L434.7 510.5L435 510.5L435.3 510.5L435.6 510.5L435.9 510.6L436.2 510.6L436.5 510.6L436.8 510.6L437.1 510.6L437.4 510.6L437.7 510.5L438 510.5L438.3 510.5L438.7 510.5L439 510.5L439.3 510.6L439.6 510.6L439.9 510.5L440.2 510.5L440.5 510.5L440.8 510.5L441.1 510.5L441.4 510.5L441.7 510.6L442 510.6L442.3 510.6L442.6 510.5L443 510.4L443.3 510.5L443.6 510.4L443.9 510.5L444.2 510.5L444.5 510.5L444.8 510.5L445.1 510.6L445.4 510.6L445.7 510.5L446 510.6L446.3 510.5L446.6 510.5L446.9 510.5L447.3 510.6L447.6 510.6L447.9 510.6L448.2 510.5L448.5 510.5L448.8 510.5L449.1 510.5L449.4 510.5L449.7 510.5L450 510.6L450.3 510.5L450.6 510.5L450.9 510.5L451.2 510.6L451.6 510.5L451.9 510.5L452.2 510.5L452.5 510.5L452.8 510.5L453.1 510.5L453.4 510.5L453.7 510.6L454 510.6L454.3 510.6L454.6 510.5L454.9 510.6L455.2 510.5L455.5 510.5L455.9 510.5L456.2 510.5L456.5 510.5L456.8 510.5L457.1 510.5L457.4 510.5L457.7 510.5L458 510.5L458.3 510.5L458.6 510.5L458.9 510.5L459.2 510.5L459.5 510.5L459.8 510.6L460.2 510.5L460.5 510.5L460.8 510.5L461.1 510.5L461.4 510.4L461.7 510.4L462 510.4L462.3 510.4L462.6 510.4L462.9 510.5L463.2 510.6L463.5 510.6L463.8 510.6L464.1 510.5L464.5 510.5L464.8 510.4L465.1 510.5L465.4 510.4L465.7 510.4L466 510.4L466.3 510.4L466.6 510.4L466.9 510.3L467.2 510.4L467.5 510.3L467.8 510.3L468.1 510.2L468.4 510.2L468.8 510.2L469.1 510.1L469.4 510L469.7 509.9L470 509.7L470.3 509.4L470.6 509.1L470.9 508.7L471.2 508.1L471.5 507.5L471.8 506.7L472.1 505.8L472.4 504.7L472.7 503.6L473.1 502.3L473.4 501L473.7 499.7L474 498.5L474.3 497.4L474.6 496.4L474.9 495.7L475.2 495.3L475.5 495.2L475.8 495.4L476.1 495.9L476.4 496.7L476.7 497.8L477 498.9L477.4 500.2L477.7 501.5L478 502.8L478.3 504L478.6 505.1L478.9 506.1L479.2 506.9L479.5 507.7L479.8 508.4L480.1 508.9L480.4 509.3L480.7 509.5L481 509.7L481.3 510L481.7 510L482 510.2L482.3 510.2L482.6 510.3L482.9 510.4L483.2 510.4L483.5 510.4L483.8 510.4L484.1 510.5L484.4 510.5L484.7 510.5L485 510.5L485.3 510.5L485.6 510.5L486 510.5L486.3 510.5L486.6 510.5L486.9 510.5L487.2 510.5L487.5 510.5L487.8 510.5L488.1 510.6L488.4 510.5L488.7 510.6L489 510.5L489.3 510.6L489.6 510.6L489.9 510.6L490.3 510.6L490.6 510.5L490.9 510.5L491.2 510.5L491.5 510.5L491.8 510.6L492.1 510.5L492.4 510.5L492.7 510.6L493 510.6L493.3 510.6L493.6 510.6L493.9 510.6L494.2 510.6L494.6 510.6L494.9 510.6L495.2 510.6L495.5 510.5L495.8 510.5L496.1 510.5L496.4 510.5L496.7 510.6L497 510.6L497.3 510.6L497.6 510.6L497.9 510.6L498.2 510.6L498.5 510.5L498.9 510.6L499.2 510.5L499.5 510.5L499.8 510.5L500.1 510.5L500.4 510.5L500.7 510.6L501 510.6L501.3 510.7L501.6 510.7L501.9 510.6L502.2 510.5L502.5 510.5L502.8 510.6L503.2 510.6L503.5 510.6L503.8 510.6L504.1 510.6L504.4 510.6L504.7 510.6L505 510.6L505.3 510.6L505.6 510.6L505.9 510.6L506.2 510.5L506.5 510.4L506.8 510.4L507.1 510.4L507.5 510.3L507.8 510.3L508.1 510.2L508.4 510.1L508.7 510L509 509.9L509.3 509.8L509.6 509.7L509.9 509.5L510.2 509.4L510.5 509.2L510.8 509L511.1 508.8L511.4 508.7L511.8 508.7L512.1 508.6L512.4 508.5L512.7 508.5L513 508.5L513.3 508.5L513.6 508.6L513.9 508.8L514.2 508.9L514.5 509L514.8 509.2L515.1 509.4L515.4 509.6L515.7 509.7L516.1 509.8L516.4 509.9L516.7 510L517 510.1L517.3 510.2L517.6 510.3L517.9 510.4L518.2 510.4L518.5 510.5L518.8 510.5L519.1 510.5L519.4 510.5L519.7 510.5L520 510.5L520.4 510.6L520.7 510.6L521 510.7L521.3 510.7L521.6 510.7L521.9 510.6L522.2 510.6L522.5 510.6L522.8 510.6L523.1 510.6L523.4 510.6L523.7 510.6L524 510.6L524.3 510.6L524.7 510.7L525 510.7L525.3 510.6L525.6 510.6L525.9 510.6L526.2 510.6L526.5 510.6L526.8 510.6L527.1 510.6L527.4 510.6L527.7 510.7L528 510.6L528.3 510.6L528.6 510.6L529 510.6L529.3 510.6L529.6 510.6L529.9 510.6L530.2 510.6L530.5 510.6L530.8 510.6L531.1 510.6L531.4 510.6L531.7 510.7L532 510.6L532.3 510.6L532.6 510.6L532.9 510.7L533.3 510.6L533.6 510.6L533.9 510.6L534.2 510.6L534.5 510.6L534.8 510.6L535.1 510.6L535.4 510.6" stroke="#00ffff"/>
</g>
<rect x="323.0" y="487.4" width="20.5" height="22.5" fill="#fff"/>
<text font-family='"Liberation Sans", sans-serif' font-size="14.6" fill="#0a0a0a" x="325.2" y="504.5">(c)</text>
<rect x="320.4" y="297.5" width="215.0" height="215.29999999999995" fill="none" stroke="#1a1a1a" stroke-width="1.05"/>
<path d="M318.5 494.9H320.4M316.59999999999997 476.9H320.4M318.5 459.0H320.4M316.59999999999997 441.0H320.4M318.5 423.1H320.4M316.59999999999997 405.1H320.4M318.5 387.2H320.4M316.59999999999997 369.3H320.4M318.5 351.3H320.4M316.59999999999997 333.4H320.4M318.5 315.4H320.4M316.59999999999997 297.5H320.4M320.4 512.8V516.5999999999999M322.9 512.8V514.6999999999999M325.5 512.8V514.6999999999999M328.0 512.8V514.6999999999999M330.5 512.8V514.6999999999999M333.0 512.8V516.5999999999999M335.6 512.8V514.6999999999999M338.1 512.8V514.6999999999999M340.6 512.8V514.6999999999999M343.2 512.8V514.6999999999999M345.7 512.8V516.5999999999999M348.2 512.8V514.6999999999999M350.8 512.8V514.6999999999999M353.3 512.8V514.6999999999999M355.8 512.8V514.6999999999999M358.3 512.8V516.5999999999999M360.9 512.8V514.6999999999999M363.4 512.8V514.6999999999999M365.9 512.8V514.6999999999999M368.5 512.8V514.6999999999999M371.0 512.8V516.5999999999999M373.5 512.8V514.6999999999999M376.0 512.8V514.6999999999999M378.6 512.8V514.6999999999999M381.1 512.8V514.6999999999999M383.6 512.8V516.5999999999999M386.2 512.8V514.6999999999999M388.7 512.8V514.6999999999999M391.2 512.8V514.6999999999999M393.8 512.8V514.6999999999999M396.3 512.8V516.5999999999999M398.8 512.8V514.6999999999999M401.3 512.8V514.6999999999999M403.9 512.8V514.6999999999999M406.4 512.8V514.6999999999999M408.9 512.8V516.5999999999999M411.5 512.8V514.6999999999999M414.0 512.8V514.6999999999999M416.5 512.8V514.6999999999999M419.0 512.8V514.6999999999999M421.6 512.8V516.5999999999999M424.1 512.8V514.6999999999999M426.6 512.8V514.6999999999999M429.2 512.8V514.6999999999999M431.7 512.8V514.6999999999999M434.2 512.8V516.5999999999999M436.8 512.8V514.6999999999999M439.3 512.8V514.6999999999999M441.8 512.8V514.6999999999999M444.3 512.8V514.6999999999999M446.9 512.8V516.5999999999999M449.4 512.8V514.6999999999999M451.9 512.8V514.6999999999999M454.5 512.8V514.6999999999999M457.0 512.8V514.6999999999999M459.5 512.8V516.5999999999999M462.0 512.8V514.6999999999999M464.6 512.8V514.6999999999999M467.1 512.8V514.6999999999999M469.6 512.8V514.6999999999999M472.2 512.8V516.5999999999999M474.7 512.8V514.6999999999999M477.2 512.8V514.6999999999999M479.8 512.8V514.6999999999999M482.3 512.8V514.6999999999999M484.8 512.8V516.5999999999999M487.3 512.8V514.6999999999999M489.9 512.8V514.6999999999999M492.4 512.8V514.6999999999999M494.9 512.8V514.6999999999999M497.5 512.8V516.5999999999999M500.0 512.8V514.6999999999999M502.5 512.8V514.6999999999999M505.0 512.8V514.6999999999999M507.6 512.8V514.6999999999999M510.1 512.8V516.5999999999999M512.6 512.8V514.6999999999999M515.2 512.8V514.6999999999999M517.7 512.8V514.6999999999999M520.2 512.8V514.6999999999999M522.8 512.8V516.5999999999999M525.3 512.8V514.6999999999999M527.8 512.8V514.6999999999999M530.3 512.8V514.6999999999999M532.9 512.8V514.6999999999999M535.4 512.8V516.5999999999999" stroke="#1a1a1a" stroke-width="0.9" fill="none"/>
<g font-family='"Liberation Sans", sans-serif' font-size="7.3" fill="#0a0a0a">
<text x="314.2" y="479.5" text-anchor="end">10k</text>
<text x="314.2" y="443.6" text-anchor="end">20k</text>
<text x="314.2" y="407.8" text-anchor="end">30k</text>
<text x="314.2" y="371.9" text-anchor="end">40k</text>
<text x="314.2" y="336.0" text-anchor="end">50k</text>
<text x="314.2" y="300.1" text-anchor="end">60k</text>
<text x="320.4" y="524.3" text-anchor="middle">48</text>
<text x="333.0" y="524.3" text-anchor="middle">49</text>
<text x="345.7" y="524.3" text-anchor="middle">50</text>
<text x="358.3" y="524.3" text-anchor="middle">51</text>
<text x="371.0" y="524.3" text-anchor="middle">52</text>
<text x="383.6" y="524.3" text-anchor="middle">53</text>
<text x="396.3" y="524.3" text-anchor="middle">54</text>
<text x="408.9" y="524.3" text-anchor="middle">55</text>
<text x="421.6" y="524.3" text-anchor="middle">56</text>
<text x="434.2" y="524.3" text-anchor="middle">57</text>
<text x="446.9" y="524.3" text-anchor="middle">58</text>
<text x="459.5" y="524.3" text-anchor="middle">59</text>
<text x="472.2" y="524.3" text-anchor="middle">60</text>
<text x="484.8" y="524.3" text-anchor="middle">61</text>
<text x="497.5" y="524.3" text-anchor="middle">62</text>
<text x="510.1" y="524.3" text-anchor="middle">63</text>
<text x="522.8" y="524.3" text-anchor="middle">64</text>
<text x="535.4" y="524.3" text-anchor="middle">65</text>
</g>
<text font-family='"Liberation Sans", sans-serif' font-size="9.7" fill="#0a0a0a" y="544.2"><tspan x="402.4">2</tspan><tspan x="408.3" font-family="Liberation Serif, serif" font-size="9.4" stroke="none">ϑ</tspan><tspan x="416.3">[degree]</tspan></text>
<text font-family='"Liberation Sans", sans-serif' font-size="9.9" fill="#0a0a0a" transform="translate(292.4,404.9) rotate(-90)" text-anchor="middle">XRD intensity [counts/s]</text>
<g font-family='"Liberation Sans", sans-serif' font-size="10.7" fill="#0a0a0a">
<text x="392.0" y="359.7">DKKK</text>
<text x="392.5" y="375.4">temperature, <tspan font-size="7" dy="-4">o</tspan><tspan dy="4">C</tspan></text>
<path d="M391.9 384.8H416.4" stroke="#00ffff" stroke-width="1.3"/>
<text x="418.79999999999995" y="388.6">1400</text>
<path d="M391.9 397.9H416.4" stroke="#0000ff" stroke-width="1.3"/>
<text x="418.79999999999995" y="401.7">1300</text>
<path d="M391.9 410.9H416.4" stroke="#00ff00" stroke-width="1.3"/>
<text x="418.79999999999995" y="414.7">1200</text>
<path d="M391.9 424.0H416.4" stroke="#ff0000" stroke-width="1.3"/>
<text x="418.79999999999995" y="427.8">1100</text>
<path d="M391.9 437.0H416.4" stroke="#000000" stroke-width="1.3"/>
<text x="418.79999999999995" y="440.8">1000</text>
</g>
</svg>
</body></html>
